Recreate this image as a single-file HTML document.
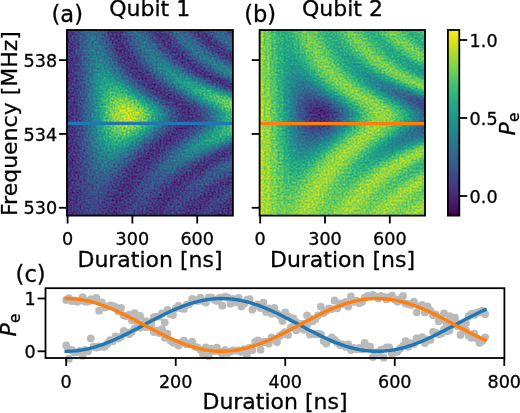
<!DOCTYPE html>
<html><head><meta charset="utf-8"><title>Figure</title><style>html,body{margin:0;padding:0;background:#fff;overflow:hidden}svg{display:block}</style></head><body>
<svg width="520" height="413" viewBox="0 0 520 413" font-family='"DejaVu Sans", "Liberation Sans", sans-serif' fill="#000"><style>text{stroke:#000;stroke-width:0.3px}</style>
<rect width="520" height="413" fill="#fff"/>
<defs><filter id="virca" x="0" y="0" width="100%" height="100%" color-interpolation-filters="sRGB"><feGaussianBlur in="SourceGraphic" stdDeviation="0.8" result="g"/><feTurbulence type="fractalNoise" baseFrequency="0.5" numOctaves="2" seed="3" result="t"/><feColorMatrix in="t" type="matrix" values="1 0 0 0 0  1 0 0 0 0  1 0 0 0 0  0 0 0 0 1" result="n"/><feComposite in="g" in2="n" operator="arithmetic" k1="0" k2="1" k3="0.420" k4="-0.210" result="v"/><feComponentTransfer in="v"><feFuncR type="table" tableValues="0.267 0.273 0.277 0.280 0.282 0.283 0.283 0.281 0.279 0.275 0.271 0.265 0.259 0.252 0.245 0.237 0.228 0.220 0.212 0.205 0.198 0.191 0.184 0.177 0.171 0.165 0.159 0.153 0.148 0.142 0.136 0.131 0.125 0.122 0.120 0.120 0.122 0.128 0.137 0.150 0.166 0.186 0.208 0.233 0.260 0.289 0.320 0.352 0.395 0.431 0.468 0.506 0.546 0.586 0.627 0.668 0.710 0.752 0.794 0.835 0.876 0.916 0.955 0.993"/><feFuncG type="table" tableValues="0.005 0.026 0.050 0.073 0.095 0.116 0.136 0.156 0.175 0.195 0.214 0.233 0.252 0.270 0.288 0.305 0.327 0.343 0.360 0.376 0.392 0.407 0.422 0.438 0.453 0.467 0.482 0.497 0.512 0.526 0.541 0.556 0.574 0.589 0.604 0.618 0.633 0.648 0.662 0.677 0.691 0.705 0.719 0.732 0.745 0.758 0.771 0.783 0.797 0.808 0.819 0.829 0.838 0.847 0.855 0.862 0.869 0.875 0.881 0.886 0.891 0.896 0.901 0.906"/><feFuncB type="table" tableValues="0.329 0.353 0.376 0.397 0.417 0.436 0.453 0.469 0.483 0.496 0.507 0.517 0.525 0.532 0.537 0.542 0.547 0.549 0.552 0.554 0.555 0.556 0.557 0.558 0.558 0.558 0.558 0.558 0.557 0.556 0.554 0.552 0.549 0.546 0.541 0.536 0.530 0.523 0.516 0.507 0.497 0.485 0.473 0.459 0.444 0.428 0.411 0.393 0.368 0.346 0.324 0.300 0.276 0.250 0.223 0.196 0.169 0.143 0.120 0.103 0.095 0.101 0.118 0.144"/></feComponentTransfer></filter><filter id="vircb2" x="0" y="0" width="100%" height="100%" color-interpolation-filters="sRGB"><feGaussianBlur in="SourceGraphic" stdDeviation="0.8" result="g"/><feTurbulence type="fractalNoise" baseFrequency="0.5" numOctaves="2" seed="11" result="t"/><feColorMatrix in="t" type="matrix" values="1 0 0 0 0  1 0 0 0 0  1 0 0 0 0  0 0 0 0 1" result="n"/><feComposite in="g" in2="n" operator="arithmetic" k1="0" k2="1" k3="0.340" k4="-0.170" result="v"/><feComponentTransfer in="v"><feFuncR type="table" tableValues="0.267 0.273 0.277 0.280 0.282 0.283 0.283 0.281 0.279 0.275 0.271 0.265 0.259 0.252 0.245 0.237 0.228 0.220 0.212 0.205 0.198 0.191 0.184 0.177 0.171 0.165 0.159 0.153 0.148 0.142 0.136 0.131 0.125 0.122 0.120 0.120 0.122 0.128 0.137 0.150 0.166 0.186 0.208 0.233 0.260 0.289 0.320 0.352 0.395 0.431 0.468 0.506 0.546 0.586 0.627 0.668 0.710 0.752 0.794 0.835 0.876 0.916 0.955 0.993"/><feFuncG type="table" tableValues="0.005 0.026 0.050 0.073 0.095 0.116 0.136 0.156 0.175 0.195 0.214 0.233 0.252 0.270 0.288 0.305 0.327 0.343 0.360 0.376 0.392 0.407 0.422 0.438 0.453 0.467 0.482 0.497 0.512 0.526 0.541 0.556 0.574 0.589 0.604 0.618 0.633 0.648 0.662 0.677 0.691 0.705 0.719 0.732 0.745 0.758 0.771 0.783 0.797 0.808 0.819 0.829 0.838 0.847 0.855 0.862 0.869 0.875 0.881 0.886 0.891 0.896 0.901 0.906"/><feFuncB type="table" tableValues="0.329 0.353 0.376 0.397 0.417 0.436 0.453 0.469 0.483 0.496 0.507 0.517 0.525 0.532 0.537 0.542 0.547 0.549 0.552 0.554 0.555 0.556 0.557 0.558 0.558 0.558 0.558 0.558 0.557 0.556 0.554 0.552 0.549 0.546 0.541 0.536 0.530 0.523 0.516 0.507 0.497 0.485 0.473 0.459 0.444 0.428 0.411 0.393 0.368 0.346 0.324 0.300 0.276 0.250 0.223 0.196 0.169 0.143 0.120 0.103 0.095 0.101 0.118 0.144"/></feComponentTransfer></filter></defs>
<clipPath id="ca"><rect x="66.95" y="30.00" width="165.95" height="185.60"/></clipPath><g clip-path="url(#ca)"><g fill="none" stroke-width="2" shape-rendering="crispEdges" filter="url(#virca)"><path stroke="#242424" d="M64 29h6M112 29h4M154 29h6M194 29h4M232 29h4M64 31h6M112 31h6M156 31h4M196 31h4M234 31h2M64 33h6M114 33h4M158 33h4M198 33h4M64 35h6M114 35h4M158 35h6M200 35h4M64 37h6M114 37h6M160 37h4M202 37h4M64 39h6M116 39h4M162 39h4M204 39h4M64 41h6M116 41h6M162 41h6M206 41h4M64 43h6M116 43h6M164 43h6M208 43h4M64 45h6M118 45h6M166 45h4M210 45h6M64 47h6M118 47h6M168 47h4M214 47h4M64 49h6M120 49h4M170 49h4M216 49h4M64 51h6M120 51h6M172 51h4M218 51h6M64 53h6M122 53h6M174 53h4M222 53h4M64 55h6M122 55h6M176 55h4M224 55h4M64 57h6M124 57h6M178 57h4M228 57h4M64 59h6M126 59h4M180 59h6M230 59h6M64 61h6M126 61h6M182 61h6M234 61h2M64 63h6M128 63h6M186 63h4M64 65h6M130 65h4M188 65h6M64 67h6M130 67h6M190 67h6M64 69h6M132 69h6M194 69h6M64 71h6M134 71h6M198 71h4M64 73h6M136 73h6M200 73h6M64 75h6M138 75h6M204 75h6M64 77h6M140 77h6M208 77h6M64 79h6M142 79h6M212 79h6M64 81h6M144 81h6M216 81h6M64 83h6M146 83h6M220 83h6M64 85h6M148 85h6M226 85h6M64 87h6M152 87h6M230 87h6M64 89h6M154 89h6M64 91h6M156 91h8M64 93h6M160 93h6M64 95h6M162 95h8M64 97h6M166 97h6M64 99h8M168 99h8M64 101h8M172 101h6M64 103h8M174 103h8M64 105h8M178 105h6M64 107h8M180 107h8M64 109h8M182 109h8M64 111h8M184 111h8M64 113h8M186 113h6M64 115h8M186 115h8M64 117h8M186 117h8M64 119h8M186 119h6M64 121h8M184 121h8M64 123h8M184 123h6M64 125h8M182 125h6M64 127h8M180 127h8M64 129h8M178 129h8M64 131h8M176 131h6M64 133h8M174 133h6M64 135h8M170 135h8M64 137h8M168 137h8M64 139h8M166 139h6M64 141h8M164 141h6M64 143h8M160 143h8M64 145h8M158 145h8M64 147h8M156 147h8M64 149h8M154 149h6M232 149h4M64 151h8M152 151h6M228 151h6M64 153h8M150 153h6M224 153h6M64 155h8M148 155h6M220 155h6M64 157h8M146 157h6M216 157h6M64 159h8M144 159h6M212 159h6M64 161h8M142 161h6M208 161h6M64 163h8M140 163h6M204 163h8M64 165h8M138 165h6M202 165h6M64 167h8M136 167h8M198 167h6M64 169h8M134 169h8M194 169h8M64 171h8M132 171h8M192 171h6M64 173h8M130 173h8M188 173h8M64 175h8M130 175h6M186 175h8M64 177h8M128 177h8M184 177h6M232 177h4M64 179h8M126 179h8M180 179h8M230 179h6M64 181h8M126 181h6M178 181h8M226 181h6M64 183h8M124 183h8M176 183h8M222 183h8M64 185h8M122 185h8M174 185h8M220 185h6M64 187h8M122 187h8M172 187h6M216 187h8M64 189h8M120 189h8M170 189h6M214 189h6M64 191h8M120 191h8M168 191h6M210 191h8M64 193h8M118 193h8M166 193h8M208 193h6M64 195h8M116 195h10M164 195h8M206 195h6M64 197h8M116 197h8M162 197h8M202 197h8M64 199h8M114 199h10M160 199h8M200 199h8M64 201h8M114 201h8M158 201h8M198 201h8M234 201h2M64 203h8M114 203h8M156 203h8M196 203h8M232 203h4M64 205h8M112 205h8M156 205h8M194 205h6M228 205h8M64 207h8M112 207h8M154 207h8M192 207h6M226 207h8M64 209h8M110 209h10M152 209h8M190 209h6M224 209h6M64 211h8M110 211h8M150 211h8M188 211h6M220 211h8M64 213h8M108 213h10M150 213h8M186 213h8M218 213h8M64 215h8M108 215h10M148 215h8M184 215h8M216 215h8M64 217h8M108 217h8M146 217h8M182 217h8M214 217h8"/><path stroke="#262626" d="M70 29h2M110 29h2M116 29h2M198 29h2M230 29h2M70 31h2M154 31h2M160 31h2M200 31h2M232 31h2M70 33h2M112 33h2M118 33h2M156 33h2M162 33h2M196 33h2M202 33h2M234 33h2M70 35h2M112 35h2M118 35h2M198 35h2M204 35h2M70 37h2M158 37h2M164 37h2M200 37h2M206 37h2M70 39h2M114 39h2M120 39h2M160 39h2M166 39h2M202 39h2M208 39h2M70 41h2M114 41h2M204 41h2M210 41h2M70 43h2M122 43h2M212 43h2M70 45h2M116 45h2M164 45h2M170 45h2M70 47h2M124 47h2M166 47h2M172 47h2M212 47h2M70 49h2M118 49h2M124 49h2M168 49h2M174 49h2M214 49h2M220 49h2M70 51h2M126 51h2M170 51h2M176 51h2M70 53h2M120 53h2M172 53h2M178 53h2M220 53h2M226 53h2M70 55h2M128 55h2M174 55h2M180 55h2M222 55h2M228 55h2M70 57h2M122 57h2M176 57h2M182 57h2M226 57h2M232 57h2M70 59h2M124 59h2M130 59h2M178 59h2M70 61h2M132 61h2M188 61h2M232 61h2M70 63h2M126 63h2M184 63h2M190 63h2M70 65h2M128 65h2M134 65h2M186 65h2M70 67h2M136 67h2M196 67h2M70 69h2M138 69h2M192 69h2M70 71h2M132 71h2M140 71h2M196 71h2M202 71h2M70 73h2M134 73h2M142 73h2M206 73h2M70 75h2M136 75h2M144 75h2M202 75h2M70 77h2M138 77h2M146 77h2M206 77h2M70 79h2M140 79h2M148 79h2M210 79h2M70 81h2M142 81h2M150 81h2M214 81h2M222 81h2M70 83h2M144 83h2M152 83h2M226 83h2M70 85h2M154 85h2M224 85h2M70 87h2M150 87h2M158 87h2M70 89h2M152 89h2M160 89h2M234 89h2M70 91h2M70 93h2M158 93h2M166 93h2M70 95h2M70 97h2M164 97h2M172 97h2M176 99h2M170 101h2M178 101h2M182 103h2M176 105h2M184 105h2M178 107h2M188 107h2M180 109h2M190 109h2M182 111h2M192 111h2M184 113h2M192 113h2M184 115h2M194 115h2M184 117h2M194 117h2M184 119h2M192 119h2M182 121h2M192 121h2M182 123h2M190 123h2M180 125h2M188 125h2M178 127h2M176 129h2M174 131h2M182 131h2M172 133h2M180 133h2M178 135h2M72 137h2M166 137h2M176 137h2M72 139h2M164 139h2M172 139h2M72 141h2M162 141h2M170 141h2M72 143h2M168 143h2M72 145h2M156 145h2M166 145h2M72 147h2M154 147h2M72 149h2M152 149h2M160 149h2M230 149h2M72 151h2M150 151h2M158 151h2M226 151h2M234 151h2M72 153h2M148 153h2M156 153h2M222 153h2M230 153h2M72 155h2M146 155h2M154 155h2M218 155h2M226 155h2M72 157h2M144 157h2M152 157h2M214 157h2M222 157h2M72 159h2M142 159h2M150 159h2M210 159h2M218 159h2M72 161h2M140 161h2M148 161h2M206 161h2M214 161h2M72 163h2M138 163h2M146 163h2M202 163h2M72 165h2M136 165h2M144 165h2M200 165h2M208 165h2M72 167h2M134 167h2M196 167h2M204 167h2M72 169h2M132 169h2M142 169h2M192 169h2M202 169h2M72 171h2M130 171h2M140 171h2M190 171h2M198 171h2M72 173h2M128 173h2M138 173h2M196 173h2M72 175h2M128 175h2M136 175h2M184 175h2M234 175h2M72 177h2M126 177h2M136 177h2M182 177h2M190 177h2M72 179h2M124 179h2M134 179h2M188 179h2M228 179h2M72 181h2M124 181h2M132 181h2M176 181h2M186 181h2M224 181h2M232 181h2M72 183h2M122 183h2M132 183h2M174 183h2M184 183h2M220 183h2M72 185h2M120 185h2M130 185h2M172 185h2M218 185h2M226 185h2M72 187h2M120 187h2M130 187h2M170 187h2M178 187h2M214 187h2M72 189h2M118 189h2M128 189h2M168 189h2M176 189h2M212 189h2M220 189h2M72 191h2M118 191h2M128 191h2M166 191h2M174 191h2M208 191h2M218 191h2M72 193h2M116 193h2M126 193h2M164 193h2M174 193h2M206 193h2M214 193h2M72 195h2M114 195h2M126 195h2M162 195h2M172 195h2M204 195h2M212 195h2M72 197h2M114 197h2M124 197h2M160 197h2M170 197h2M200 197h2M210 197h2M72 199h2M112 199h2M124 199h2M158 199h2M168 199h2M198 199h2M208 199h2M72 201h2M112 201h2M122 201h2M156 201h2M166 201h2M196 201h2M206 201h2M232 201h2M72 203h2M110 203h4M122 203h2M154 203h2M164 203h2M194 203h2M204 203h2M230 203h2M72 205h2M110 205h2M120 205h4M154 205h2M164 205h2M192 205h2M200 205h2M226 205h2M72 207h4M108 207h4M120 207h2M152 207h2M162 207h2M190 207h2M198 207h2M224 207h2M72 209h4M108 209h2M120 209h2M150 209h2M160 209h2M188 209h2M196 209h2M222 209h2M230 209h2M72 211h4M108 211h2M118 211h2M148 211h2M158 211h2M186 211h2M194 211h2M228 211h2M72 213h4M106 213h2M118 213h2M146 213h4M158 213h2M184 213h2M194 213h2M216 213h2M226 213h2M72 215h4M106 215h2M118 215h2M146 215h2M156 215h2M182 215h2M192 215h2M214 215h2M224 215h2M72 217h4M104 217h4M116 217h2M144 217h2M154 217h4M180 217h2M190 217h2M212 217h2M222 217h2"/><path stroke="#282828" d="M152 29h2M160 29h2M192 29h2M110 31h2M118 31h2M194 31h2M110 33h2M120 35h2M156 35h2M164 35h2M112 37h2M120 37h2M112 39h2M122 41h2M160 41h2M168 41h2M114 43h2M162 43h2M170 43h2M206 43h2M124 45h2M172 45h2M208 45h2M216 45h2M72 47h2M116 47h2M210 47h2M218 47h2M72 49h2M126 49h2M72 51h2M118 51h2M216 51h2M224 51h2M72 53h2M128 53h2M72 55h2M120 55h2M72 57h2M130 57h2M184 57h2M72 59h2M122 59h2M132 59h2M186 59h2M228 59h2M72 61h2M124 61h2M180 61h2M72 63h2M134 63h2M182 63h2M72 65h2M126 65h2M136 65h2M194 65h2M72 67h2M128 67h2M188 67h2M72 69h2M130 69h2M200 69h2M72 71h2M194 71h2M72 73h2M198 73h2M72 75h2M210 75h2M72 77h2M214 77h2M72 79h2M218 79h2M72 81h2M72 83h2M154 83h2M218 83h2M72 85h2M146 85h2M156 85h2M232 85h2M72 87h2M148 87h2M228 87h2M72 89h2M72 91h2M154 91h2M164 91h2M72 93h2M72 95h2M160 95h2M170 95h2M72 97h2M162 97h2M174 97h2M72 99h2M166 99h2M72 101h2M180 101h2M72 103h2M172 103h2M72 105h2M174 105h2M186 105h2M72 107h2M72 109h2M72 111h2M72 113h2M182 113h2M194 113h2M72 115h2M182 115h2M72 117h2M182 117h2M72 119h2M182 119h2M194 119h2M72 121h2M72 123h2M180 123h2M192 123h2M72 125h2M178 125h2M190 125h2M72 127h2M176 127h2M188 127h2M72 129h2M174 129h2M186 129h2M72 131h2M172 131h2M184 131h2M72 133h2M170 133h2M182 133h2M72 135h2M168 135h2M180 135h2M162 139h2M174 139h2M160 141h2M172 141h2M158 143h2M164 147h2M234 147h2M150 149h2M162 149h2M148 151h2M160 151h2M146 153h2M158 153h2M220 153h2M232 153h2M144 155h2M156 155h2M216 155h2M142 157h2M154 157h2M212 157h2M74 159h2M140 159h2M152 159h2M208 159h2M220 159h2M74 161h2M138 161h2M150 161h2M216 161h2M74 163h2M136 163h2M148 163h2M212 163h2M74 165h2M134 165h2M146 165h2M198 165h2M74 167h2M132 167h2M144 167h2M194 167h2M206 167h2M74 169h2M130 169h2M74 171h2M142 171h2M188 171h2M200 171h2M74 173h2M140 173h2M186 173h2M74 175h2M126 175h2M138 175h2M194 175h2M74 177h2M124 177h2M180 177h2M192 177h2M230 177h2M74 179h2M136 179h2M178 179h2M190 179h2M226 179h2M74 181h2M122 181h2M134 181h2M222 181h2M234 181h2M74 183h2M120 183h2M134 183h2M172 183h2M230 183h2M74 185h2M132 185h2M170 185h2M182 185h2M216 185h2M228 185h2M74 187h2M118 187h2M132 187h2M168 187h2M180 187h2M224 187h2M74 189h2M116 189h2M130 189h2M166 189h2M178 189h2M210 189h2M222 189h2M74 191h2M116 191h2M164 191h2M176 191h2M74 193h2M114 193h2M128 193h2M162 193h2M204 193h2M216 193h2M74 195h2M128 195h2M160 195h2M202 195h2M214 195h2M74 197h2M112 197h2M126 197h2M158 197h2M172 197h2M212 197h2M74 199h2M126 199h2M156 199h2M170 199h2M234 199h2M74 201h2M110 201h2M124 201h2M154 201h2M168 201h2M194 201h2M230 201h2M74 203h2M124 203h2M166 203h2M192 203h2M228 203h2M74 205h2M108 205h2M152 205h2M190 205h2M202 205h2M76 207h2M122 207h2M150 207h2M164 207h2M188 207h2M200 207h2M222 207h2M234 207h2M76 209h2M106 209h2M122 209h2M148 209h2M162 209h2M186 209h2M198 209h2M220 209h2M232 209h2M76 211h2M106 211h2M120 211h2M146 211h2M160 211h2M184 211h2M196 211h2M218 211h2M230 211h2M76 213h2M104 213h2M120 213h2M160 213h2M182 213h2M214 213h2M228 213h2M76 215h2M104 215h2M120 215h2M144 215h2M158 215h2M180 215h2M194 215h2M212 215h2M226 215h2M76 217h2M102 217h2M118 217h2M142 217h2M178 217h2M192 217h2M210 217h2M224 217h2"/><path stroke="#2a2a2a" d="M72 29h2M108 29h2M118 29h2M200 29h2M72 31h2M162 31h2M202 31h2M72 33h2M120 33h2M154 33h2M204 33h2M72 35h2M110 35h2M72 37h2M156 37h2M166 37h2M72 39h2M122 39h2M158 39h2M210 39h2M72 41h2M112 41h2M212 41h2M72 43h2M124 43h2M214 43h2M72 45h2M114 45h2M126 47h2M164 47h2M174 47h2M116 49h2M166 49h2M176 49h2M212 49h2M222 49h2M128 51h2M168 51h2M178 51h2M118 53h2M170 53h2M180 53h2M218 53h2M130 55h2M172 55h2M182 55h2M230 55h2M120 57h2M174 57h2M224 57h2M134 61h2M124 63h2M192 63h2M234 63h2M184 65h2M138 67h2M198 67h2M140 69h2M190 69h2M130 71h2M142 71h2M204 71h2M132 73h2M144 73h2M208 73h2M134 75h2M146 75h2M200 75h2M136 77h2M148 77h2M204 77h2M138 79h2M150 79h2M208 79h2M140 81h2M152 81h2M224 81h2M142 83h2M228 83h2M222 85h2M160 87h2M150 89h2M162 89h2M232 89h2M156 93h2M168 93h2M158 95h2M178 99h2M74 101h2M168 101h2M74 103h2M170 103h2M184 103h2M74 105h2M74 107h2M176 107h2M190 107h2M74 109h2M178 109h2M192 109h2M74 111h2M180 111h2M194 111h2M74 113h2M74 115h2M196 115h2M74 117h2M196 117h2M74 119h2M196 119h2M74 121h2M180 121h2M194 121h2M74 123h2M178 123h2M74 125h2M192 125h2M74 127h2M190 127h2M74 129h2M188 129h2M74 131h2M186 131h2M74 133h2M168 133h2M74 135h2M166 135h2M74 137h2M164 137h2M178 137h2M74 139h2M176 139h2M74 141h2M74 143h2M156 143h2M170 143h2M74 145h2M154 145h2M168 145h2M74 147h2M152 147h2M166 147h2M74 149h2M228 149h2M74 151h2M224 151h2M74 153h2M74 155h2M142 155h2M228 155h2M74 157h2M140 157h2M224 157h2M138 159h2M136 161h2M204 161h2M134 163h2M200 163h2M214 163h2M148 165h2M196 165h2M210 165h2M146 167h2M144 169h2M190 169h2M204 169h2M128 171h2M126 173h2M184 173h2M198 173h2M76 175h2M124 175h2M140 175h2M182 175h2M196 175h2M232 175h2M76 177h2M138 177h2M228 177h2M76 179h2M122 179h2M176 179h2M76 181h2M120 181h2M136 181h2M174 181h2M188 181h2M76 183h2M118 183h2M186 183h2M218 183h2M232 183h2M76 185h2M118 185h2M134 185h2M184 185h2M76 187h2M116 187h2M182 187h2M212 187h2M226 187h2M76 189h2M132 189h2M164 189h2M180 189h2M76 191h2M114 191h2M130 191h2M162 191h2M178 191h2M206 191h2M220 191h2M76 193h2M112 193h2M130 193h2M160 193h2M176 193h2M218 193h2M76 195h2M112 195h2M158 195h2M174 195h2M200 195h2M76 197h2M110 197h2M128 197h2M156 197h2M198 197h2M76 199h2M110 199h2M196 199h2M210 199h2M232 199h2M76 201h2M108 201h2M126 201h2M170 201h2M208 201h2M76 203h2M108 203h2M126 203h2M152 203h2M168 203h2M190 203h2M206 203h2M226 203h2M76 205h2M106 205h2M124 205h2M150 205h2M166 205h2M188 205h2M204 205h2M224 205h2M106 207h2M124 207h2M148 207h2M186 207h2M202 207h2M104 209h2M124 209h2M146 209h2M164 209h2M184 209h2M200 209h2M218 209h2M234 209h2M78 211h2M104 211h2M122 211h2M162 211h2M182 211h2M198 211h2M216 211h2M232 211h2M78 213h2M102 213h2M122 213h2M144 213h2M180 213h2M196 213h2M78 215h2M102 215h2M122 215h2M142 215h2M160 215h2M178 215h2M78 217h2M100 217h2M120 217h2M140 217h2M158 217h2M176 217h2M194 217h2M208 217h2"/><path stroke="#2c2c2c" d="M228 29h2M108 31h2M120 31h2M152 31h2M192 31h2M230 31h2M164 33h2M194 33h2M232 33h2M154 35h2M196 35h2M206 35h2M110 37h2M122 37h2M198 37h2M208 37h2M168 39h2M200 39h2M124 41h2M170 41h2M202 41h2M112 43h2M160 43h2M204 43h2M162 45h2M114 47h2M220 47h2M116 51h2M214 51h2M130 53h2M228 53h2M118 55h2M220 55h2M132 57h2M234 57h2M74 59h2M176 59h2M188 59h2M74 61h2M122 61h2M178 61h2M190 61h2M230 61h2M74 63h2M136 63h2M74 65h2M138 65h2M196 65h2M74 67h2M126 67h2M186 67h2M74 69h2M128 69h2M202 69h2M74 71h2M74 73h2M196 73h2M74 75h2M212 75h2M74 77h2M216 77h2M74 79h2M220 79h2M74 81h2M212 81h2M74 83h2M216 83h2M74 85h2M144 85h2M158 85h2M234 85h2M74 87h2M146 87h2M226 87h2M74 89h2M74 91h2M152 91h2M166 91h2M74 93h2M74 95h2M172 95h2M74 97h2M176 97h2M74 99h2M164 99h2M182 101h2M172 105h2M188 105h2M180 113h2M196 113h2M180 115h2M180 117h2M180 119h2M196 121h2M194 123h2M176 125h2M174 127h2M172 129h2M170 131h2M184 133h2M182 135h2M160 139h2M158 141h2M174 141h2M172 143h2M150 147h2M232 147h2M148 149h2M164 149h2M76 151h2M146 151h2M162 151h2M76 153h2M144 153h2M160 153h2M218 153h2M234 153h2M76 155h2M158 155h2M214 155h2M76 157h2M156 157h2M210 157h2M76 159h2M154 159h2M206 159h2M222 159h2M76 161h2M152 161h2M202 161h2M218 161h2M76 163h2M150 163h2M76 165h2M132 165h2M76 167h2M130 167h2M192 167h2M208 167h2M76 169h2M128 169h2M76 171h2M126 171h2M144 171h2M186 171h2M202 171h2M76 173h2M142 173h2M180 175h2M122 177h2M140 177h2M178 177h2M194 177h2M120 179h2M138 179h2M192 179h2M224 179h2M172 181h2M190 181h2M220 181h2M136 183h2M170 183h2M116 185h2M168 185h2M214 185h2M230 185h2M78 187h2M134 187h2M166 187h2M210 187h2M78 189h2M114 189h2M208 189h2M224 189h2M78 191h2M112 191h2M132 191h2M222 191h2M78 193h2M178 193h2M202 193h2M78 195h2M110 195h2M130 195h2M176 195h2M216 195h2M78 197h2M174 197h2M196 197h2M214 197h2M234 197h2M78 199h2M108 199h2M128 199h2M154 199h2M172 199h2M194 199h2M212 199h2M78 201h2M106 201h2M128 201h2M152 201h2M192 201h2M210 201h2M228 201h2M78 203h2M106 203h2M150 203h2M170 203h2M208 203h2M78 205h2M104 205h2M126 205h2M148 205h2M168 205h2M206 205h2M222 205h2M78 207h2M104 207h2M126 207h2M146 207h2M166 207h2M184 207h2M204 207h2M220 207h2M78 209h2M102 209h2M166 209h2M182 209h2M202 209h2M102 211h2M124 211h2M144 211h2M164 211h2M180 211h2M200 211h2M214 211h2M80 213h2M100 213h2M124 213h2M142 213h2M162 213h2M178 213h2M198 213h2M212 213h2M230 213h2M80 215h2M100 215h2M124 215h2M140 215h2M162 215h2M176 215h2M196 215h2M210 215h2M228 215h2M80 217h2M98 217h2M122 217h2M138 217h2M160 217h2M174 217h2M206 217h2M226 217h2"/><path stroke="#2e2e2e" d="M74 29h2M120 29h2M150 29h2M162 29h2M190 29h2M74 31h2M74 33h2M108 33h2M152 33h2M74 35h2M122 35h2M166 35h2M234 35h2M74 37h2M74 39h2M110 39h2M74 41h2M158 41h2M74 43h2M172 43h2M74 45h2M126 45h2M174 45h2M206 45h2M218 45h2M74 47h2M208 47h2M74 49h2M114 49h2M128 49h2M74 51h2M226 51h2M74 53h2M116 53h2M74 55h2M184 55h2M232 55h2M74 57h2M186 57h2M120 59h2M134 59h2M226 59h2M180 63h2M124 65h2M140 67h2M142 69h2M192 71h2M206 71h2M130 73h2M132 75h2M134 77h2M136 79h2M138 81h2M154 81h2M156 83h2M230 83h2M220 85h2M148 89h2M164 89h2M154 93h2M170 93h2M160 97h2M180 99h2M166 101h2M186 103h2M174 107h2M192 107h2M176 109h2M194 109h2M178 111h2M196 111h2M198 115h2M198 117h2M178 121h2M76 123h2M176 123h2M76 125h2M194 125h2M76 127h2M192 127h2M76 129h2M190 129h2M76 131h2M76 133h2M76 135h2M164 135h2M76 137h2M162 137h2M180 137h2M76 139h2M76 141h2M76 143h2M154 143h2M76 145h2M152 145h2M170 145h2M76 147h2M168 147h2M76 149h2M226 149h2M222 151h2M140 155h2M230 155h2M138 157h2M226 157h2M136 159h2M134 161h2M132 163h2M198 163h2M150 165h2M212 165h2M148 167h2M78 169h2M146 169h2M188 169h2M206 169h2M78 171h2M78 173h2M124 173h2M144 173h2M182 173h2M200 173h2M234 173h2M78 175h2M122 175h2M142 175h2M198 175h2M230 175h2M78 177h2M120 177h2M226 177h2M78 179h2M140 179h2M174 179h2M78 181h2M118 181h2M138 181h2M78 183h2M116 183h2M188 183h2M216 183h2M234 183h2M78 185h2M136 185h2M186 185h2M114 187h2M164 187h2M184 187h2M228 187h2M112 189h2M134 189h2M162 189h2M182 189h2M206 189h2M160 191h2M180 191h2M204 191h2M110 193h2M132 193h2M158 193h2M220 193h2M80 195h2M108 195h2M132 195h2M156 195h2M198 195h2M218 195h2M80 197h2M108 197h2M130 197h2M154 197h2M216 197h2M80 199h2M106 199h2M130 199h2M152 199h2M174 199h2M230 199h2M80 201h2M150 201h2M172 201h2M190 201h2M80 203h2M104 203h2M128 203h2M148 203h2M188 203h2M224 203h2M80 205h2M128 205h2M146 205h2M170 205h2M186 205h2M80 207h2M102 207h2M168 207h2M218 207h2M80 209h2M126 209h2M144 209h2M204 209h2M216 209h2M80 211h2M100 211h2M126 211h2M142 211h2M166 211h2M178 211h2M202 211h2M212 211h2M234 211h2M82 213h2M98 213h2M126 213h2M140 213h2M164 213h2M176 213h2M200 213h2M210 213h2M232 213h2M82 215h2M98 215h2M126 215h2M138 215h2M164 215h2M174 215h2M198 215h2M208 215h2M230 215h2M82 217h2M96 217h2M124 217h2M136 217h2M162 217h2M172 217h2M196 217h4M204 217h2M228 217h4M234 217h2"/><path stroke="#303030" d="M106 29h2M202 29h2M164 31h2M204 31h2M122 33h2M108 35h2M154 37h2M168 37h2M124 39h2M156 39h2M110 41h2M214 41h2M126 43h2M216 43h2M112 45h2M128 47h2M162 47h2M176 47h2M164 49h2M178 49h2M210 49h2M130 51h2M166 51h2M180 51h2M168 53h2M182 53h2M216 53h2M132 55h2M170 55h2M118 57h2M172 57h2M222 57h2M136 61h2M122 63h2M194 63h2M182 65h2M200 67h2M126 69h2M188 69h2M128 71h2M144 71h2M146 73h2M210 73h2M148 75h2M198 75h2M76 77h2M150 77h2M202 77h2M76 79h2M152 79h2M206 79h2M76 81h2M210 81h2M226 81h2M76 83h2M140 83h2M76 85h2M142 85h2M76 87h2M162 87h2M76 89h2M230 89h2M76 91h2M150 91h2M168 91h2M76 93h2M76 95h2M156 95h2M174 95h2M76 97h2M76 99h2M162 99h2M76 101h2M184 101h2M76 103h2M168 103h2M76 105h2M190 105h2M76 107h2M76 109h2M76 111h2M76 113h2M178 113h2M198 113h2M76 115h2M178 115h2M76 117h2M178 117h2M76 119h2M178 119h2M198 119h2M76 121h2M196 123h2M174 125h2M172 127h2M170 129h2M168 131h2M188 131h2M166 133h2M186 133h2M178 139h2M156 141h2M176 141h2M230 147h2M146 149h2M166 149h2M144 151h2M164 151h2M78 153h2M142 153h2M162 153h2M78 155h2M160 155h2M212 155h2M78 157h2M158 157h2M208 157h2M78 159h2M156 159h2M78 161h2M154 161h2M220 161h2M78 163h2M152 163h2M216 163h2M78 165h2M130 165h2M194 165h2M78 167h2M128 167h2M190 167h2M210 167h2M126 169h2M124 171h2M146 171h2M184 171h2M204 171h2M178 175h2M142 177h2M176 177h2M196 177h2M118 179h2M194 179h2M222 179h2M80 181h2M116 181h2M140 181h2M170 181h2M192 181h2M218 181h2M80 183h2M138 183h2M168 183h2M80 185h2M114 185h2M166 185h2M212 185h2M232 185h2M80 187h2M112 187h2M136 187h2M208 187h2M80 189h2M226 189h2M80 191h2M110 191h2M134 191h2M182 191h2M202 191h2M224 191h2M80 193h2M108 193h2M134 193h2M180 193h2M200 193h2M178 195h2M106 197h2M132 197h2M176 197h2M194 197h2M232 197h2M192 199h2M214 199h2M228 199h2M82 201h2M104 201h2M130 201h2M174 201h2M212 201h2M226 201h2M82 203h2M102 203h2M130 203h2M172 203h2M186 203h2M210 203h2M222 203h2M82 205h2M102 205h2M130 205h2M184 205h2M208 205h2M220 205h2M82 207h2M100 207h2M128 207h2M144 207h2M170 207h2M182 207h2M206 207h2M216 207h2M82 209h2M100 209h2M128 209h2M142 209h2M168 209h2M180 209h2M206 209h2M214 209h2M82 211h2M98 211h2M128 211h2M140 211h2M168 211h2M176 211h2M204 211h2M210 211h2M84 213h2M96 213h2M128 213h2M138 213h2M166 213h4M174 213h2M202 213h8M234 213h2M84 215h2M96 215h2M128 215h2M136 215h2M166 215h8M200 215h8M232 215h4M84 217h2M94 217h2M126 217h10M164 217h8M200 217h4M232 217h2"/><path stroke="#323232" d="M226 29h2M106 31h2M122 31h2M150 31h2M228 31h2M166 33h2M192 33h2M206 33h2M194 35h2M208 35h2M108 37h2M124 37h2M196 37h2M210 37h2M170 39h2M198 39h2M212 39h2M126 41h2M172 41h2M200 41h2M158 43h2M160 45h2M112 47h2M224 49h2M114 51h2M76 53h2M132 53h2M230 53h2M76 55h2M116 55h2M218 55h2M76 57h2M134 57h2M76 59h2M174 59h2M76 61h2M120 61h2M176 61h2M192 61h2M228 61h2M76 63h2M138 63h2M232 63h2M76 65h2M140 65h2M76 67h2M124 67h2M76 69h2M76 71h2M76 73h2M194 73h2M76 75h2M214 75h2M218 77h2M222 79h2M214 83h2M160 85h2M144 87h2M224 87h2M152 93h2M158 97h2M178 97h2M164 101h2M170 105h2M172 107h2M196 109h2M176 111h2M198 111h2M200 115h2M200 117h2M176 121h2M198 121h2M184 135h2M78 137h2M160 137h2M182 137h2M78 139h2M158 139h2M78 141h2M78 143h2M174 143h2M78 145h2M150 145h2M172 145h2M234 145h2M78 147h2M148 147h2M78 149h2M78 151h2M220 151h2M216 153h2M232 155h2M228 157h2M204 159h2M224 159h2M200 161h2M196 163h2M214 165h2M150 167h2M80 169h2M148 169h2M186 169h2M208 169h2M80 171h2M80 173h2M122 173h2M180 173h2M202 173h2M232 173h2M80 175h2M120 175h2M144 175h2M200 175h2M228 175h2M80 177h2M118 177h2M80 179h2M142 179h2M172 179h2M114 183h2M140 183h2M190 183h2M214 183h2M138 185h2M188 185h2M138 187h2M162 187h2M186 187h2M230 187h2M82 189h2M110 189h2M136 189h2M160 189h2M184 189h2M204 189h2M228 189h2M82 191h2M108 191h2M136 191h2M158 191h2M82 193h2M156 193h2M198 193h2M222 193h2M82 195h2M106 195h2M134 195h2M154 195h2M180 195h2M196 195h2M220 195h2M234 195h2M82 197h2M104 197h2M134 197h2M152 197h2M178 197h2M218 197h2M230 197h2M82 199h2M104 199h2M132 199h2M150 199h2M176 199h2M190 199h2M216 199h2M102 201h2M132 201h2M148 201h2M176 201h2M188 201h2M214 201h2M224 201h2M84 203h2M132 203h2M146 203h2M174 203h2M184 203h2M212 203h2M220 203h2M84 205h2M100 205h2M132 205h2M144 205h2M172 205h2M182 205h2M210 205h2M218 205h2M84 207h2M98 207h2M130 207h2M142 207h2M172 207h2M180 207h2M208 207h8M84 209h2M96 209h4M130 209h4M138 209h4M170 209h10M208 209h6M84 211h4M96 211h2M130 211h4M136 211h4M170 211h6M206 211h4M86 213h4M94 213h2M130 213h8M170 213h4M86 215h10M130 215h6M86 217h8"/><path stroke="#343434" d="M148 29h2M164 29h2M188 29h2M76 31h2M190 31h2M76 33h2M106 33h2M230 33h2M76 35h2M124 35h2M152 35h2M168 35h2M76 37h2M76 39h2M108 39h2M76 41h2M156 41h2M76 43h2M110 43h2M174 43h2M202 43h2M76 45h2M128 45h2M204 45h2M76 47h2M222 47h2M76 49h2M130 49h2M76 51h2M212 51h2M188 57h2M118 59h2M136 59h2M190 59h2M224 59h2M178 63h2M122 65h2M198 65h2M142 67h2M184 67h2M204 69h2M190 71h2M128 73h2M130 75h2M132 77h2M134 79h2M136 81h2M156 81h2M158 83h2M232 83h2M218 85h2M146 89h2M166 89h2M234 91h2M172 93h2M182 99h2M78 103h2M188 103h2M78 105h2M78 107h2M194 107h2M78 109h2M174 109h2M78 111h2M78 113h2M200 113h2M78 115h2M78 117h2M78 119h2M176 119h2M200 119h2M78 121h2M78 123h2M174 123h2M198 123h2M78 125h2M196 125h2M78 127h2M194 127h2M78 129h2M192 129h2M78 131h2M190 131h2M78 133h2M164 133h2M78 135h2M162 135h2M180 139h2M152 143h2M170 147h2M168 149h2M224 149h2M140 153h2M138 155h2M136 157h2M80 159h2M134 159h2M80 161h2M132 161h2M156 161h2M80 163h2M130 163h2M154 163h2M218 163h2M80 165h2M128 165h2M152 165h2M192 165h2M80 167h2M126 167h2M124 169h2M148 171h2M206 171h2M146 173h2M144 177h2M174 177h2M198 177h2M224 177h2M82 179h2M116 179h2M196 179h2M220 179h2M82 181h2M114 181h2M142 181h2M216 181h2M82 183h2M166 183h2M82 185h2M112 185h2M140 185h2M164 185h2M210 185h2M234 185h2M82 187h2M110 187h2M188 187h2M206 187h2M138 189h2M186 189h2M156 191h2M184 191h2M200 191h2M226 191h2M106 193h2M136 193h2M154 193h2M182 193h2M224 193h2M84 195h2M104 195h2M136 195h2M152 195h2M194 195h2M222 195h2M232 195h2M84 197h2M150 197h2M180 197h2M192 197h2M220 197h2M84 199h2M102 199h2M134 199h2M148 199h2M178 199h2M188 199h2M218 199h2M226 199h2M84 201h2M100 201h2M134 201h2M146 201h2M178 201h2M186 201h2M216 201h2M222 201h2M86 203h2M100 203h2M134 203h2M144 203h2M176 203h2M182 203h2M214 203h6M86 205h2M98 205h2M134 205h2M140 205h4M174 205h8M212 205h6M86 207h4M96 207h2M132 207h10M174 207h6M86 209h10M134 209h4M88 211h8M134 211h2M90 213h4"/><path stroke="#363636" d="M76 29h2M104 29h2M122 29h2M150 33h2M106 35h2M232 35h2M170 37h2M126 39h2M154 39h2M128 43h2M110 45h2M176 45h2M220 45h2M178 47h2M206 47h2M112 49h2M162 49h2M180 49h2M132 51h2M164 51h2M182 51h2M228 51h2M114 53h2M166 53h2M184 53h2M214 53h2M134 55h2M168 55h2M186 55h2M234 55h2M116 57h2M220 57h2M138 61h2M120 63h2M196 63h2M124 69h2M144 69h2M186 69h2M126 71h2M146 71h2M208 71h2M148 73h2M150 75h2M78 77h2M152 77h2M200 77h2M78 79h2M154 79h2M204 79h2M78 81h2M228 81h2M78 83h2M138 83h2M78 85h2M140 85h2M78 87h2M164 87h2M78 89h2M228 89h2M78 91h2M148 91h2M170 91h2M78 93h2M78 95h2M154 95h2M176 95h2M78 97h2M78 99h2M160 99h2M78 101h2M186 101h2M166 103h2M192 105h2M176 113h2M176 115h2M176 117h2M200 121h2M172 125h2M170 127h2M168 129h2M166 131h2M188 133h2M186 135h2M156 139h2M154 141h2M178 141h2M80 147h2M228 147h2M80 149h2M144 149h2M80 151h2M142 151h2M166 151h2M80 153h2M164 153h2M214 153h2M80 155h2M162 155h2M210 155h2M80 157h2M160 157h2M206 157h2M158 159h2M202 159h2M226 159h2M222 161h2M188 167h2M212 167h2M150 169h2M82 171h2M122 171h2M182 171h2M82 173h2M120 173h2M204 173h2M82 175h2M118 175h2M146 175h2M176 175h2M82 177h2M144 179h2M170 179h2M168 181h2M194 181h2M112 183h2M142 183h2M192 183h2M212 183h2M110 185h2M162 185h2M190 185h2M84 187h2M140 187h2M160 187h2M232 187h2M84 189h2M108 189h2M158 189h2M202 189h2M230 189h2M84 191h2M106 191h2M138 191h2M228 191h2M84 193h2M104 193h2M138 193h2M184 193h2M196 193h2M226 193h2M234 193h2M150 195h2M182 195h2M192 195h2M224 195h2M230 195h2M86 197h2M102 197h2M136 197h2M148 197h2M182 197h2M190 197h2M222 197h2M226 197h4M86 199h2M100 199h2M136 199h2M146 199h2M180 199h4M186 199h2M220 199h6M86 201h4M98 201h2M136 201h2M142 201h4M180 201h6M218 201h4M88 203h2M96 203h4M136 203h8M178 203h4M88 205h10M136 205h4M90 207h6"/><path stroke="#383838" d="M204 29h2M104 31h2M148 31h2M166 31h2M206 31h2M124 33h2M106 37h2M126 37h2M152 37h2M234 37h2M172 39h2M108 41h2M216 41h2M218 43h2M158 45h2M130 47h2M160 47h2M208 49h2M112 51h2M78 57h2M136 57h2M170 57h2M78 59h2M172 59h2M78 61h2M118 61h2M194 61h2M78 63h2M140 63h2M230 63h2M78 65h2M180 65h2M234 65h2M78 67h2M122 67h2M202 67h2M78 69h2M78 71h2M78 73h2M192 73h2M212 73h2M78 75h2M196 75h2M216 75h2M220 77h2M224 79h2M208 81h2M162 85h2M142 87h2M222 87h2M156 97h2M180 97h2M162 101h2M168 105h2M170 107h2M198 109h2M174 111h2M200 111h2M202 115h2M202 117h2M174 121h2M198 125h2M196 127h2M194 129h2M80 135h2M80 137h2M158 137h2M184 137h2M80 139h2M80 141h2M80 143h2M176 143h2M80 145h2M148 145h2M174 145h2M232 145h2M146 147h2M218 151h2M234 155h2M134 157h2M230 157h2M132 159h2M130 161h2M198 161h2M82 163h2M128 163h2M194 163h2M82 165h2M126 165h2M154 165h2M216 165h2M82 167h2M124 167h2M152 167h2M82 169h2M184 169h2M210 169h2M234 171h2M148 173h2M178 173h2M230 173h2M202 175h2M226 175h2M116 177h2M146 177h2M172 177h2M200 177h2M222 177h2M84 179h2M114 179h2M198 179h2M218 179h2M84 181h2M112 181h2M144 181h2M214 181h2M84 183h2M164 183h2M84 185h2M142 185h2M192 185h2M208 185h2M108 187h2M190 187h2M204 187h2M234 187h2M106 189h2M140 189h2M156 189h2M188 189h2M86 191h2M104 191h2M140 191h2M154 191h2M186 191h2M198 191h2M230 191h2M86 193h2M152 193h2M186 193h2M194 193h2M228 193h2M232 193h2M86 195h2M102 195h2M138 195h2M148 195h2M184 195h4M190 195h2M226 195h4M88 197h2M100 197h2M138 197h4M146 197h2M184 197h6M224 197h2M88 199h2M98 199h2M138 199h8M184 199h2M90 201h8M138 201h4M90 203h6"/><path stroke="#3a3a3a" d="M224 29h2M124 31h2M168 33h2M190 33h2M208 33h2M150 35h2M192 35h2M210 35h2M194 37h2M212 37h2M78 39h2M196 39h2M214 39h2M78 41h2M128 41h2M174 41h2M198 41h2M78 43h2M108 43h2M156 43h2M78 45h2M130 45h2M78 47h2M110 47h2M78 49h2M132 49h2M226 49h2M78 51h2M78 53h2M134 53h2M232 53h2M78 55h2M114 55h2M216 55h2M116 59h2M138 59h2M192 59h2M174 61h2M226 61h2M120 65h2M142 65h2M200 65h2M182 67h2M206 69h2M160 83h2M212 83h2M144 89h2M168 89h2M150 93h2M174 93h2M184 99h2M190 103h2M196 107h2M80 109h2M172 109h2M80 111h2M80 113h2M202 113h2M80 115h2M80 117h2M80 119h2M174 119h2M202 119h2M80 121h2M80 123h2M172 123h2M200 123h2M80 125h2M80 127h2M80 129h2M80 131h2M192 131h2M80 133h2M162 133h2M160 135h2M182 139h2M150 143h2M172 147h2M170 149h2M222 149h2M140 151h2M168 151h2M138 153h2M82 155h2M136 155h2M82 157h2M82 159h2M160 159h2M82 161h2M158 161h2M156 163h2M220 163h2M190 165h2M214 167h2M122 169h2M152 169h2M120 171h2M150 171h2M180 171h2M208 171h2M84 173h2M118 173h2M206 173h2M84 175h2M116 175h2M148 175h2M174 175h2M84 177h2M146 179h2M168 179h2M166 181h2M196 181h2M110 183h2M144 183h2M194 183h2M210 183h2M86 185h2M108 185h2M160 185h2M206 185h2M86 187h2M106 187h2M142 187h2M158 187h2M86 189h2M142 189h2M190 189h2M200 189h2M232 189h4M88 191h2M142 191h2M152 191h2M188 191h2M196 191h2M232 191h4M88 193h2M102 193h2M140 193h4M150 193h2M188 193h6M230 193h2M88 195h4M100 195h2M140 195h8M188 195h2M90 197h4M96 197h4M142 197h4M90 199h8"/><path stroke="#3c3c3c" d="M78 29h2M124 29h2M146 29h2M166 29h2M186 29h2M78 31h2M188 31h2M226 31h2M78 33h2M104 33h2M228 33h2M78 35h2M126 35h2M170 35h2M78 37h2M106 39h2M154 41h2M176 43h2M200 43h2M202 45h2M224 47h2M110 49h2M210 51h2M112 53h2M136 55h2M190 57h2M222 59h2M118 63h2M176 63h2M144 67h2M146 69h2M124 71h2M188 71h2M126 73h2M128 75h2M130 77h2M132 79h2M156 79h2M134 81h2M158 81h2M136 83h2M234 83h2M80 85h2M216 85h2M80 87h2M166 87h2M80 89h2M80 91h2M232 91h2M80 93h2M80 95h2M152 95h2M178 95h2M80 97h2M80 99h2M158 99h2M80 101h2M80 103h2M164 103h2M80 105h2M194 105h2M80 107h2M174 113h2M174 115h2M174 117h2M202 121h2M170 125h2M168 127h2M166 129h2M164 131h2M190 133h2M188 135h2M154 139h2M152 141h2M180 141h2M82 147h2M226 147h2M82 149h2M142 149h2M82 151h2M82 153h2M166 153h2M164 155h2M208 155h2M162 157h2M204 157h2M200 159h2M228 159h2M196 161h2M224 161h2M84 165h2M84 167h2M154 167h2M186 167h2M84 169h2M212 169h2M84 171h2M232 171h2M150 173h2M176 173h2M228 173h2M204 175h2M224 175h2M114 177h2M148 177h2M170 177h2M202 177h2M220 177h2M86 179h2M112 179h2M200 179h2M216 179h2M86 181h2M110 181h2M146 181h2M164 181h2M198 181h2M212 181h2M86 183h2M108 183h2M162 183h2M196 183h2M144 185h2M194 185h2M88 187h2M144 187h2M156 187h2M192 187h2M202 187h2M88 189h2M104 189h2M144 189h2M154 189h2M192 189h8M90 191h2M102 191h2M144 191h2M150 191h2M190 191h6M90 193h2M98 193h4M144 193h6M92 195h8M94 197h2"/><path stroke="#3e3e3e" d="M102 29h2M126 33h2M148 33h2M104 35h2M230 35h2M172 37h2M128 39h2M152 39h2M106 41h2M130 43h2M108 45h2M178 45h2M222 45h2M132 47h2M180 47h2M204 47h2M160 49h2M182 49h2M134 51h2M162 51h2M184 51h2M230 51h2M164 53h2M186 53h2M212 53h2M166 55h2M188 55h2M114 57h2M140 61h2M198 63h2M80 67h2M80 69h2M122 69h2M184 69h2M80 71h2M148 71h2M210 71h2M80 73h2M150 73h2M80 75h2M152 75h2M80 77h2M154 77h2M198 77h2M80 79h2M202 79h2M80 81h2M230 81h2M80 83h2M138 85h2M226 89h2M146 91h2M172 91h2M188 101h2M166 105h2M200 109h2M172 111h2M202 111h2M204 115h2M204 117h2M172 121h2M198 127h2M82 137h2M156 137h2M186 137h2M82 139h2M82 141h2M82 143h2M178 143h2M82 145h2M146 145h2M176 145h2M144 147h2M216 151h2M212 153h2M132 157h2M232 157h2M84 159h2M130 159h2M84 161h2M128 161h2M84 163h2M126 163h2M158 163h2M192 163h2M124 165h2M156 165h2M218 165h2M122 167h2M120 169h2M182 169h2M118 171h2M152 171h2M210 171h2M86 173h2M116 173h2M86 175h2M150 175h2M172 175h2M86 177h2M148 179h2M166 179h2M88 183h2M146 183h2M160 183h2M208 183h2M88 185h2M106 185h2M146 185h2M158 185h2M196 185h2M204 185h2M90 187h2M104 187h2M146 187h2M154 187h2M194 187h8M90 189h2M102 189h2M146 189h8M92 191h2M98 191h4M146 191h4M92 193h6"/><path stroke="#404040" d="M206 29h2M102 31h2M146 31h2M168 31h2M104 37h2M128 37h2M150 37h2M232 37h2M174 39h2M218 41h2M220 43h2M156 45h2M108 47h2M158 47h2M80 49h2M206 49h2M80 51h2M110 51h2M80 53h2M80 55h2M112 55h2M80 57h2M138 57h2M168 57h2M218 57h2M80 59h2M170 59h2M80 61h2M116 61h2M196 61h2M80 63h2M142 63h2M80 65h2M178 65h2M232 65h2M120 67h2M204 67h2M190 73h2M214 73h2M194 75h2M218 75h2M222 77h2M226 79h2M206 81h2M164 85h2M140 87h2M220 87h2M148 93h2M154 97h2M182 97h2M160 101h2M192 103h2M168 107h2M198 107h2M170 109h2M204 113h2M204 119h2M170 123h2M202 123h2M200 125h2M82 127h2M82 129h2M196 129h2M82 131h2M194 131h2M82 133h2M82 135h2M158 135h2M184 139h2M148 143h2M230 145h2M174 147h2M172 149h2M220 149h2M84 153h2M136 153h2M84 155h2M134 155h2M84 157h2M164 157h2M162 159h2M160 161h2M222 163h2M188 165h2M184 167h2M216 167h2M86 169h2M154 169h2M86 171h2M178 171h2M152 173h2M174 173h2M208 173h2M226 173h2M114 175h2M206 175h2M222 175h2M112 177h2M150 177h2M168 177h2M204 177h2M218 177h2M88 179h2M110 179h2M202 179h2M214 179h2M88 181h2M108 181h2M148 181h2M162 181h2M200 181h2M210 181h2M106 183h2M148 183h2M198 183h4M206 183h2M90 185h2M104 185h2M148 185h2M156 185h2M198 185h6M92 187h2M102 187h2M148 187h6M92 189h10M94 191h4"/><path stroke="#424242" d="M80 29h2M80 31h2M126 31h2M208 31h2M80 33h2M102 33h2M170 33h2M188 33h2M210 33h2M80 35h2M148 35h2M190 35h2M212 35h2M80 37h2M192 37h2M214 37h2M80 39h2M104 39h2M194 39h2M216 39h2M234 39h2M80 41h2M130 41h2M176 41h2M196 41h2M80 43h2M106 43h2M154 43h2M80 45h2M132 45h2M80 47h2M134 49h2M228 49h2M136 53h2M214 55h2M114 59h2M140 59h2M172 61h2M224 61h2M228 63h2M118 65h2M144 65h2M146 67h2M180 67h2M208 69h2M126 75h2M128 77h2M130 79h2M162 83h2M210 83h2M142 89h2M170 89h2M176 93h2M82 97h2M82 99h2M186 99h2M82 101h2M82 103h2M162 103h2M82 105h2M82 107h2M82 109h2M82 111h2M82 113h2M172 113h2M82 115h2M82 117h2M82 119h2M172 119h2M82 121h2M82 123h2M82 125h2M168 125h2M166 127h2M164 129h2M162 131h2M160 133h2M192 133h2M150 141h2M182 141h2M234 143h2M84 147h2M84 149h2M140 149h2M84 151h2M138 151h2M170 151h2M168 153h2M166 155h2M206 155h2M202 157h2M198 159h2M230 159h2M194 161h2M226 161h2M86 163h2M86 165h2M158 165h2M220 165h2M86 167h2M156 167h2M180 169h2M214 169h2M154 171h2M212 171h2M230 171h2M88 173h2M88 175h2M152 175h2M170 175h2M88 177h2M150 179h2M164 179h2M204 179h2M212 179h2M90 181h2M150 181h2M160 181h2M202 181h2M208 181h2M90 183h2M104 183h2M150 183h2M156 183h4M202 183h4M92 185h2M102 185h2M150 185h6M94 187h8"/><path stroke="#444444" d="M126 29h2M144 29h2M168 29h2M184 29h2M222 29h2M186 31h2M224 31h2M226 33h2M128 35h2M172 35h2M130 39h2M152 41h2M178 43h2M198 43h2M106 45h2M200 45h2M226 47h2M108 49h2M208 51h2M110 53h2M234 53h2M138 55h2M112 57h2M192 57h2M194 59h2M220 59h2M116 63h2M174 63h2M202 65h2M148 69h2M122 71h2M186 71h2M124 73h2M82 79h2M158 79h2M82 81h2M132 81h2M160 81h2M82 83h2M134 83h2M82 85h2M214 85h2M82 87h2M168 87h2M82 89h2M82 91h2M230 91h2M82 93h2M82 95h2M150 95h2M180 95h2M156 99h2M190 101h2M196 105h2M172 115h2M172 117h2M204 121h2M190 135h2M152 139h2M84 141h2M84 143h2M180 143h2M84 145h2M142 147h2M224 147h2M210 153h2M130 157h2M234 157h2M86 159h2M128 159h2M86 161h2M126 161h2M124 163h2M160 163h2M190 163h2M122 165h2M186 165h2M120 167h2M218 167h2M88 169h2M118 169h2M156 169h2M234 169h2M88 171h2M116 171h2M176 171h2M114 173h2M154 173h2M210 173h2M224 173h2M112 175h2M208 175h2M220 175h2M90 177h2M110 177h2M152 177h2M166 177h2M206 177h2M216 177h2M90 179h2M108 179h2M152 179h2M162 179h2M206 179h6M92 181h2M106 181h2M152 181h2M158 181h2M204 181h4M92 183h2M102 183h2M152 183h4M94 185h8"/><path stroke="#464646" d="M100 29h2M128 33h2M146 33h2M102 35h2M228 35h2M174 37h2M150 39h2M104 41h2M132 43h2M180 45h2M224 45h2M134 47h2M182 47h2M202 47h2M158 49h2M184 49h2M136 51h2M160 51h2M186 51h2M162 53h2M188 53h2M164 55h2M190 55h2M82 61h2M114 61h2M142 61h2M82 63h2M200 63h2M82 65h2M82 67h2M82 69h2M120 69h2M82 71h2M150 71h2M212 71h2M82 73h2M152 73h2M82 75h2M154 75h2M82 77h2M156 77h2M196 77h2M200 79h2M232 81h2M136 85h2M224 89h2M144 91h2M174 91h2M164 105h2M202 109h2M170 111h2M204 111h2M206 115h2M206 117h2M170 121h2M202 125h2M200 127h2M198 129h2M84 133h2M84 135h2M84 137h2M154 137h2M188 137h2M84 139h2M144 145h2M178 145h2M228 145h2M176 147h2M214 151h2M86 153h2M134 153h2M86 155h2M132 155h2M86 157h2M164 159h2M162 161h2M224 163h2M88 165h2M88 167h2M158 167h2M182 167h2M178 169h2M216 169h2M156 171h2M228 171h2M90 173h2M172 173h2M90 175h2M110 175h2M154 175h2M168 175h2M210 175h2M218 175h2M108 177h2M154 177h2M164 177h2M208 177h8M92 179h2M106 179h2M154 179h2M160 179h2M94 181h2M104 181h2M154 181h4M94 183h8"/><path stroke="#484848" d="M208 29h2M100 31h2M128 31h2M144 31h2M170 31h2M210 31h2M102 37h2M130 37h2M148 37h2M230 37h2M82 39h2M176 39h2M82 41h2M82 43h2M104 43h2M222 43h2M82 45h2M154 45h2M82 47h2M106 47h2M156 47h2M82 49h2M82 51h2M108 51h2M232 51h2M82 53h2M210 53h2M82 55h2M110 55h2M82 57h2M140 57h2M166 57h2M216 57h2M82 59h2M168 59h2M144 63h2M176 65h2M118 67h2M206 67h2M182 69h2M216 73h2M192 75h2M228 79h2M204 81h2M166 85h2M138 87h2M218 87h2M146 93h2M152 97h2M184 97h2M158 101h2M194 103h2M166 107h2M200 107h2M168 109h2M206 113h2M170 119h2M206 119h2M84 123h2M168 123h2M204 123h2M84 125h2M84 127h2M84 129h2M84 131h2M196 131h2M158 133h2M194 133h2M156 135h2M186 139h2M146 143h2M86 149h2M174 149h2M218 149h2M86 151h2M136 151h2M172 151h2M170 153h2M168 155h2M166 157h2M200 157h2M196 159h2M232 159h2M192 161h2M228 161h2M88 163h2M122 163h2M120 165h2M160 165h2M222 165h2M118 167h2M116 169h2M158 169h2M232 169h2M90 171h2M114 171h2M174 171h2M214 171h2M112 173h2M156 173h2M170 173h2M212 173h2M222 173h2M92 175h2M156 175h2M212 175h2M216 175h2M92 177h2M156 177h2M162 177h2M94 179h2M104 179h2M156 179h4M96 181h8"/><path stroke="#4a4a4a" d="M82 29h2M128 29h2M142 29h2M220 29h2M82 31h2M184 31h2M82 33h2M100 33h2M172 33h2M186 33h2M212 33h2M82 35h2M130 35h2M146 35h2M188 35h2M214 35h2M82 37h2M190 37h2M216 37h2M102 39h2M192 39h2M218 39h2M232 39h2M132 41h2M178 41h2M194 41h2M220 41h2M152 43h2M134 45h2M136 49h2M204 49h2M230 49h2M138 53h2M112 59h2M142 59h2M170 61h2M198 61h2M226 63h2M116 65h2M146 65h2M230 65h2M234 67h2M188 73h2M220 75h2M126 77h2M224 77h2M164 83h2M208 83h2M140 89h2M172 89h2M178 93h2M84 97h2M84 99h2M188 99h2M84 101h2M84 103h2M160 103h2M84 105h2M84 107h2M84 109h2M84 111h2M84 113h2M170 113h2M84 115h2M84 117h2M170 117h2M84 119h2M84 121h2M206 121h2M166 125h2M164 127h2M162 129h2M160 131h2M192 135h2M148 141h2M184 141h2M232 143h2M86 145h2M86 147h2M140 147h2M222 147h2M138 149h2M208 153h2M204 155h2M128 157h2M88 159h2M126 159h2M88 161h2M124 161h2M164 161h2M162 163h2M188 163h2M226 163h2M184 165h2M90 167h2M160 167h2M180 167h2M220 167h2M90 169h2M218 169h2M158 171h2M216 171h2M226 171h2M92 173h2M110 173h2M214 173h4M220 173h2M108 175h2M158 175h2M164 175h4M214 175h2M94 177h2M106 177h2M158 177h4M96 179h8"/><path stroke="#4c4c4c" d="M98 29h2M170 29h2M182 29h2M222 31h2M144 33h2M224 33h2M100 35h2M174 35h2M132 39h2M148 39h2M102 41h2M150 41h2M180 43h2M196 43h2M104 45h2M198 45h2M228 47h2M106 49h2M206 51h2M108 53h2M140 55h2M212 55h2M110 57h2M196 59h2M222 61h2M114 63h2M172 63h2M204 65h2M148 67h2M178 67h2M150 69h2M210 69h2M120 71h2M184 71h2M122 73h2M124 75h2M84 79h2M128 79h2M84 81h2M130 81h2M162 81h2M84 83h2M132 83h2M84 85h2M84 87h2M84 89h2M84 91h2M228 91h2M84 93h2M234 93h2M84 95h2M148 95h2M182 95h2M154 99h2M198 105h2M170 115h2M208 117h2M168 121h2M202 127h2M190 137h2M86 139h2M150 139h2M86 141h2M86 143h2M182 143h2M142 145h2M180 145h2M212 151h2M88 155h2M130 155h2M88 157h2M166 159h2M230 161h2M90 165h2M162 165h2M224 165h2M116 167h2M114 169h2M160 169h2M176 169h2M230 169h2M92 171h2M112 171h2M172 171h2M218 171h2M224 171h2M158 173h2M168 173h2M218 173h2M94 175h2M106 175h2M160 175h4M96 177h4M102 177h4"/><path stroke="#4e4e4e" d="M210 29h2M98 31h2M142 31h2M172 31h2M130 33h2M226 35h2M100 37h2M132 37h2M146 37h2M176 37h2M234 41h2M134 43h2M182 45h2M226 45h2M136 47h2M154 47h2M184 47h2M200 47h2M156 49h2M186 49h2M138 51h2M158 51h2M188 51h2M84 53h2M160 53h2M190 53h2M84 55h2M162 55h2M192 55h2M84 57h2M194 57h2M84 59h2M218 59h2M84 61h2M112 61h2M144 61h2M84 63h2M84 65h2M84 67h2M84 69h2M118 69h2M84 71h2M152 71h2M214 71h2M84 73h2M154 73h2M84 75h2M156 75h2M84 77h2M158 77h2M160 79h2M134 85h2M212 85h2M170 87h2M222 89h2M142 91h2M176 91h2M192 101h2M162 105h2M204 109h2M168 111h2M206 111h2M208 115h2M208 119h2M204 125h2M200 129h2M198 131h2M86 133h2M86 135h2M154 135h2M86 137h2M152 137h2M188 139h2M144 143h2M226 145h2M178 147h2M176 149h2M216 149h2M88 151h2M134 151h2M174 151h2M88 153h2M132 153h2M172 153h2M170 155h2M168 157h2M194 159h2M234 159h2M90 161h2M190 161h2M90 163h2M120 163h2M164 163h2M186 163h2M118 165h2M182 165h2M92 167h2M162 167h2M178 167h2M222 167h2M234 167h2M92 169h2M174 169h2M220 169h2M228 169h2M110 171h2M160 171h2M170 171h2M220 171h4M94 173h2M108 173h2M160 173h8M96 175h2M104 175h2M100 177h2"/><path stroke="#505050" d="M84 29h2M130 29h2M140 29h2M218 29h2M84 31h2M130 31h2M212 31h2M84 33h2M98 33h2M174 33h2M184 33h2M214 33h2M84 35h2M132 35h2M144 35h2M186 35h2M216 35h2M84 37h2M188 37h2M218 37h2M228 37h2M84 39h2M100 39h2M178 39h2M190 39h2M220 39h2M84 41h2M134 41h2M222 41h2M84 43h2M102 43h2M150 43h2M224 43h2M84 45h2M136 45h2M152 45h2M84 47h2M104 47h2M84 49h2M202 49h2M84 51h2M106 51h2M234 51h2M140 53h2M208 53h2M108 55h2M142 57h2M164 57h2M214 57h2M166 59h2M146 63h2M202 63h2M174 65h2M116 67h2M208 67h2M180 69h2M218 73h2M190 75h2M194 77h2M198 79h2M202 81h2M234 81h2M168 85h2M136 87h2M150 97h2M186 97h2M156 101h2M196 103h2M164 107h2M202 107h2M166 109h2M208 113h2M168 119h2M166 123h2M206 123h2M86 125h2M86 127h2M86 129h2M86 131h2M156 133h2M196 133h2M146 141h2M186 141h2M88 147h2M88 149h2M136 149h2M202 155h2M90 157h2M198 157h2M90 159h2M124 159h2M122 161h2M166 161h2M228 163h2M92 165h2M226 165h2M224 167h2M232 167h2M94 169h2M112 169h2M162 169h2M222 169h6M94 171h2M162 171h4M168 171h2M96 173h2M106 173h2M98 175h6"/><path stroke="#525252" d="M96 29h2M172 29h2M180 29h2M182 31h2M220 31h2M132 33h2M142 33h2M222 33h2M98 35h2M176 35h2M134 39h2M230 39h2M148 41h2M180 41h2M192 41h2M182 43h2M194 43h2M102 45h2M104 49h2M138 49h2M232 49h2M106 53h2M110 59h2M144 59h2M168 61h2M200 61h2M224 63h2M114 65h2M148 65h2M228 65h2M232 67h2M186 73h2M222 75h2M226 77h2M230 79h2M166 83h2M216 87h2M174 89h2M144 93h2M180 93h2M190 99h2M86 103h2M86 105h2M86 107h2M86 109h2M86 111h2M86 113h2M168 113h2M86 115h2M86 117h2M168 117h2M86 119h2M86 121h2M208 121h2M86 123h2M164 125h2M162 127h2M160 129h2M158 131h2M194 135h2M148 139h2M88 143h2M184 143h2M230 143h2M88 145h2M138 147h2M220 147h2M206 153h2M90 155h2M128 155h2M126 157h2M168 159h2M232 161h2M92 163h2M116 165h2M164 165h2M180 165h2M94 167h2M114 167h2M164 167h2M176 167h2M226 167h6M164 169h2M172 169h2M96 171h2M108 171h2M166 171h2M98 173h8"/><path stroke="#545454" d="M86 29h2M132 29h2M138 29h2M174 29h2M212 29h2M216 29h2M86 31h2M96 31h2M132 31h2M140 31h2M174 31h2M214 31h2M218 31h2M86 33h2M176 33h2M216 33h2M86 35h2M224 35h2M86 37h2M98 37h2M134 37h2M144 37h2M178 37h2M226 37h2M146 39h2M100 41h2M232 41h2M136 43h2M184 45h2M196 45h2M138 47h2M186 47h2M230 47h2M140 51h2M204 51h2M142 55h2M210 55h2M108 57h2M196 57h2M198 59h2M146 61h2M220 61h2M112 63h2M206 65h2M150 67h2M176 67h2M152 69h2M212 69h2M118 71h2M182 71h2M120 73h2M122 75h2M124 77h2M86 79h2M126 79h2M86 81h2M128 81h2M164 81h2M86 83h2M206 83h2M86 85h2M86 87h2M86 89h2M138 89h2M86 91h2M86 93h2M86 95h2M86 97h2M86 99h2M152 99h2M86 101h2M158 103h2M200 105h2M168 115h2M210 117h2M204 127h2M192 137h2M88 139h2M88 141h2M140 145h2M182 145h2M180 147h2M90 151h2M210 151h2M90 153h2M130 153h2M174 153h2M172 155h2M170 157h2M192 159h2M92 161h2M120 161h2M188 161h2M118 163h2M166 163h2M184 163h2M230 163h2M94 165h2M166 165h2M228 165h2M112 167h2M166 167h2M174 167h2M96 169h2M110 169h2M166 169h6M98 171h2M106 171h2"/><path stroke="#565656" d="M94 29h2M176 29h4M214 29h2M176 31h6M216 31h2M96 33h2M134 33h2M140 33h2M182 33h2M218 33h4M96 35h2M134 35h2M142 35h2M178 35h2M184 35h2M218 35h2M222 35h2M186 37h2M220 37h2M86 39h2M98 39h2M180 39h2M188 39h2M222 39h2M228 39h2M86 41h2M136 41h2M182 41h2M190 41h2M224 41h2M86 43h2M100 43h2M148 43h2M226 43h2M234 43h2M86 45h2M138 45h2M150 45h2M228 45h2M86 47h2M102 47h2M152 47h2M198 47h2M86 49h2M154 49h2M188 49h2M86 51h2M104 51h2M156 51h2M190 51h2M86 53h2M158 53h2M192 53h2M206 53h2M86 55h2M106 55h2M160 55h2M194 55h2M86 57h2M144 57h2M162 57h2M86 59h2M216 59h2M86 61h2M110 61h2M86 63h2M170 63h2M86 65h2M86 67h2M86 69h2M116 69h2M86 71h2M154 71h2M86 73h2M156 73h2M86 75h2M158 75h2M86 77h2M160 77h2M162 79h2M130 83h2M210 85h2M172 87h2M140 91h2M226 91h2M232 93h2M146 95h2M184 95h2M194 101h2M160 105h2M206 109h2M166 111h2M208 111h2M210 115h2M210 119h2M166 121h2M206 125h2M202 129h2M200 131h2M88 133h2M88 135h2M88 137h2M150 137h2M190 139h2M234 141h2M142 143h2M224 145h2M90 149h2M178 149h2M214 149h2M132 151h2M176 151h2M200 155h2M92 157h2M196 157h2M92 159h2M122 159h2M170 159h2M168 161h2M234 161h2M94 163h2M232 163h2M114 165h2M178 165h2M230 165h6M96 167h2M168 167h6M98 169h2M108 169h2M100 171h6"/><path stroke="#585858" d="M88 29h6M134 29h4M88 31h2M94 31h2M134 31h6M88 33h2M94 33h2M136 33h4M178 33h4M88 35h2M136 35h2M140 35h2M180 35h4M220 35h2M96 37h2M136 37h2M142 37h2M180 37h2M184 37h2M222 37h4M136 39h2M144 39h2M224 39h4M98 41h2M146 41h2M230 41h2M138 43h2M184 43h2M192 43h2M100 45h2M102 49h2M140 49h2M200 49h2M234 49h2M142 53h2M212 57h2M108 59h2M164 59h2M148 63h2M204 63h2M172 65h2M114 67h2M210 67h2M178 69h2M216 71h2M192 77h2M196 79h2M132 85h2M220 89h2M178 91h2M154 101h2M162 107h2M164 109h2M210 113h2M164 123h2M208 123h2M88 127h2M88 129h2M88 131h2M154 133h2M198 133h2M152 135h2M144 141h2M188 141h2M90 145h2M90 147h2M134 149h2M204 153h2M92 155h2M126 155h2M124 157h2M172 157h2M94 161h2M186 161h2M116 163h2M168 163h2M182 163h2M234 163h2M96 165h2M168 165h2M176 165h2M98 167h2M110 167h2M100 169h8"/><path stroke="#5a5a5a" d="M90 31h4M90 33h4M90 35h2M94 35h2M138 35h2M88 37h2M138 37h4M182 37h2M88 39h2M96 39h2M138 39h2M182 39h6M88 41h2M138 41h2M184 41h2M188 41h2M226 41h4M88 43h2M98 43h2M228 43h2M232 43h2M88 45h2M186 45h2M194 45h2M230 45h2M88 47h2M140 47h2M188 47h2M196 47h2M232 47h2M142 51h2M202 51h2M104 53h2M144 55h2M208 55h2M106 57h2M146 59h2M200 59h2M166 61h2M202 61h2M222 63h2M112 65h2M150 65h2M226 65h2M220 73h2M188 75h2M200 81h2M170 85h2M134 87h2M142 93h2M148 97h2M188 97h2M198 103h2M204 107h2M166 113h2M88 117h2M88 119h2M166 119h2M88 121h2M210 121h2M88 123h2M88 125h2M162 125h2M160 127h2M158 129h2M156 131h2M196 135h2M90 143h2M186 143h2M228 143h2M136 147h2M218 147h2M208 151h2M92 153h2M128 153h2M176 153h2M174 155h2M194 157h2M94 159h2M120 159h2M190 159h2M118 161h2M170 161h2M96 163h2M170 163h2M180 163h2M112 165h2M170 165h6M100 167h2M108 167h2"/><path stroke="#5c5c5c" d="M92 35h2M90 37h6M90 39h2M94 39h2M140 39h4M96 41h2M140 41h6M186 41h2M140 43h2M146 43h2M186 43h6M230 43h2M98 45h2M140 45h2M148 45h2M188 45h2M192 45h2M232 45h4M100 47h2M150 47h2M234 47h2M88 49h2M142 49h2M152 49h2M190 49h2M198 49h2M88 51h2M102 51h2M154 51h2M192 51h2M88 53h2M156 53h2M194 53h2M204 53h2M88 55h2M158 55h2M196 55h2M88 57h2M198 57h2M88 59h2M214 59h2M88 61h2M148 61h2M218 61h2M88 63h2M110 63h2M168 63h2M88 65h2M208 65h2M88 67h2M152 67h2M174 67h2M230 67h2M154 69h2M214 69h2M118 73h2M184 73h2M120 75h2M224 75h2M122 77h2M228 77h2M124 79h2M232 79h2M168 83h2M204 83h2M88 87h2M214 87h2M88 89h2M136 89h2M176 89h2M88 91h2M88 93h2M182 93h2M88 95h2M88 97h2M88 99h2M192 99h2M88 101h2M88 103h2M156 103h2M88 105h2M88 107h2M88 109h2M88 111h2M88 113h2M88 115h2M166 115h2M166 117h2M206 127h2M194 137h2M90 139h2M146 139h2M90 141h2M138 145h2M184 145h2M222 145h2M182 147h2M180 149h2M212 149h2M92 151h2M130 151h2M178 151h2M198 155h2M94 157h2M122 157h2M172 159h2M96 161h2M172 161h2M184 161h2M114 163h2M172 163h2M178 163h2M98 165h2M110 165h2M102 167h6"/><path stroke="#5e5e5e" d="M92 39h2M90 41h6M90 43h2M96 43h2M142 43h4M90 45h2M142 45h2M146 45h2M190 45h2M90 47h2M142 47h2M148 47h2M190 47h6M100 49h2M192 49h2M200 51h2M102 53h2M144 53h2M104 55h2M146 57h2M160 57h2M210 57h2M108 61h2M150 63h2M206 63h2M88 69h2M114 69h2M234 69h2M88 71h2M116 71h2M156 71h2M180 71h2M88 73h2M158 73h2M88 75h2M88 77h2M88 79h2M164 79h2M88 81h2M126 81h2M166 81h2M88 83h2M128 83h2M88 85h2M230 93h2M144 95h2M150 99h2M202 105h2M210 111h2M212 115h2M212 117h2M164 121h2M208 125h2M204 129h2M202 131h2M90 135h2M90 137h2M148 137h2M192 139h2M232 141h2M140 143h2M92 147h2M92 149h2M132 149h2M202 153h2M94 155h2M124 155h2M174 157h2M96 159h2M188 159h2M116 161h2M182 161h2M98 163h2M112 163h2M174 163h4M100 165h2M108 165h2"/><path stroke="#606060" d="M92 43h4M92 45h2M96 45h2M144 45h2M98 47h2M144 47h4M90 49h2M144 49h2M150 49h2M194 49h4M90 51h2M100 51h2M144 51h2M152 51h2M194 51h2M90 53h2M154 53h2M196 53h2M202 53h2M146 55h2M198 55h2M206 55h2M104 57h2M106 59h2M148 59h2M162 59h2M202 59h2M164 61h2M204 61h2M110 65h2M152 65h2M170 65h2M112 67h2M212 67h2M176 69h2M218 71h2M160 75h2M162 77h2M130 85h2M208 85h2M174 87h2M138 91h2M180 91h2M224 91h2M186 95h2M196 101h2M158 105h2M208 109h2M164 111h2M212 113h2M212 119h2M210 123h2M90 131h2M90 133h2M200 133h2M150 135h2M142 141h2M190 141h2M92 145h2M134 147h2M216 147h2M206 151h2M94 153h2M126 153h2M178 153h2M176 155h2M192 157h2M118 159h2M174 159h2M98 161h2M174 161h4M180 161h2M100 163h2M102 165h6"/><path stroke="#626262" d="M94 45h2M92 47h6M92 49h2M98 49h2M146 49h4M146 51h2M150 51h2M196 51h4M146 53h2M198 53h4M90 55h2M102 55h2M156 55h2M90 57h2M148 57h2M158 57h2M200 57h2M90 59h2M212 59h2M90 61h2M150 61h2M216 61h2M108 63h2M220 63h2M224 65h2M154 67h2M228 67h2M222 73h2M186 75h2M190 77h2M194 79h2M172 85h2M132 87h2M218 89h2M146 97h2M190 97h2M152 101h2M200 103h2M160 107h2M206 107h2M162 109h2M164 119h2M212 121h2M162 123h2M90 125h2M160 125h2M90 127h2M90 129h2M154 131h2M152 133h2M198 135h2M92 141h2M92 143h2M188 143h2M226 143h2M186 145h2M184 147h2M182 149h2M94 151h2M180 151h2M196 155h2M96 157h2M120 157h2M176 157h2M176 159h2M186 159h2M114 161h2M178 161h2M102 163h2M110 163h2"/><path stroke="#646464" d="M94 49h4M92 51h2M98 51h2M148 51h2M92 53h2M100 53h2M148 53h6M148 55h2M154 55h2M200 55h6M202 57h2M208 57h2M104 59h2M150 59h2M160 59h2M106 61h2M90 63h2M152 63h2M166 63h2M208 63h2M90 65h2M210 65h2M90 67h2M172 67h2M90 69h2M156 69h2M216 69h2M232 69h2M90 71h2M114 71h2M90 73h2M116 73h2M182 73h2M90 75h2M118 75h2M226 75h2M120 77h2M230 77h2M122 79h2M234 79h2M198 81h2M170 83h2M212 87h2M178 89h2M140 93h2M184 93h2M90 109h2M90 111h2M90 113h2M164 113h2M90 115h2M90 117h2M164 117h2M90 119h2M90 121h2M90 123h2M158 127h2M156 129h2M196 137h2M92 139h2M144 139h2M136 145h2M220 145h2M94 149h2M210 149h2M128 151h2M200 153h2M96 155h2M122 155h2M178 155h2M190 157h2M98 159h2M116 159h2M178 159h2M182 159h4M100 161h2M112 161h2M104 163h6"/><path stroke="#666666" d="M94 51h4M94 53h2M98 53h2M92 55h2M100 55h2M150 55h4M92 57h2M102 57h2M150 57h2M156 57h2M204 57h4M92 59h2M204 59h2M210 59h2M162 61h2M206 61h2M214 61h2M218 63h2M108 65h2M154 65h2M168 65h2M110 67h2M214 67h2M112 69h2M158 71h2M178 71h2M160 73h2M90 77h2M90 79h2M90 81h2M124 81h2M168 81h2M90 83h2M202 83h2M90 85h2M90 87h2M90 89h2M134 89h2M90 91h2M90 93h2M90 95h2M90 97h2M90 99h2M194 99h2M90 101h2M90 103h2M154 103h2M90 105h2M204 105h2M90 107h2M164 115h2M214 115h2M214 117h2M162 121h2M210 125h2M208 127h2M206 129h2M204 131h2M92 135h2M92 137h2M146 137h2M194 139h2M230 141h2M138 143h2M94 147h2M130 149h2M204 151h2M96 153h2M124 153h2M180 153h2M194 155h2M98 157h2M118 157h2M178 157h2M188 157h2M100 159h2M180 159h2M102 161h2M110 161h2"/><path stroke="#686868" d="M96 53h2M94 55h6M100 57h2M152 57h4M102 59h2M152 59h2M158 59h2M206 59h4M92 61h2M104 61h2M152 61h2M208 61h2M92 63h2M106 63h2M164 63h2M212 65h2M222 65h2M156 67h2M226 67h2M174 69h2M220 71h2M162 75h2M164 77h2M166 79h2M126 83h2M176 87h2M228 93h2M142 95h2M188 95h2M234 95h2M148 99h2M198 101h2M210 109h2M162 111h2M212 111h2M214 119h2M212 123h2M92 133h2M202 133h2M148 135h2M140 141h2M192 141h2M190 143h2M224 143h2M94 145h2M132 147h2M214 147h2M184 149h2M96 151h2M182 151h2M198 153h2M98 155h2M180 155h2M180 157h4M186 157h2M114 159h2M104 161h6"/><path stroke="#6a6a6a" d="M94 57h6M94 59h2M154 59h4M154 61h2M160 61h2M210 61h4M154 63h2M210 63h2M216 63h2M92 65h2M92 67h2M170 67h2M92 69h2M158 69h2M218 69h2M230 69h2M180 73h2M224 73h2M184 75h2M188 77h2M192 79h2M128 85h2M206 85h2M136 91h2M182 91h2M222 91h2M156 105h2M214 113h2M160 123h2M92 129h2M92 131h2M150 133h2M200 135h2M94 141h2M94 143h2M134 145h2M188 145h2M186 147h2M96 149h2M208 149h2M126 151h2M182 153h2M120 155h2M182 155h2M192 155h2M100 157h2M116 157h2M184 157h2M102 159h2M112 159h2"/><path stroke="#6c6c6c" d="M96 59h6M94 61h2M102 61h2M156 61h4M94 63h2M104 63h2M156 63h2M162 63h2M212 63h4M106 65h2M156 65h2M166 65h2M214 65h2M220 65h2M108 67h2M216 67h2M110 69h2M92 71h2M112 71h2M160 71h2M176 71h2M92 73h2M114 73h2M92 75h2M116 75h2M228 75h2M92 77h2M118 77h2M232 77h2M120 79h2M196 81h2M174 85h2M130 87h2M216 89h2M144 97h2M192 97h2M150 101h2M202 103h2M158 107h2M208 107h2M160 109h2M162 119h2M214 121h2M92 123h2M92 125h2M158 125h2M92 127h2M156 127h2M154 129h2M152 131h2M198 137h2M94 139h2M142 139h2M234 139h2M218 145h2M96 147h2M128 149h2M184 151h2M202 151h2M98 153h2M122 153h2M196 153h2M100 155h2M184 155h2M190 155h2M102 157h2M104 159h8"/><path stroke="#6e6e6e" d="M96 61h6M158 63h4M94 65h2M158 65h2M164 65h2M216 65h4M94 67h2M158 67h2M168 67h2M224 67h2M172 69h2M222 71h2M234 71h2M162 73h2M164 75h2M166 77h2M92 79h2M168 79h2M92 81h2M122 81h2M170 81h2M92 83h2M172 83h2M200 83h2M92 85h2M92 87h2M210 87h2M92 89h2M132 89h2M180 89h2M92 91h2M92 93h2M138 93h2M186 93h2M92 107h2M92 109h2M92 111h2M92 113h2M162 113h2M92 115h2M92 117h2M162 117h2M216 117h2M92 119h2M92 121h2M212 125h2M210 127h2M208 129h2M94 137h2M144 137h2M196 139h2M228 141h2M136 143h2M96 145h2M212 147h2M186 149h2M98 151h2M184 153h2M118 155h2M186 155h4M114 157h2"/><path stroke="#707070" d="M96 63h2M100 63h4M104 65h2M160 65h4M106 67h2M218 67h6M94 69h2M108 69h2M160 69h2M220 69h2M228 69h2M94 71h2M226 73h2M182 75h2M124 83h2M92 95h2M92 97h2M92 99h2M196 99h2M92 101h2M92 103h2M152 103h2M92 105h2M206 105h2M214 111h2M162 115h2M216 115h2M216 119h2M160 121h2M214 123h2M206 131h2M94 133h2M204 133h2M94 135h2M146 135h2M138 141h2M194 141h2M96 143h2M192 143h2M222 143h2M190 145h2M130 147h2M188 147h2M98 149h2M206 149h2M124 151h2M186 151h2M200 151h2M100 153h2M120 153h2M186 153h2M194 153h2M102 155h2M104 157h4M110 157h4"/><path stroke="#727272" d="M98 63h2M96 65h2M102 65h2M96 67h2M160 67h2M166 67h2M170 69h2M222 69h2M226 69h2M110 71h2M162 71h2M174 71h2M224 71h2M232 71h2M94 73h2M112 73h2M178 73h2M94 75h2M114 75h2M230 75h2M186 77h2M190 79h2M126 85h2M204 85h2M178 87h2M134 91h2M184 91h2M220 91h2M226 93h2M140 95h2M190 95h2M232 95h2M146 99h2M200 101h2M212 109h2M160 111h2M216 113h2M94 131h2M202 135h2M96 141h2M132 145h2M216 145h2M98 147h2M126 149h2M188 149h2M100 151h2M188 153h6M116 155h2M108 157h2"/><path stroke="#747474" d="M98 65h4M104 67h2M162 67h4M96 69h2M162 69h2M168 69h2M224 69h2M226 71h2M164 73h2M228 73h2M166 75h2M94 77h2M116 77h2M234 77h2M94 79h2M118 79h2M194 81h2M176 85h2M128 87h2M214 89h2M154 105h2M216 121h2M158 123h2M94 127h2M94 129h2M150 131h2M148 133h2M200 137h2M96 139h2M140 139h2M232 139h2M190 147h2M210 147h2M204 149h2M122 151h2M188 151h2M198 151h2M102 153h2M118 153h2M104 155h2M114 155h2"/><path stroke="#767676" d="M98 67h6M106 69h2M164 69h4M96 71h2M108 71h2M164 71h2M172 71h2M228 71h4M176 73h2M180 75h2M232 75h2M168 77h2M170 79h2M94 81h2M120 81h2M172 81h2M94 83h2M174 83h2M198 83h2M94 85h2M94 87h2M182 89h2M136 93h2M142 97h2M194 97h2M148 101h2M204 103h2M156 107h2M210 107h2M158 109h2M160 119h2M94 123h2M94 125h2M156 125h2M214 125h2M154 127h2M212 127h2M152 129h2M210 129h2M96 137h2M142 137h2M198 139h2M196 141h2M226 141h2M134 143h2M194 143h2M220 143h2M98 145h2M192 145h2M128 147h2M100 149h2M190 149h2M190 151h8M106 155h8"/><path stroke="#787878" d="M98 69h4M104 69h2M166 71h6M96 73h2M110 73h2M166 73h2M230 73h6M96 75h2M112 75h2M184 77h2M188 79h2M122 83h2M208 87h2M94 89h2M130 89h2M94 91h2M94 93h2M188 93h2M94 95h2M94 97h2M94 99h2M198 99h2M94 101h2M94 103h2M94 107h2M94 109h2M94 111h2M94 113h2M160 113h2M94 115h2M218 115h2M94 117h2M160 117h2M218 117h2M94 119h2M94 121h2M216 123h2M208 131h2M206 133h2M96 135h2M136 141h2M98 143h2M130 145h2M214 145h2M100 147h2M192 147h2M208 147h2M124 149h2M202 149h2M102 151h2M120 151h2M104 153h2M116 153h2"/><path stroke="#7a7a7a" d="M102 69h2M98 71h2M106 71h2M168 73h2M174 73h2M168 75h2M234 75h2M96 77h2M114 77h2M170 77h2M96 79h2M116 79h2M192 81h2M124 85h2M202 85h2M180 87h2M150 103h2M94 105h2M208 105h2M216 111h2M160 115h2M218 119h2M158 121h2M96 133h2M144 135h2M204 135h2M230 139h2M98 141h2M194 145h2M102 149h2M192 149h2M200 149h2M106 153h2M114 153h2"/><path stroke="#7c7c7c" d="M100 71h6M98 73h2M108 73h2M170 73h4M110 75h2M170 75h2M178 75h2M182 77h2M172 79h2M96 81h2M118 81h2M174 81h2M176 83h2M178 85h2M126 87h2M132 91h2M186 91h2M218 91h2M224 93h2M138 95h2M192 95h2M230 95h2M144 99h2M202 101h2M214 109h2M158 111h2M218 113h2M218 121h2M96 129h2M96 131h2M146 133h2M202 137h2M98 139h2M138 139h2M200 139h2M198 141h2M224 141h2M132 143h2M196 143h2M218 143h2M100 145h2M212 145h2M126 147h2M194 147h2M206 147h2M122 149h2M194 149h6M104 151h2M118 151h2M108 153h6"/><path stroke="#7e7e7e" d="M100 73h2M106 73h2M98 75h2M172 75h2M176 75h2M98 77h2M112 77h2M186 79h2M96 83h2M120 83h2M196 83h2M96 85h2M96 87h2M212 89h2M196 97h2M152 105h2M212 107h2M158 119h2M156 123h2M96 127h2M214 127h2M150 129h2M212 129h2M148 131h2M98 137h2M100 143h2M102 147h2M204 147h2M104 149h2M106 151h2M116 151h2"/><path stroke="#818181" d="M102 73h4M100 75h2M108 75h2M174 75h2M172 77h2M180 77h2M98 79h2M114 79h2M174 79h2M190 81h2M206 87h2M96 89h2M128 89h2M184 89h2M96 91h2M96 93h2M134 93h2M190 93h2M140 97h2M146 101h2M206 103h2M154 107h2M156 109h2M220 117h2M96 121h2M96 123h2M96 125h2M154 125h2M216 125h2M152 127h2M210 131h2M208 133h2M98 135h2M140 137h2M234 137h2M134 141h2M128 145h2M196 145h2M210 145h2M124 147h2M196 147h4M202 147h2M120 149h2M108 151h2M114 151h2"/><path stroke="#838383" d="M102 75h2M106 75h2M100 77h2M110 77h2M174 77h6M184 79h2M98 81h2M116 81h2M176 81h2M178 83h2M122 85h2M180 85h2M200 85h2M182 87h2M96 95h2M96 97h2M96 99h2M200 99h2M96 101h2M96 103h2M96 109h2M96 111h2M96 113h2M158 113h2M96 115h2M220 115h2M96 117h2M158 117h2M96 119h2M220 119h2M218 123h2M98 133h2M142 135h2M206 135h2M204 137h2M202 139h2M228 139h2M100 141h2M200 141h2M222 141h2M198 143h2M216 143h2M102 145h2M198 145h2M104 147h2M200 147h2M106 149h2M110 151h4"/><path stroke="#858585" d="M104 75h2M100 79h2M176 79h2M98 83h2M194 83h2M98 85h2M124 87h2M130 91h2M188 91h2M216 91h2M222 93h2M136 95h2M194 95h2M142 99h2M148 103h2M96 105h2M210 105h2M96 107h2M216 109h2M218 111h2M158 115h2M156 121h2M98 131h2M144 133h2M100 139h2M136 139h2M102 143h2M130 143h2M126 145h2M208 145h2M118 149h2"/><path stroke="#878787" d="M102 77h8M112 79h2M178 79h6M178 81h2M188 81h2M118 83h2M98 87h2M204 87h2M186 89h2M210 89h2M228 95h2M204 101h2M156 111h2M220 113h2M220 121h2M154 123h2M216 127h2M98 129h2M214 129h2M146 131h2M212 131h2M100 137h2M132 141h2M220 141h2M200 143h2M214 143h2M104 145h2M200 145h8M106 147h2M122 147h2M108 149h4M116 149h2"/><path stroke="#898989" d="M102 79h2M110 79h2M100 81h2M114 81h2M186 81h2M180 83h2M120 85h2M182 85h2M198 85h2M184 87h2M98 89h2M126 89h2M98 91h2M132 93h2M192 93h2M198 97h2M234 97h2M150 105h2M214 107h2M156 119h2M98 125h2M152 125h2M218 125h2M98 127h2M150 127h2M148 129h2M210 133h2M100 135h2M208 135h2M138 137h2M206 137h2M232 137h2M204 139h2M226 139h2M102 141h2M202 141h2M202 143h2M212 143h2M120 147h2M112 149h4"/><path stroke="#8b8b8b" d="M104 79h2M108 79h2M180 81h6M100 83h2M116 83h2M192 83h2M98 93h2M98 95h2M138 97h2M144 101h2M208 103h2M152 107h2M154 109h2M222 115h2M222 117h2M222 119h2M98 121h2M98 123h2M220 123h2M100 133h2M140 135h2M102 139h2M134 139h2M104 143h2M128 143h2M204 143h2M124 145h2M108 147h2"/><path stroke="#8d8d8d" d="M106 79h2M102 81h2M112 81h2M182 83h2M190 83h2M100 85h2M100 87h2M122 87h2M202 87h2M208 89h2M128 91h2M190 91h2M214 91h2M220 93h2M98 97h2M98 99h2M202 99h2M98 101h2M98 103h2M98 111h2M220 111h2M98 113h2M156 113h2M98 115h2M98 117h2M156 117h2M98 119h2M100 131h2M224 139h2M204 141h2M218 141h2M206 143h6M106 145h2M110 147h2M116 147h4"/><path stroke="#8f8f8f" d="M104 81h2M110 81h2M102 83h2M184 83h2M188 83h2M118 85h2M184 85h2M196 85h2M186 87h2M100 89h2M188 89h2M134 95h2M196 95h2M226 95h2M140 99h2M206 101h2M146 103h2M98 105h2M212 105h2M98 107h2M98 109h2M218 109h2M222 113h2M156 115h2M154 121h2M222 121h2M218 127h2M100 129h2M216 129h2M214 131h2M142 133h2M212 133h2M210 135h2M102 137h2M136 137h2M208 137h2M230 137h2M206 139h2M104 141h2M130 141h2M206 141h2M216 141h2M126 143h2M108 145h2M122 145h2M112 147h4"/><path stroke="#919191" d="M106 81h4M114 83h2M186 83h2M102 85h2M194 85h2M124 89h2M100 91h2M130 93h2M194 93h2M200 97h2M232 97h2M154 111h2M152 123h2M220 125h2M100 127h2M146 129h2M144 131h2M102 135h2M222 139h2M208 141h2M214 141h2M106 143h2M120 145h2"/><path stroke="#939393" d="M104 83h2M112 83h2M116 85h2M186 85h2M102 87h2M120 87h2M200 87h2M206 89h2M192 91h2M100 93h2M100 95h2M136 97h2M210 103h2M148 105h2M216 107h2M224 117h2M154 119h2M222 123h2M100 125h2M150 125h2M148 127h2M138 135h2M234 135h2M228 137h2M104 139h2M132 139h2M208 139h2M128 141h2M210 141h4M124 143h2M110 145h2M118 145h2"/><path stroke="#959595" d="M106 83h6M104 85h2M188 85h6M188 87h2M102 89h2M190 89h2M126 91h2M212 91h2M218 93h2M198 95h2M100 97h2M100 99h2M204 99h2M142 101h2M150 107h2M152 109h2M224 115h2M224 119h2M100 121h2M100 123h2M218 129h2M216 131h2M102 133h2M214 133h2M212 135h2M104 137h2M210 137h2M210 139h2M220 139h2M106 141h2M108 143h2M112 145h6"/><path stroke="#979797" d="M114 85h2M118 87h2M190 87h2M198 87h2M122 89h2M102 91h2M132 95h2M224 95h2M100 101h2M100 103h2M100 105h2M214 105h2M222 111h2M100 113h2M154 113h2M100 115h2M154 115h2M100 117h2M154 117h2M100 119h2M224 121h2M220 127h2M102 131h2M140 133h2M134 137h2M226 137h2M212 139h2M218 139h2M110 143h2M122 143h2"/><path stroke="#999999" d="M106 85h2M112 85h2M104 87h2M192 87h2M196 87h2M192 89h2M204 89h2M194 91h2M102 93h2M128 93h2M196 93h2M202 97h2M230 97h2M138 99h2M208 101h2M144 103h2M100 107h2M100 109h2M220 109h2M100 111h2M224 113h2M152 121h2M222 125h2M102 129h2M142 131h2M104 135h2M214 135h2M232 135h2M212 137h2M106 139h2M130 139h2M214 139h4M108 141h2M126 141h2M120 143h2"/><path stroke="#9b9b9b" d="M108 85h4M116 87h2M194 87h2M104 89h2M124 91h2M210 91h2M216 93h2M102 95h2M134 97h2M152 111h2M226 117h2M150 123h2M224 123h2M102 127h2M146 127h2M144 129h2M220 129h2M218 131h2M104 133h2M216 133h2M136 135h2M214 137h2M224 137h2M112 143h8"/><path stroke="#9d9d9d" d="M106 87h2M120 89h2M194 89h2M202 89h2M104 91h2M200 95h2M102 97h2M206 99h2M140 101h2M212 103h2M146 105h2M218 107h2M226 115h2M152 119h2M226 119h2M102 125h2M148 125h2M222 127h2M138 133h2M216 135h2M230 135h2M106 137h2M132 137h2M216 137h2M220 137h4M108 139h2M128 139h2M110 141h2M124 141h2"/><path stroke="#9f9f9f" d="M108 87h8M106 89h2M196 89h6M196 91h2M208 91h2M198 93h2M130 95h2M222 95h2M102 99h2M102 101h2M148 107h2M150 109h2M224 111h2M102 121h2M226 121h2M102 123h2M224 125h2M104 131h2M218 133h2M106 135h2M218 137h2M112 141h2M122 141h2"/><path stroke="#a1a1a1" d="M118 89h2M122 91h2M198 91h2M104 93h2M126 93h2M214 93h2M204 97h2M228 97h2M136 99h2M210 101h2M102 103h2M142 103h2M102 105h2M216 105h2M102 107h2M102 109h2M222 109h2M102 111h2M102 113h2M152 113h2M226 113h2M102 115h2M152 115h2M102 117h2M152 117h2M102 119h2M150 121h2M104 129h2M222 129h2M140 131h2M220 131h2M134 135h2M218 135h2M228 135h2M108 137h2M110 139h2M114 141h2M120 141h2"/><path stroke="#a3a3a3" d="M108 89h2M116 89h2M106 91h2M206 91h2M200 93h2M104 95h2M202 95h2M132 97h2M234 99h2M228 117h2M226 123h2M104 127h2M224 127h2M142 129h2M106 133h2M220 133h2M234 133h2M220 135h8M130 137h2M126 139h2M116 141h4"/><path stroke="#a5a5a5" d="M110 89h6M120 91h2M200 91h6M124 93h2M212 93h2M128 95h2M220 95h2M104 97h2M208 99h2M214 103h2M144 105h2M220 107h2M150 111h2M228 115h2M228 119h2M148 123h2M104 125h2M146 125h2M226 125h2M144 127h2M106 131h2M222 131h2M136 133h2M232 133h2M108 135h2M112 139h2M124 139h2"/><path stroke="#a7a7a7" d="M108 91h2M106 93h2M202 93h2M206 97h2M226 97h2M104 99h2M104 101h2M138 101h2M146 107h2M148 109h2M150 119h2M228 121h2M104 123h2M224 129h2M138 131h2M222 133h2M230 133h2M132 135h2M110 137h2M128 137h2M114 139h2M122 139h2"/><path stroke="#a9a9a9" d="M110 91h2M118 91h2M204 93h2M210 93h2M106 95h2M204 95h2M218 95h2M134 99h2M212 101h2M104 103h2M218 105h2M224 109h2M226 111h2M150 113h2M228 113h2M150 117h2M104 119h2M104 121h2M228 123h2M226 127h2M106 129h2M224 131h2M108 133h2M224 133h6M116 139h6"/><path stroke="#ababab" d="M112 91h6M108 93h2M122 93h2M206 93h4M126 95h2M106 97h2M130 97h2M210 99h2M232 99h2M140 103h2M104 105h2M104 107h2M104 109h2M104 111h2M104 113h2M104 115h2M150 115h2M104 117h2M230 117h2M230 119h2M148 121h2M228 125h2M106 127h2M140 129h2M226 129h2M226 131h2M134 133h2M110 135h2M112 137h2M126 137h2"/><path stroke="#adadad" d="M206 95h2M216 95h2M208 97h2M224 97h2M106 99h2M216 103h2M222 107h2M230 115h2M230 121h2M146 123h2M106 125h2M144 125h2M142 127h2M228 127h2M108 131h2M228 131h2M232 131h4M130 135h2M114 137h2"/><path stroke="#afafaf" d="M110 93h2M120 93h2M108 95h2M208 95h2M214 95h2M106 101h2M136 101h2M214 101h2M142 105h2M148 111h2M148 119h2M106 123h2M230 123h2M108 129h2M228 129h2M136 131h2M230 131h2M110 133h2M112 135h2M116 137h2M122 137h4"/><path stroke="#b1b1b1" d="M112 93h8M124 95h2M210 95h4M108 97h2M128 97h2M210 97h2M222 97h2M132 99h2M212 99h2M230 99h2M106 103h2M220 105h2M144 107h2M146 109h2M226 109h2M228 111h2M230 113h2M106 121h2M230 125h2M230 127h2M138 129h2M230 129h2M132 133h2M128 135h2M118 137h4"/><path stroke="#b3b3b3" d="M110 95h2M138 103h2M218 103h2M106 105h2M106 107h2M148 113h2M106 117h2M148 117h2M232 117h2M106 119h2M232 119h2M146 121h2M232 121h2M108 127h2M140 127h2M232 129h4M110 131h2M114 135h2M126 135h2"/><path stroke="#b5b5b5" d="M112 95h2M122 95h2M126 97h2M212 97h2M220 97h2M108 99h2M214 99h2M228 99h2M134 101h2M216 101h2M224 107h2M106 109h2M106 111h2M106 113h2M106 115h2M148 115h2M232 115h2M144 123h2M232 123h2M108 125h2M142 125h2M232 125h2M232 127h2M134 131h2M112 133h2M130 133h2M116 135h2"/><path stroke="#b7b7b7" d="M114 95h2M120 95h2M110 97h2M214 97h6M130 99h2M108 101h2M140 105h2M222 105h2M146 111h2M230 111h2M232 113h2M108 123h2M234 127h2M110 129h2M136 129h2M118 135h8"/><path stroke="#b9b9b9" d="M116 95h4M110 99h2M216 99h2M226 99h2M234 101h2M108 103h2M220 103h2M142 107h2M144 109h2M228 109h2M234 117h2M146 119h2M234 119h2M108 121h2M234 121h2M234 123h2M234 125h2M110 127h2M112 131h2M132 131h2M114 133h2M128 133h2"/><path stroke="#bbbbbb" d="M112 97h2M124 97h2M128 99h2M218 99h2M224 99h2M132 101h2M218 101h2M136 103h2M108 105h2M226 107h2M146 113h2M234 115h2M146 117h2M108 119h2M144 121h2M138 127h2M116 133h2"/><path stroke="#bdbdbd" d="M114 97h2M122 97h2M220 99h4M110 101h2M232 101h2M224 105h2M108 107h2M108 109h2M108 111h2M108 113h2M108 115h2M146 115h2M108 117h2M142 123h2M110 125h2M140 125h2M112 129h2M134 129h2M114 131h2M130 131h2M118 133h2M124 133h4"/><path stroke="#bfbfbf" d="M116 97h6M112 99h2M220 101h2M110 103h2M222 103h2M138 105h2M230 109h2M144 111h2M232 111h2M234 113h2M110 123h2M112 127h2M120 133h4"/><path stroke="#c1c1c1" d="M126 99h2M130 101h2M222 101h2M230 101h2M134 103h2M140 107h2M228 107h2M142 109h2M144 119h2M110 121h2M136 127h2M114 129h2M116 131h2M128 131h2"/><path stroke="#c3c3c3" d="M114 99h2M124 99h2M112 101h2M224 101h6M224 103h2M110 105h2M226 105h2M110 107h2M234 111h2M144 113h2M144 117h2M110 119h2M142 121h2M140 123h2M112 125h2M138 125h2M132 129h2M118 131h2M126 131h2"/><path stroke="#c5c5c5" d="M116 99h2M122 99h2M128 101h2M112 103h2M136 105h2M110 109h2M232 109h2M110 111h2M110 113h2M110 115h2M144 115h2M110 117h2M114 127h2M134 127h2M116 129h2M130 129h2M120 131h6"/><path stroke="#c7c7c7" d="M118 99h4M114 101h2M132 103h2M226 103h2M234 103h2M228 105h2M230 107h2M142 111h2M142 119h2M112 123h2"/><path stroke="#c9c9c9" d="M116 101h2M126 101h2M228 103h6M112 105h2M138 107h2M140 109h2M112 121h2M140 121h2M138 123h2M114 125h2M136 125h2M116 127h2M118 129h2M128 129h2"/><path stroke="#cbcbcb" d="M124 101h2M114 103h2M130 103h2M134 105h2M230 105h2M112 107h2M232 107h2M112 109h2M234 109h2M142 113h2M112 117h2M142 117h2M112 119h2M132 127h2M120 129h8"/><path stroke="#cdcdcd" d="M118 101h6M114 105h2M232 105h2M112 111h2M112 113h2M112 115h2M142 115h2M114 123h2M116 125h2M134 125h2M118 127h2M130 127h2"/><path stroke="#cfcfcf" d="M116 103h2M128 103h2M234 105h2M136 107h2M234 107h2M138 109h2M140 111h2M140 119h2M114 121h2M138 121h2M136 123h2M120 127h2M128 127h2"/><path stroke="#d1d1d1" d="M118 103h2M126 103h2M132 105h2M114 107h2M140 113h2M140 117h2M114 119h2M116 123h2M118 125h2M132 125h2M122 127h6"/><path stroke="#d3d3d3" d="M120 103h6M116 105h2M134 107h2M114 109h2M114 111h2M114 113h2M114 115h2M140 115h2M114 117h2"/><path stroke="#d5d5d5" d="M130 105h2M116 107h2M136 109h2M138 111h2M138 119h2M116 121h2M136 121h2M118 123h2M134 123h2M120 125h2M130 125h2"/><path stroke="#d7d7d7" d="M118 105h2M128 105h2M116 109h2M138 113h2M138 117h2M116 119h2M132 123h2M122 125h8"/><path stroke="#d9d9d9" d="M120 105h4M126 105h2M118 107h2M132 107h2M116 111h2M116 113h2M116 115h2M138 115h2M116 117h2M136 119h2M118 121h2M134 121h2M120 123h2"/><path stroke="#dbdbdb" d="M124 105h2M130 107h2M118 109h2M134 109h2M136 111h2M118 119h2M122 123h2M130 123h2"/><path stroke="#dddddd" d="M120 107h2M118 111h2M136 113h2M118 115h2M136 115h2M118 117h2M136 117h2M134 119h2M120 121h2M132 121h2M124 123h6"/><path stroke="#dfdfdf" d="M122 107h8M120 109h2M132 109h2M134 111h2M118 113h2M120 119h2M122 121h2M130 121h2"/><path stroke="#e1e1e1" d="M122 109h2M130 109h2M120 111h2M134 113h2M120 115h2M134 115h2M120 117h2M134 117h2M122 119h2M132 119h2M124 121h6"/><path stroke="#e3e3e3" d="M124 109h6M122 111h2M132 111h2M120 113h2M122 117h2M132 117h2M124 119h2M130 119h2"/><path stroke="#e5e5e5" d="M124 111h2M130 111h2M122 113h2M132 113h2M122 115h2M132 115h2M124 117h2M130 117h2M126 119h4"/><path stroke="#e7e7e7" d="M126 111h4M124 113h8M124 115h2M128 115h4M126 117h4"/><path stroke="#e9e9e9" d="M126 115h2"/></g></g>
<clipPath id="cb2"><rect x="259.60" y="30.00" width="165.40" height="185.60"/></clipPath><g clip-path="url(#cb2)"><g fill="none" stroke-width="2" shape-rendering="crispEdges" filter="url(#vircb2)"><path stroke="#1a1a1a" d="M317 113h4M317 115h4"/><path stroke="#1c1c1c" d="M317 111h4M321 113h4M321 115h4M317 117h4"/><path stroke="#1e1e1e" d="M317 109h4M315 111h2M321 111h4M315 113h2M325 113h2M315 115h2M325 115h2M321 117h4M317 119h4"/><path stroke="#202020" d="M317 107h2M315 109h2M321 109h4M313 111h2M325 111h2M313 113h2M313 115h2M315 117h2M325 117h2M321 119h4M317 121h2"/><path stroke="#222222" d="M319 107h2M311 109h4M311 111h2M311 113h2M327 113h2M311 115h2M327 115h2M311 117h4M315 119h2M325 119h2M319 121h2"/><path stroke="#242424" d="M315 107h2M325 109h2M327 111h2M327 117h2M311 119h4M315 121h2M321 121h4M317 123h2"/><path stroke="#262626" d="M317 105h2M311 107h4M321 107h4M329 113h2M329 115h2M327 119h2M311 121h4M325 121h2M319 123h2"/><path stroke="#282828" d="M311 105h2M315 105h2M319 105h2M325 107h2M327 109h2M309 111h2M329 111h2M309 113h2M309 115h2M329 117h2M315 123h2M321 123h4M317 125h2"/><path stroke="#2a2a2a" d="M313 105h2M309 109h2M331 113h2M331 115h2M309 117h2M329 119h2M327 121h2M311 123h4M325 123h2M319 125h2"/><path stroke="#2c2c2c" d="M317 103h2M321 105h2M309 107h2M331 111h2M331 117h2M309 119h2M315 125h2M321 125h2"/><path stroke="#2e2e2e" d="M311 103h6M309 105h2M323 105h2M327 107h2M329 109h2M307 113h2M331 119h2M309 121h2M329 121h2M311 125h4M323 125h2M317 127h2"/><path stroke="#303030" d="M319 103h2M325 105h2M307 109h2M307 111h2M333 113h2M307 115h2M333 115h2M307 117h2M309 123h2M327 123h2M325 125h2M315 127h2M319 127h2"/><path stroke="#323232" d="M311 101h2M309 103h2M305 107h4M305 109h2M331 109h2M305 111h2M305 113h2M305 115h2M305 117h2M333 117h2M307 119h2M331 121h2M311 127h4M321 127h2"/><path stroke="#343434" d="M313 101h2M317 101h2M321 103h2M305 105h4M425 105h2M329 107h2M425 107h2M333 111h2M305 119h2M333 119h2M307 121h2M329 123h2M309 125h2M323 127h2M317 129h2"/><path stroke="#363636" d="M309 101h2M315 101h2M323 103h2M423 105h2M305 121h2M307 123h2M327 125h2M309 127h2M325 127h2M311 129h6M319 129h2"/><path stroke="#383838" d="M311 99h2M319 101h2M305 103h4M421 103h6M327 105h2M421 105h2M331 107h2M423 107h2M303 111h2M303 113h2M335 113h2M335 115h2M335 117h2M305 123h2M331 123h2"/><path stroke="#3a3a3a" d="M325 103h2M419 103h2M303 107h2M303 109h2M333 109h2M425 109h2M335 111h2M303 115h2M303 117h2M333 121h2M305 125h4M329 125h2M321 129h4M311 131h2M317 131h2"/><path stroke="#3c3c3c" d="M309 99h2M313 99h6M305 101h4M321 101h2M417 103h2M303 105h2M329 105h2M419 105h2M303 119h2M335 119h2M307 127h2M327 127h2M309 129h2M313 131h4M319 131h2"/><path stroke="#3e3e3e" d="M415 101h8M303 103h2M421 107h2M337 113h2M337 115h2M337 117h2M303 121h2M333 123h2M331 125h2M305 127h2M325 129h2"/><path stroke="#404040" d="M311 97h2M305 99h4M319 99h2M303 101h2M323 101h2M423 101h2M415 103h2M417 105h2M333 107h2M335 109h2M423 109h2M425 111h2M335 121h2M303 123h2M305 129h4M309 131h2M321 131h2M311 133h4M317 133h2"/><path stroke="#424242" d="M309 97h2M313 97h2M413 101h2M327 103h2M331 105h2M419 107h2M337 111h2M337 119h2M303 125h2M329 127h2M323 131h2M315 133h2"/><path stroke="#444444" d="M305 97h4M303 99h2M411 99h8M325 101h2M411 101h2M425 101h2M413 103h2M301 109h2M301 111h2M301 113h2M303 127h2M327 129h2M305 131h4M309 133h2M319 133h2M311 135h2"/><path stroke="#464646" d="M311 95h2M315 97h4M321 99h2M409 99h2M329 103h2M301 105h2M415 105h2M301 107h2M421 109h2M339 113h2M425 113h2M301 115h2M339 115h2M301 117h2M339 117h2M337 121h2M335 123h2M333 125h2M331 127h2M325 131h2M313 135h2"/><path stroke="#484848" d="M305 95h2M309 95h2M303 97h2M407 99h2M419 99h2M409 101h2M301 103h2M335 107h2M299 109h2M337 109h2M299 111h2M423 111h2M299 113h2M301 119h2M301 121h2M303 129h2M305 133h4M321 133h2M309 135h2M315 135h4"/><path stroke="#4a4a4a" d="M307 95h2M313 95h2M319 97h2M405 97h8M323 99h2M301 101h2M411 103h2M299 105h2M333 105h2M299 107h2M417 107h2M339 111h2M299 115h2M425 115h2M299 117h2M339 119h2M301 123h2M425 125h2M425 127h2M329 129h2M303 131h2M323 133h2M319 135h2M311 137h2"/><path stroke="#4c4c4c" d="M303 95h2M413 97h2M421 99h2M327 101h2M299 103h2M419 109h2M425 117h2M299 119h2M425 119h2M299 121h2M425 121h2M337 123h2M425 123h2M301 125h2M327 131h2M305 135h4"/><path stroke="#4e4e4e" d="M305 93h2M309 93h4M315 95h2M403 97h2M301 99h2M405 99h2M299 101h2M407 101h2M331 103h2M413 105h2M297 107h2M297 109h2M297 111h2M421 111h2M423 113h2M341 115h2M339 121h2M299 123h2M335 125h2M423 125h2M301 127h2M333 127h2M423 127h2M331 129h2M423 129h4M303 133h2M325 133h2M309 137h2M313 137h2M317 137h2"/><path stroke="#505050" d="M303 93h2M307 93h2M317 95h2M401 95h8M301 97h2M415 97h2M299 99h2M325 99h2M423 99h2M297 103h2M409 103h2M297 105h2M337 107h2M415 107h2M339 109h2M297 113h2M341 113h2M297 115h2M297 117h2M341 117h2M423 123h2M299 125h2M421 129h2M423 131h2M303 135h2M321 135h2M305 137h2M315 137h2"/><path stroke="#525252" d="M305 91h2M313 93h2M399 95h2M299 97h2M321 97h2M401 97h2M403 99h2M297 101h2M329 101h2M335 105h2M341 111h2M423 115h2M297 119h2M341 119h2M297 121h2M423 121h2M299 127h2M421 127h2M301 129h2M329 131h2M419 131h4M425 131h2M323 135h2M307 137h2M319 137h2M311 139h2"/><path stroke="#545454" d="M303 91h2M399 93h2M299 95h4M319 95h2M409 95h2M417 97h2M297 99h2M405 101h2M411 105h2M417 109h2M421 113h2M423 117h2M423 119h2M297 123h2M339 123h2M337 125h2M421 125h2M299 129h2M419 129h2M301 131h2M303 137h2M305 139h2M309 139h2M313 139h2"/><path stroke="#565656" d="M307 91h6M315 93h2M397 93h2M401 93h2M397 95h2M411 95h2M297 97h2M323 97h2M399 97h2M425 99h2M333 103h2M419 111h2M343 115h2M421 123h2M297 125h2M335 127h2M419 127h2M333 129h2M299 131h2M417 131h2M301 133h2M327 133h2M417 133h6M307 139h2M315 139h4"/><path stroke="#585858" d="M305 89h2M299 93h4M395 93h2M403 93h2M297 95h2M419 97h2M327 99h2M401 99h2M407 103h2M339 107h2M413 107h2M343 113h2M421 115h2M343 117h2M341 121h2M421 121h2M419 125h2M297 127h2M417 129h2M331 131h2M415 131h2M415 133h2M423 133h2M325 135h2M321 137h2M311 141h2"/><path stroke="#5a5a5a" d="M303 89h2M299 91h2M393 91h4M297 93h2M317 93h2M393 93h2M405 93h2M395 95h2M331 101h2M337 105h2M341 109h2M421 117h2M343 119h2M421 119h2M417 127h2M297 129h2M299 133h2M413 133h2M425 133h2M301 135h2M413 135h6M303 139h2M305 141h2M309 141h2"/><path stroke="#5c5c5c" d="M307 89h2M297 91h2M301 91h2M313 91h2M391 91h2M397 91h2M321 95h2M413 95h2M325 97h2M397 97h2M403 101h2M409 105h2M415 109h2M343 111h2M419 113h2M419 123h2M339 125h2M337 127h2M415 129h2M297 131h2M413 131h2M329 133h2M299 135h2M411 135h2M419 135h2M323 137h2M319 139h2M307 141h2M313 141h2"/><path stroke="#5e5e5e" d="M303 87h4M299 89h2M309 89h4M399 91h2M391 93h2M407 93h2M421 97h2M329 99h2M399 99h2M295 103h2M335 103h2M295 105h2M295 107h2M295 109h2M295 111h2M417 111h2M295 113h2M295 115h2M341 123h2M417 125h2M335 129h2M297 133h2M411 133h2M327 135h2M421 135h2M301 137h2M303 141h2M315 141h4M311 143h2"/><path stroke="#606060" d="M297 89h2M301 89h2M389 89h6M315 91h2M389 91h2M401 91h2M319 93h2M323 95h2M393 95h2M295 101h2M405 103h2M411 107h2M345 113h2M345 115h2M419 115h2M295 117h2M345 117h2M295 119h2M343 121h2M419 121h2M415 127h2M333 131h2M331 133h2M297 135h2M409 135h2M299 137h2M325 137h2M409 137h8M305 143h2M309 143h2"/><path stroke="#626262" d="M297 87h4M387 89h2M415 95h2M295 97h2M395 97h2M295 99h2M333 101h2M341 107h2M343 109h2M419 117h2M419 119h2M295 121h2M295 123h2M417 123h2M413 129h2M411 131h2M409 133h2M407 135h2M423 135h2M297 137h2M407 137h2M299 139h4M321 139h2M303 143h2M307 143h2M313 143h2"/><path stroke="#646464" d="M303 85h4M301 87h2M307 87h4M387 87h2M313 89h2M385 89h2M395 89h2M317 91h2M387 91h2M389 93h2M409 93h2M295 95h2M327 97h2M401 101h2M339 105h2M407 105h2M413 109h2M345 111h2M417 113h2M345 119h2M295 125h2M339 127h2M329 135h2M405 137h2M417 137h2M323 139h2M405 139h6M319 141h2M305 145h2"/><path stroke="#666666" d="M297 85h4M311 87h2M383 87h4M389 87h2M397 89h2M403 91h2M295 93h2M391 95h2M423 97h2M331 99h2M397 99h2M293 103h2M337 103h2M293 105h2M293 107h2M293 109h2M293 111h2M415 111h2M293 113h2M417 121h2M343 123h2M341 125h2M415 125h2M295 127h2M337 129h2M425 135h2M419 137h2M297 139h2M403 139h2M411 139h2M299 141h4M315 143h2M303 145h2M309 145h4"/><path stroke="#686868" d="M297 83h2M301 85h2M391 87h2M383 89h2M295 91h2M385 91h2M321 93h2M325 95h2M417 95h2M293 99h2M293 101h2M291 103h2M403 103h2M291 105h2M291 107h2M409 107h2M291 109h2M291 111h2M293 115h2M347 115h2M417 115h2M293 117h2M293 119h2M417 119h2M345 121h2M413 127h2M295 129h2M411 129h2M335 131h2M409 131h2M407 133h2M405 135h2M327 137h2M403 137h2M413 139h2M297 141h2M317 143h2M307 145h2"/><path stroke="#6a6a6a" d="M299 83h2M303 83h4M307 85h2M381 85h6M381 87h2M295 89h2M315 89h2M319 91h2M405 91h2M387 93h2M411 93h2M293 95h2M291 97h4M393 97h2M291 99h2M291 101h2M343 107h2M345 109h2M291 113h2M347 113h2M291 115h2M291 117h2M347 117h2M417 117h2M293 121h2M293 123h2M415 123h2M295 131h2M333 133h2M331 135h2M421 137h2M325 139h2M401 139h2M321 141h2M401 141h8M299 143h4M313 145h2M305 147h2"/><path stroke="#6c6c6c" d="M297 81h2M301 83h2M309 85h2M379 85h2M387 85h2M295 87h2M313 87h2M393 87h2M399 89h2M291 93h4M323 93h2M291 95h2M329 97h2M335 101h2M399 101h2M341 105h2M405 105h2M411 109h2M415 113h2M291 119h2M291 121h2M293 125h2M413 125h2M295 133h2M405 133h2M403 135h2M401 137h2M415 139h2M399 141h2M297 143h2M319 143h2M303 147h2M311 147h2"/><path stroke="#6e6e6e" d="M299 81h2M303 81h2M377 83h6M311 85h2M377 85h2M379 87h2M291 89h4M317 89h2M381 89h2M291 91h4M383 91h2M389 95h2M425 97h2M395 99h2M347 111h2M413 111h2M347 119h2M415 121h2M291 123h2M345 123h2M291 125h2M343 125h2M293 127h2M341 127h2M411 127h2M293 129h2M339 129h2M409 129h2M337 131h2M407 131h2M295 135h2M329 137h2M399 139h2M323 141h2M397 141h2M409 141h2M399 143h4M299 145h4M315 145h2M307 147h4"/><path stroke="#707070" d="M297 79h2M305 81h2M307 83h2M375 83h2M383 83h2M295 85h2M389 85h2M291 87h4M395 87h2M413 93h2M327 95h2M419 95h2M333 99h2M339 103h2M401 103h2M291 127h2M291 129h2M293 131h2M295 137h2M423 137h2M417 139h2M411 141h2M397 143h2M403 143h2M297 145h2M317 145h2M305 149h2"/><path stroke="#727272" d="M299 79h2M301 81h2M375 81h4M291 83h2M295 83h2M291 85h4M375 85h2M377 87h2M401 89h2M321 91h2M407 91h2M385 93h2M391 97h2M407 107h2M349 115h2M415 115h2M415 117h2M415 119h2M347 121h2M413 123h2M291 131h2M293 133h2M335 133h2M401 135h2M399 137h2M295 139h2M327 139h2M397 139h2M395 141h2M395 143h2M405 143h2M297 147h6M313 147h2M303 149h2"/><path stroke="#747474" d="M297 77h2M303 79h2M291 81h2M295 81h2M373 81h2M379 81h2M293 83h2M309 83h2M373 83h2M385 83h2M315 87h2M319 89h2M379 89h2M325 93h2M331 97h2M337 101h2M397 101h2M345 107h2M347 109h2M349 113h2M349 117h2M411 125h2M405 131h2M291 133h2M403 133h2M293 135h2M333 135h2M295 141h2M325 141h2M321 143h2M393 143h2M393 145h8M307 149h6"/><path stroke="#767676" d="M297 75h2M299 77h2M291 79h2M301 79h2M305 79h2M371 79h4M293 81h2M371 81h2M311 83h2M313 85h2M391 85h2M397 87h2M381 91h2M387 95h2M393 99h2M343 105h2M403 105h2M409 109h2M411 111h2M413 113h2M349 119h2M413 121h2M345 125h2M343 127h2M409 127h2M407 129h2M291 135h2M291 137h4M331 137h2M425 137h2M419 139h2M413 141h2M407 143h2M319 145h2M391 145h2M401 145h2M315 147h2M297 149h6M303 151h4"/><path stroke="#787878" d="M291 77h2M293 79h4M369 79h2M375 79h2M307 81h2M369 81h2M381 81h2M371 83h2M387 83h2M373 85h2M317 87h2M375 87h2M403 89h2M323 91h2M409 91h2M383 93h2M415 93h2M289 95h2M329 95h2M421 95h2M289 97h2M289 99h2M335 99h2M289 101h2M289 103h2M289 105h2M289 107h2M289 109h2M289 111h2M349 111h2M289 113h2M347 123h2M341 129h2M339 131h2M337 133h2M399 135h2M397 137h2M291 139h4M395 139h2M393 141h2M295 143h2M323 143h2M391 143h2M317 147h2M391 147h4"/><path stroke="#7a7a7a" d="M297 73h2M291 75h2M299 75h2M295 77h2M303 77h2M367 77h6M367 79h2M377 79h2M309 81h2M377 89h2M289 91h2M289 93h2M389 97h2M341 103h2M399 103h2M405 107h2M289 115h2M413 115h2M289 117h2M413 117h2M289 119h2M413 119h2M411 123h2M401 133h2M329 139h2M291 141h4M415 141h2M409 143h2M295 145h2M389 145h2M403 145h2M389 147h2M395 147h2M313 149h2M297 151h4M307 151h4"/><path stroke="#7c7c7c" d="M291 73h2M293 77h2M301 77h2M305 77h2M365 77h2M373 77h2M383 81h2M289 85h2M315 85h2M393 85h2M289 87h2M289 89h2M333 97h2M339 101h2M395 101h2M351 113h2M351 115h2M351 117h2M289 121h2M349 121h2M289 123h2M409 125h2M405 129h2M403 131h2M335 135h2M421 139h2M327 141h2M291 143h4M387 147h2M397 147h2M301 151h2M311 151h2M303 153h4"/><path stroke="#7e7e7e" d="M291 71h2M297 71h2M299 73h2M293 75h4M303 75h2M363 75h8M307 79h2M365 79h2M379 79h2M311 81h2M367 81h2M289 83h2M313 83h2M369 83h2M389 83h2M371 85h2M319 87h2M399 87h2M321 89h2M379 91h2M327 93h2M385 95h2M345 105h2M347 107h2M349 109h2M407 109h2M411 113h2M411 121h2M289 125h2M289 127h2M345 127h2M407 127h2M333 137h2M395 137h2M393 139h2M391 141h2M325 143h2M389 143h2M291 145h2M321 145h2M387 145h2M405 145h2M295 147h2M399 147h2M315 149h2M387 149h6M297 153h4"/><path stroke="#818181" d="M291 69h2M293 73h4M363 73h4M301 75h2M363 77h2M375 77h2M289 79h2M289 81h2M317 85h2M373 87h2M405 89h2M325 91h2M411 91h2M417 93h2M331 95h2M423 95h2M337 99h2M391 99h2M401 105h2M351 111h2M409 111h2M351 119h2M347 125h2M289 129h2M343 129h2M289 131h2M341 131h2M397 135h2M331 139h2M417 141h2M411 143h2M293 145h2M319 147h2M385 147h2M295 149h2M385 149h2M393 149h2M301 153h2M307 153h2M303 155h4"/><path stroke="#838383" d="M291 67h2M297 69h2M299 71h2M361 73h2M367 73h2M425 73h2M305 75h2M361 75h2M371 75h2M289 77h2M309 79h2M385 81h2M395 85h2M375 89h2M381 93h2M387 97h2M343 103h2M397 103h2M411 115h2M411 117h2M411 119h2M349 123h2M409 123h2M289 133h2M339 133h2M399 133h2M423 139h2M323 145h2M291 147h4M401 147h2M317 149h2M383 149h2M395 149h2M313 151h2M383 151h6M309 153h4M297 155h4"/><path stroke="#858585" d="M291 65h2M293 71h4M359 71h6M289 73h2M301 73h4M359 73h2M423 73h2M289 75h2M425 75h2M307 77h2M361 77h2M377 77h2M363 79h2M381 79h2M365 81h2M367 83h2M369 85h2M401 87h2M323 89h2M285 91h2M285 93h2M285 95h2M285 97h2M285 99h2M285 101h2M285 103h2M403 107h2M351 121h2M407 125h2M405 127h2M403 129h2M401 131h2M289 135h2M337 135h2M289 137h2M391 139h2M329 141h2M389 141h2M387 143h2M385 145h2M407 145h2M383 147h2M291 149h4M295 151h2M381 151h2M389 151h2M301 155h2M297 157h2"/><path stroke="#878787" d="M291 63h2M297 67h2M293 69h4M299 69h2M357 69h4M289 71h2M357 71h2M365 71h2M419 71h6M357 73h2M369 73h2M421 73h2M359 75h2M373 75h2M285 79h2M311 79h2M285 81h2M313 81h2M285 83h2M315 83h2M391 83h2M285 85h2M285 87h2M371 87h2M285 89h4M287 91h2M377 91h2M287 93h2M329 93h2M287 95h2M383 95h2M287 97h2M335 97h2M287 99h2M287 101h2M341 101h2M393 101h2M287 103h2M285 105h4M285 107h4M285 109h4M285 111h4M285 113h2M353 113h2M409 113h2M353 115h2M353 117h2M409 121h2M335 137h2M393 137h2M289 139h2M419 141h2M413 143h2M321 147h2M381 149h2M397 149h2M291 151h2M391 151h2M381 153h4M307 155h2M299 157h2M303 157h4"/><path stroke="#898989" d="M291 61h2M293 67h2M355 67h4M289 69h2M355 69h2M361 69h2M417 69h2M417 71h2M305 73h2M285 75h2M423 75h2M285 77h2M309 77h2M387 81h2M287 83h2M287 85h2M319 85h2M287 87h2M321 87h2M407 89h2M413 91h2M425 95h2M389 99h2M347 105h2M399 105h2M349 107h2M351 109h2M405 109h2M407 111h2M287 113h2M285 115h4M285 117h4M285 119h4M285 121h2M349 125h2M347 127h2M345 129h2M343 131h2M395 135h2M333 139h2M425 139h2M289 141h2M327 143h2M325 145h2M403 147h2M319 149h2M293 151h2M315 151h2M379 151h2M291 153h2M295 153h2M379 153h2M385 153h2M309 155h2M297 159h2"/><path stroke="#8b8b8b" d="M291 59h2M293 65h2M297 65h2M289 67h2M295 67h2M353 67h2M359 67h2M413 67h2M285 69h2M353 69h2M363 69h2M415 69h2M419 69h2M285 71h2M301 71h4M355 71h2M367 71h2M425 71h2M285 73h2M371 73h2M419 73h2M357 75h2M375 75h2M359 77h2M379 77h2M287 79h2M361 79h2M383 79h2M287 81h2M363 81h2M317 83h2M365 83h2M397 85h2M373 89h2M327 91h2M379 93h2M419 93h2M333 95h2M339 99h2M353 111h2M409 115h2M353 119h2M409 119h2M287 121h2M285 123h4M351 123h2M407 123h2M285 125h4M341 133h2M397 133h2M331 141h2M387 141h2M289 143h2M385 143h2M383 145h2M409 145h2M381 147h2M379 149h2M317 151h2M393 151h2M293 153h2M313 153h2M377 153h2M387 153h2M291 155h2M295 155h2M311 155h2M379 155h2M301 157h2M299 159h2M303 159h2"/><path stroke="#8d8d8d" d="M291 57h2M297 63h2M351 63h2M285 65h2M289 65h2M295 65h2M351 65h6M285 67h2M299 67h2M351 67h2M411 67h2M415 67h2M413 69h2M421 69h2M415 71h2M355 73h2M287 75h2M307 75h2M287 77h2M311 77h2M425 77h2M393 83h2M367 85h2M403 87h2M325 89h2M331 93h2M385 97h2M345 103h2M395 103h2M401 107h2M409 117h2M405 125h2M285 127h4M403 127h2M285 129h4M401 129h2M285 131h2M399 131h2M339 135h2M389 139h2M415 143h2M289 145h2M323 147h2M399 149h2M377 151h2M293 155h2M377 155h2M381 155h4M291 157h2M307 157h2M305 159h2M297 161h2"/><path stroke="#8f8f8f" d="M291 55h2M285 61h2M289 61h2M285 63h2M289 63h2M293 63h2M349 63h2M353 63h2M349 65h2M357 65h2M407 65h6M361 67h2M409 67h2M417 67h2M301 69h4M351 69h2M365 69h2M411 69h2M287 71h2M305 71h2M353 71h2M287 73h2M417 73h2M421 75h2M283 79h2M313 79h2M283 81h2M315 81h2M389 81h2M283 83h2M283 85h2M283 87h2M323 87h2M369 87h2M283 89h2M283 91h2M375 91h2M283 93h2M283 95h2M381 95h2M283 97h2M337 97h2M283 99h2M283 101h2M391 101h2M355 115h2M353 121h2M287 131h2M285 133h4M285 135h2M337 137h2M391 137h2M421 141h2M329 143h2M289 147h2M405 147h2M395 151h2M375 153h2M389 153h2M375 155h2M295 157h2M309 157h2M375 157h4M301 159h2M299 161h2"/><path stroke="#919191" d="M291 53h2M285 55h2M285 57h2M285 59h2M289 59h2M293 61h2M297 61h2M347 61h6M403 61h2M295 63h2M347 63h2M355 63h2M405 63h6M299 65h2M359 65h2M413 65h2M349 67h2M287 69h2M423 69h2M283 71h2M369 71h2M283 73h2M373 73h2M283 75h2M309 75h2M355 75h2M377 75h2M283 77h2M357 77h2M381 77h2M359 79h2M385 79h2M409 89h2M343 101h2M283 103h2M283 105h2M283 107h2M351 107h2M283 109h2M403 109h2M283 111h2M355 113h2M407 113h2M355 117h2M407 121h2M287 135h2M393 135h2M285 137h2M285 139h2M383 143h2M381 145h2M411 145h2M379 147h2M289 149h2M321 149h2M377 149h2M319 151h2M375 151h2M315 153h2M313 155h2M373 155h2M385 155h2M293 157h2M311 157h2M373 157h2M379 157h2M291 159h2M295 159h2M303 161h2M297 163h2"/><path stroke="#939393" d="M285 51h2M291 51h2M285 53h2M289 57h2M345 57h2M293 59h2M345 59h6M399 59h2M345 61h2M353 61h2M401 61h2M405 61h2M283 63h2M299 63h2M357 63h2M403 63h2M283 65h2M287 65h2M347 65h2M405 65h2M283 67h2M287 67h2M301 67h2M363 67h2M407 67h2M419 67h2M283 69h2M351 71h2M413 71h2M307 73h2M353 73h2M423 77h2M317 81h2M361 81h2M319 83h2M363 83h2M321 85h2M399 85h2M371 89h2M329 91h2M415 91h2M377 93h2M421 93h2M387 99h2M349 105h2M397 105h2M353 109h2M405 111h2M283 113h2M283 115h2M283 117h2M283 119h2M355 119h2M407 119h2M405 123h2M351 125h2M349 127h2M347 129h2M345 131h2M343 133h2M395 133h2M287 137h2M287 139h2M335 139h2M285 141h2M385 141h2M327 145h2M325 147h2M401 149h2M289 151h2M317 153h2M373 153h2M391 153h2M371 157h2M381 157h2M293 159h2M307 159h2M373 159h2M291 161h2M301 161h2M305 161h2M299 163h2"/><path stroke="#959595" d="M285 47h2M285 49h2M291 49h2M289 55h2M343 55h4M283 57h2M343 57h2M347 57h4M397 57h2M283 59h2M297 59h2M343 59h2M351 59h2M397 59h2M401 59h4M283 61h2M287 61h2M295 61h2M399 61h2M407 61h2M287 63h2M345 63h2M401 63h2M411 63h2M361 65h2M415 65h2M303 67h2M305 69h2M349 69h2M367 69h2M409 69h2M415 73h2M311 75h2M419 75h2M395 83h2M365 85h2M335 95h2M383 97h2M341 99h2M393 103h2M355 111h2M407 115h2M407 117h2M283 121h2M283 123h2M353 123h2M283 125h2M403 125h2M399 129h2M397 131h2M387 139h2M287 141h2M333 141h2M285 143h2M417 143h2M285 145h2M407 147h2M397 151h2M289 153h2M371 155h2M387 155h2M371 159h2M375 159h4M295 161h2M291 163h2M297 165h2"/><path stroke="#979797" d="M285 43h2M285 45h2M291 47h2M283 49h2M283 51h2M283 53h2M289 53h2M341 53h6M283 55h2M341 55h2M347 55h2M393 55h4M293 57h2M297 57h2M395 57h2M399 57h2M287 59h2M295 59h2M353 59h2M299 61h2M343 61h2M355 61h2M345 65h2M403 65h2M347 67h2M365 67h2M425 69h2M371 71h2M309 73h2M375 73h2M313 77h2M315 79h2M391 81h2M325 87h2M367 87h2M405 87h2M327 89h2M373 91h2M333 93h2M347 103h2M399 107h2M355 121h2M283 127h2M401 127h2M283 129h2M283 131h2M341 135h2M339 137h2M389 137h2M423 141h2M287 143h2M331 143h2M287 145h2M379 145h2M285 147h2M377 147h2M323 149h2M375 149h2M373 151h2M393 153h2M289 155h2M315 155h2M369 157h2M383 157h2M309 159h2M369 159h2M293 161h2M369 161h4M303 163h4M291 165h2M299 165h2"/><path stroke="#999999" d="M285 39h2M285 41h2M283 43h2M283 45h2M291 45h2M283 47h2M289 49h2M337 49h4M289 51h2M339 51h6M389 51h2M339 53h2M389 53h6M287 55h2M293 55h2M339 55h2M391 55h2M397 55h2M287 57h2M295 57h2M341 57h2M351 57h2M393 57h2M401 57h2M341 59h2M395 59h2M405 59h2M397 61h2M409 61h2M359 63h2M399 63h2M413 63h2M301 65h4M417 65h2M305 67h2M405 67h2M421 67h2M307 71h2M349 71h2M411 71h2M351 73h2M353 75h2M379 75h2M355 77h2M383 77h2M357 79h2M387 79h2M359 81h2M323 85h2M411 89h2M331 91h2M379 95h2M339 97h2M345 101h2M389 101h2M401 109h2M357 113h2M405 113h2M357 115h2M357 117h2M405 121h2M283 133h2M283 135h2M391 135h2M337 139h2M383 141h2M381 143h2M329 145h2M413 145h2M287 147h2M285 149h2M403 149h2M285 151h2M321 151h2M371 153h2M369 155h2M389 155h2M289 157h2M313 157h2M311 159h2M367 159h2M379 159h2M307 161h2M367 161h2M373 161h2M293 163h4M301 163h2M297 167h2"/><path stroke="#9b9b9b" d="M285 33h2M285 35h2M283 37h4M283 39h2M283 41h2M291 43h2M337 45h2M289 47h2M337 47h4M385 47h2M341 49h2M385 49h6M337 51h2M345 51h2M387 51h2M391 51h2M287 53h2M293 53h2M337 53h2M347 53h2M395 53h2M297 55h2M349 55h2M399 55h2M339 57h2M299 59h2M357 61h2M343 63h2M363 65h2M401 65h2M347 69h2M369 69h2M407 69h2M311 73h2M417 75h2M421 77h2M425 79h2M361 83h2M401 85h2M369 89h2M417 91h2M375 93h2M423 93h2M337 95h2M385 99h2M351 105h2M395 105h2M353 107h2M355 109h2M403 111h2M357 119h2M405 119h2M403 123h2M353 125h2M351 127h2M349 129h2M347 131h2M393 133h2M283 137h2M283 139h2M385 139h2M419 143h2M287 149h2M399 151h2M285 153h2M319 153h2M317 155h2M367 157h2M385 157h2M289 159h2M365 161h2M375 161h2M365 163h6M295 165h2M303 165h2M291 167h2M299 167h2M297 169h2"/><path stroke="#9d9d9d" d="M285 29h2M283 31h4M283 33h2M283 35h2M291 41h2M333 43h6M381 43h2M289 45h2M335 45h2M339 45h2M381 45h4M335 47h2M341 47h2M383 47h2M387 47h2M287 49h2M335 49h2M343 49h2M287 51h2M293 51h2M385 51h2M393 51h2M297 53h2M387 53h2M295 55h2M337 55h2M351 55h2M389 55h2M353 57h2M391 57h2M403 57h2M355 59h2M393 59h2M407 59h2M341 61h2M301 63h4M361 63h2M343 65h2M345 67h2M309 71h2M373 71h2M413 73h2M317 79h2M319 81h2M321 83h2M397 83h2M363 85h2M329 89h2M343 99h2M357 111h2M405 115h2M405 117h2M355 123h2M401 125h2M399 127h2M397 129h2M395 131h2M345 133h2M387 137h2M283 141h2M335 141h2M283 143h2M327 147h2M409 147h2M325 149h2M373 149h2M287 151h2M371 151h2M395 153h2M285 155h2M285 157h2M365 159h2M381 159h2M289 161h2M309 161h2M377 161h2M363 163h2M371 163h2M293 165h2M301 165h2M305 165h2M365 165h2M291 169h2"/><path stroke="#9f9f9f" d="M277 29h2M283 29h2M277 31h2M277 33h2M277 35h2M331 35h2M277 37h2M331 37h4M277 39h2M291 39h2M331 39h6M377 39h2M277 41h2M289 41h2M331 41h8M377 41h4M421 41h2M277 43h2M289 43h2M331 43h2M339 43h2M379 43h2M383 43h2M421 43h4M277 45h2M333 45h2M379 45h2M385 45h2M423 45h4M277 47h2M287 47h2M333 47h2M343 47h2M381 47h2M389 47h2M425 47h2M277 49h2M293 49h2M345 49h2M383 49h2M391 49h2M277 51h2M335 51h2M347 51h2M277 53h2M295 53h2M349 53h2M397 53h2M277 55h2M401 55h2M277 57h2M299 57h2M277 59h2M339 59h2M277 61h2M359 61h2M395 61h2M411 61h2M277 63h2M397 63h2M415 63h2M277 65h2M305 65h2M419 65h2M277 67h2M367 67h2M403 67h2M423 67h2M277 69h2M307 69h2M277 71h2M409 71h2M277 73h2M349 73h2M377 73h2M313 75h2M351 75h2M315 77h2M353 77h2M393 81h2M365 87h2M407 87h2M371 91h2M381 97h2M349 103h2M391 103h2M397 107h2M357 121h2M343 135h2M389 135h2M425 141h2M333 143h2M379 143h2M283 145h2M377 145h2M415 145h2M283 147h2M375 147h2M405 149h2M323 151h2M287 153h2M369 153h2M367 155h2M391 155h2M315 157h2M365 157h2M285 159h2M313 159h2M311 161h2M363 161h2M289 163h2M307 163h2M373 163h2M363 165h2M367 165h2M293 167h4M303 167h2M299 169h2M291 171h2M297 171h2"/><path stroke="#a1a1a1" d="M329 31h4M329 33h4M371 33h4M291 35h2M329 35h2M333 35h2M373 35h4M413 35h2M291 37h2M329 37h2M335 37h2M373 37h6M415 37h4M289 39h2M329 39h2M337 39h2M375 39h2M379 39h2M417 39h4M375 41h2M381 41h2M419 41h2M423 41h2M287 43h2M377 43h2M385 43h2M425 43h2M287 45h2M331 45h2M341 45h2M387 45h2M279 47h2M293 47h2M279 49h2M333 49h2M279 51h2M295 51h4M383 51h2M395 51h2M279 53h2M335 53h2M385 53h2M279 55h2M387 55h2M279 57h2M337 57h2M405 57h2M279 59h2M357 59h2M279 61h2M301 61h2M339 61h2M279 63h2M341 63h2M279 65h2M365 65h2M399 65h2M279 67h2M279 69h2M345 69h2M371 69h2M405 69h2M279 71h2M311 71h2M347 71h2M279 73h2M277 75h4M381 75h2M277 77h4M385 77h2M277 79h6M355 79h2M389 79h2M277 81h6M357 81h2M277 83h4M277 85h4M325 85h2M277 87h4M327 87h2M279 89h2M413 89h2M335 93h2M377 95h2M341 97h2M387 101h2M403 113h2M359 115h2M359 117h2M403 121h2M391 133h2M341 137h2M381 141h2M331 145h2M283 149h2M283 151h2M401 151h2M287 155h2M287 157h2M387 157h2M363 159h2M383 159h2M285 161h2M379 161h2M361 163h2M289 165h2M361 165h2M369 165h2M301 167h2M361 167h6M293 169h4M291 173h2"/><path stroke="#a3a3a3" d="M279 29h2M325 29h8M367 29h6M407 29h2M279 31h2M325 31h4M369 31h6M407 31h4M279 33h2M291 33h2M325 33h4M333 33h2M369 33h2M409 33h6M279 35h2M327 35h2M371 35h2M377 35h2M411 35h2M415 35h2M279 37h2M289 37h2M371 37h2M379 37h2M413 37h2M279 39h2M287 39h2M373 39h2M381 39h2M415 39h2M421 39h2M279 41h2M287 41h2M329 41h2M339 41h2M383 41h2M417 41h2M279 43h2M329 43h2M341 43h2M419 43h2M279 45h2M293 45h2M343 45h2M377 45h2M421 45h2M331 47h2M345 47h2M379 47h2M391 47h2M423 47h2M297 49h2M381 49h2M393 49h2M333 51h2M351 53h2M399 53h2M299 55h2M335 55h2M353 55h2M355 57h2M389 57h2M337 59h2M391 59h2M409 59h2M303 61h2M281 63h2M305 63h2M281 65h2M281 67h2M307 67h2M343 67h2M281 69h2M309 69h2M281 71h2M281 73h2M281 75h2M415 75h2M281 77h2M317 77h2M419 77h2M423 79h2M281 83h2M323 83h2M359 83h2M281 85h2M403 85h2M281 87h2M277 89h2M281 89h2M367 89h2M277 91h6M333 91h2M419 91h2M277 93h6M277 95h6M277 97h6M279 99h4M383 99h2M279 101h4M347 101h2M393 105h2M355 107h2M357 109h2M399 109h2M401 111h2M359 113h2M403 119h2M401 123h2M353 127h2M351 129h2M349 131h2M393 131h2M339 139h2M383 139h2M337 141h2M421 143h2M329 147h2M411 147h2M283 153h2M321 153h2M397 153h2M283 155h2M319 155h2M317 157h2M287 159h2M361 161h2M285 163h2M309 163h2M375 163h2M425 163h2M285 165h2M359 165h2M371 165h2M423 165h4M289 167h2M305 167h2M359 167h2M367 167h2M299 171h2M297 173h2M291 175h2"/><path stroke="#a5a5a5" d="M323 29h2M365 29h2M405 29h2M409 29h2M291 31h2M333 31h2M367 31h2M411 31h2M289 33h2M375 33h2M287 35h4M325 35h2M335 35h2M369 35h2M417 35h2M287 37h2M327 37h2M337 37h2M411 37h2M419 37h2M327 39h2M339 39h2M413 39h2M373 41h2M415 41h2M425 41h2M293 43h2M375 43h2M329 45h2M389 45h2M297 47h2M295 49h2M331 49h2M347 49h2M425 49h2M281 51h2M349 51h2M397 51h2M281 53h2M299 53h2M333 53h2M281 55h2M403 55h2M281 57h2M281 59h2M301 59h2M281 61h2M393 61h2M413 61h2M339 63h2M363 63h2M341 65h2M369 67h2M401 67h2M425 67h2M375 71h2M313 73h2M411 73h2M319 79h2M321 81h2M399 83h2M361 85h2M331 89h2M373 93h2M425 93h2M339 95h2M277 99h2M345 99h2M277 101h2M277 103h6M277 105h6M353 105h2M279 107h4M279 109h4M359 111h2M403 115h2M403 117h2M359 119h2M357 123h2M355 125h2M399 125h2M397 127h2M395 129h2M347 133h2M385 137h2M373 147h2M327 149h2M371 149h2M325 151h2M369 151h2M367 153h2M365 155h2M393 155h2M283 157h2M363 157h2M287 161h2M311 163h2M359 163h2M423 163h2M307 165h2M421 165h2M285 167h2M357 167h2M421 167h2M289 169h2M301 169h4M357 169h8M293 171h4M291 177h2"/><path stroke="#a7a7a7" d="M289 29h4M333 29h2M373 29h2M403 29h2M411 29h2M289 31h2M323 31h2M365 31h2M375 31h2M405 31h2M413 31h2M287 33h2M335 33h2M367 33h2M377 33h2M407 33h2M415 33h2M337 35h2M379 35h2M409 35h2M325 37h2M369 37h2M381 37h2M371 39h2M383 39h2M423 39h2M281 41h2M293 41h2M327 41h2M341 41h2M385 41h2M281 43h2M343 43h2M387 43h2M417 43h2M281 45h2M419 45h2M281 47h2M295 47h2M377 47h2M281 49h2M379 49h2M395 49h2M331 51h2M381 51h2M383 53h2M385 55h2M335 57h2M303 59h2M359 59h2M305 61h2M337 61h2M361 61h2M395 63h2M417 63h2M421 65h2M311 69h2M345 71h2M407 71h2M347 73h2M379 73h2M315 75h2M349 75h2M383 75h2M351 77h2M353 79h2M395 81h2M409 87h2M369 91h2M337 93h2M379 97h2M351 103h2M389 103h2M277 107h2M395 107h2M277 109h2M277 111h6M277 113h6M279 115h4M279 117h4M281 119h2M345 135h2M387 135h2M335 143h2M377 143h2M375 145h2M417 145h2M407 149h2M323 153h2M389 157h2M283 159h2M315 159h2M361 159h2M385 159h2M283 161h2M313 161h2M381 161h2M425 161h2M287 163h2M377 163h2M357 165h2M373 165h2M419 165h2M369 167h2M417 167h4M423 167h2M285 169h2M305 169h2M365 169h2M285 171h2M289 171h2M357 171h4M293 173h2M299 173h2M297 175h2"/><path stroke="#a9a9a9" d="M281 29h2M287 29h2M363 29h2M281 31h2M287 31h2M335 31h2M281 33h2M323 33h2M281 35h2M323 35h2M367 35h2M419 35h2M281 37h2M339 37h2M421 37h2M281 39h2M293 39h2M325 39h2M327 43h2M373 43h2M295 45h4M345 45h2M375 45h2M329 47h2M347 47h2M393 47h2M421 47h2M349 49h2M299 51h2M351 51h2M353 53h2M401 53h2M333 55h2M355 55h2M301 57h4M357 57h2M387 57h2M407 57h2M389 59h2M307 65h2M367 65h2M397 65h2M309 67h2M341 67h2M343 69h2M373 69h2M403 69h2M387 77h2M391 79h2M355 81h2M329 87h2M363 87h2M375 95h2M343 97h2M385 101h2M401 113h2M277 115h2M361 115h2M277 117h2M277 119h4M277 121h6M359 121h2M401 121h2M277 123h6M277 125h6M279 127h4M389 133h2M343 137h2M379 141h2M333 145h2M331 147h2M403 151h2M319 157h2M317 159h2M359 161h2M283 163h2M357 163h2M421 163h2M283 165h2M287 165h2M309 165h2M355 167h2M425 167h2M355 169h2M415 169h6M301 171h4M355 171h2M361 171h2M285 173h2M289 173h2M295 173h2M355 173h4M293 175h2M297 177h2M291 179h2"/><path stroke="#ababab" d="M271 29h2M321 29h2M375 29h2M401 29h2M413 29h2M271 31h2M377 31h2M403 31h2M415 31h2M271 33h2M337 33h2M365 33h2M405 33h2M417 33h2M271 35h2M407 35h2M271 37h2M293 37h2M323 37h2M409 37h2M271 39h2M341 39h2M369 39h2M411 39h2M325 41h2M343 41h2M371 41h2M413 41h2M295 43h4M389 43h2M415 43h2M327 45h2M391 45h2M299 49h2M329 49h2M423 49h2M399 51h2M331 53h2M301 55h2M405 55h2M305 59h2M335 59h2M411 59h2M391 61h2M365 63h2M339 65h2M313 71h2M377 71h2M409 73h2M317 75h2M413 75h2M319 77h2M417 77h2M421 79h2M323 81h2M325 83h2M357 83h2M327 85h2M405 85h2M365 89h2M415 89h2M335 91h2M349 101h2M391 105h2M357 107h2M359 109h2M397 109h2M399 111h2M361 113h2M361 117h2M401 119h2M399 123h2M357 125h2M277 127h2M355 127h2M277 129h6M353 129h2M277 131h6M351 131h2M391 131h2M277 133h6M279 135h2M341 139h2M381 139h2M423 143h2M413 147h2M369 149h2M367 151h2M365 153h2M399 153h2M321 155h2M363 155h2M395 155h2M423 161h2M379 163h2M311 165h2M355 165h2M375 165h2M417 165h2M283 167h2M287 167h2M307 167h2M371 167h2M415 167h2M283 169h2M353 169h2M367 169h2M413 169h2M421 169h2M305 171h2M353 171h2M363 171h2M411 171h6M353 173h2M359 173h2M285 175h2M289 175h2M295 175h2M299 175h2M291 181h2"/><path stroke="#adadad" d="M335 29h2M321 31h2M337 31h2M363 31h2M379 33h2M293 35h2M339 35h2M381 35h2M367 37h2M383 37h2M323 39h2M385 39h2M425 39h2M271 41h2M295 41h4M387 41h2M271 43h2M325 43h2M345 43h2M271 45h2M417 45h2M271 47h2M299 47h2M375 47h2M271 49h2M377 49h2M397 49h2M271 51h2M379 51h2M425 51h2M271 53h2M381 53h2M271 55h2M303 55h2M331 55h2M383 55h2M333 57h2M363 61h2M415 61h2M307 63h2M337 63h2M393 63h2M419 63h2M309 65h2M423 65h2M311 67h2M371 67h2M399 67h2M405 71h2M315 73h2M345 73h2M381 73h2M321 79h2M425 81h2M401 83h2M359 85h2M333 89h2M421 91h2M371 93h2M341 95h2M347 99h2M381 99h2M355 105h2M401 115h2M401 117h2M361 119h2M359 123h2M397 125h2M395 127h2M393 129h2M349 133h2M277 135h2M281 135h2M277 137h6M383 137h2M277 139h4M277 141h4M339 141h2M337 143h2M373 145h2M371 147h2M329 149h2M409 149h2M361 157h2M391 157h2M359 159h2M387 159h2M315 161h2M357 161h2M383 161h2M313 163h2M309 167h2M353 167h2M287 169h2M411 169h2M283 171h2M287 171h2M351 171h2M365 171h2M409 171h2M417 171h2M301 173h4M351 173h2M361 173h2M409 173h4M351 175h8M285 177h2M289 177h2M293 177h2M351 177h2M285 179h2M297 179h2M291 183h2"/><path stroke="#afafaf" d="M319 29h2M361 29h2M293 33h2M321 33h2M339 33h2M365 35h2M421 35h2M341 37h2M423 37h2M295 39h4M343 39h2M371 43h2M325 45h2M347 45h2M373 45h2M327 47h2M349 47h2M395 47h2M419 47h2M351 49h2M329 51h2M301 53h2M403 53h2M357 55h2M271 57h2M305 57h2M359 57h2M385 57h2M409 57h2M271 59h2M361 59h2M387 59h2M271 61h2M335 61h2M271 63h2M271 65h2M369 65h2M395 65h2M271 67h2M271 69h2M341 69h2M375 69h2M343 71h2M347 75h2M385 75h2M349 77h2M389 77h2M351 79h2M393 79h2M397 81h2M331 87h2M361 87h2M411 87h2M367 91h2M339 93h2M377 97h2M353 103h2M387 103h2M393 107h2M361 111h2M399 121h2M347 135h2M385 135h2M345 137h2M281 139h2M281 141h2M277 143h6M375 143h2M277 145h4M419 145h2M277 147h2M327 151h2M325 153h2M323 155h2M355 163h2M419 163h2M373 167h2M413 167h2M307 169h2M351 169h2M369 169h2M423 169h2M419 171h2M283 173h2M287 173h2M349 173h2M407 173h2M413 173h2M283 175h2M349 175h2M359 175h2M405 175h4M295 177h2M299 177h2M349 177h2M353 177h4M289 179h2M293 179h2M285 181h2M297 181h2M291 185h2"/><path stroke="#b1b1b1" d="M293 29h2M337 29h2M377 29h2M399 29h2M415 29h2M293 31h2M319 31h2M379 31h2M401 31h2M417 31h2M363 33h2M403 33h2M419 33h2M321 35h2M405 35h2M295 37h4M407 37h2M367 39h2M409 39h2M323 41h2M345 41h2M369 41h2M411 41h2M391 43h2M299 45h2M393 45h2M327 49h2M421 49h2M301 51h2M353 51h2M401 51h2M303 53h2M329 53h2M355 53h2M331 57h2M333 59h2M413 59h2M307 61h2M389 61h2M367 63h2M311 65h2M337 65h2M339 67h2M313 69h2M401 69h2M271 71h2M271 73h2M317 73h2M271 75h2M271 77h2M271 79h2M271 81h2M353 81h2M329 85h2M373 95h2M345 97h2M351 101h2M383 101h2M395 109h2M399 113h2M363 115h2M363 117h2M361 121h2M387 133h2M343 139h2M377 141h2M281 145h2M335 145h2M279 147h4M333 147h2M277 149h4M277 151h4M365 151h2M405 151h2M277 153h2M363 153h2M401 153h2M321 157h2M319 159h2M425 159h2M317 161h2M421 161h2M381 163h2M353 165h2M377 165h2M415 165h2M311 167h2M351 167h2M349 171h2M367 171h2M407 171h2M305 173h2M363 173h2M405 173h2M415 173h2M287 175h2M301 175h4M403 175h2M409 175h2M283 177h2M347 177h2M357 177h2M403 177h4M283 179h2M295 179h2M347 179h8M289 181h2M293 181h2M285 183h2M285 185h2M291 187h2"/><path stroke="#b3b3b3" d="M275 29h2M317 29h2M359 29h2M275 31h2M339 31h2M361 31h2M275 33h2M319 33h2M381 33h2M275 35h2M295 35h4M341 35h2M383 35h2M275 37h2M321 37h2M343 37h2M365 37h2M385 37h2M275 39h2M387 39h2M275 41h2M389 41h2M275 43h2M299 43h2M323 43h2M347 43h2M413 43h2M415 45h2M325 47h2M373 47h2M375 49h2M303 51h2M377 51h2M423 51h2M379 53h2M305 55h2M407 55h2M365 61h2M417 61h2M309 63h2M335 63h2M391 63h2M373 67h2M397 67h2M315 71h2M379 71h2M407 73h2M319 75h2M411 75h2M415 77h2M323 79h2M419 79h2M325 81h2M271 83h2M327 83h2M355 83h2M271 85h2M407 85h2M271 87h2M271 89h2M363 89h2M417 89h2M337 91h2M423 91h2M369 93h2M379 99h2M389 105h2M359 107h2M361 109h2M397 111h2M363 113h2M399 115h2M399 117h2M399 119h2M397 123h2M359 125h2M395 125h2M357 127h2M355 129h2M391 129h2M353 131h2M389 131h2M379 139h2M425 143h2M369 147h2M415 147h2M281 149h2M331 149h2M367 149h2M281 151h2M279 153h2M277 155h4M361 155h2M397 155h2M277 157h4M359 157h2M393 157h2M277 159h2M357 159h2M389 159h2M277 161h2M355 161h2M385 161h2M315 163h2M417 163h2M313 165h2M411 167h2M309 169h2M371 169h2M409 169h2M425 169h2M421 171h2M347 173h2M347 175h2M361 175h2M411 175h2M287 177h2M345 177h2M401 177h2M407 177h2M299 179h2M345 179h2M399 179h4M283 181h2M295 181h2M345 181h8M283 183h2M289 183h2M297 183h2M285 187h2M291 189h2"/><path stroke="#b5b5b5" d="M297 31h2M317 31h2M295 33h4M361 33h2M319 35h2M363 35h2M423 35h2M425 37h2M321 39h2M345 39h2M299 41h2M367 41h2M369 43h2M275 45h2M323 45h2M349 45h2M371 45h2M275 47h2M351 47h2M397 47h2M417 47h2M275 49h2M301 49h2M325 49h2M353 49h2M399 49h2M275 51h2M327 51h2M275 53h2M305 53h2M405 53h2M275 55h2M329 55h2M381 55h2M275 57h2M361 57h2M383 57h2M411 57h2M275 59h2M307 59h2M331 59h2M363 59h2M275 61h2M333 61h2M275 63h2M311 63h2M421 63h2M275 65h2M371 65h2M425 65h2M275 67h2M313 67h2M275 69h2M339 69h2M341 71h2M403 71h2M343 73h2M383 73h2M345 75h2M321 77h2M347 77h2M349 79h2M423 81h2M403 83h2M357 85h2M335 89h2M271 91h2M271 93h2M271 95h2M343 95h2M271 97h2M375 97h2M349 99h2M357 105h2M363 111h2M363 119h2M361 123h2M393 127h2M351 133h2M349 135h2M381 137h2M341 141h2M339 143h2M371 145h2M411 149h2M329 151h2M281 153h2M281 155h2M325 155h2M279 159h2M279 161h2M277 163h2M353 163h2M277 165h2M351 165h2M277 167h2M375 167h2M311 169h2M349 169h2M307 171h2M405 171h2M365 173h2M403 173h2M417 173h2M305 175h2M345 175h2M401 175h2M413 175h2M301 177h4M359 177h2M399 177h2M287 179h2M355 179h2M397 179h2M403 179h2M299 181h2M343 181h2M397 181h4M293 183h2M343 183h8M283 185h2M289 185h2M297 185h2M345 185h2M285 189h2M285 191h2M291 191h2"/><path stroke="#b7b7b7" d="M273 29h2M297 29h2M339 29h2M379 29h2M397 29h2M417 29h2M273 31h2M295 31h2M359 31h2M381 31h2M399 31h2M419 31h2M273 33h2M317 33h2M341 33h2M383 33h2M401 33h2M421 33h2M273 35h2M343 35h2M403 35h2M273 37h2M319 37h2M405 37h2M273 39h2M299 39h2M365 39h2M407 39h2M321 41h2M347 41h2M409 41h2M395 45h2M301 47h2M303 49h2M419 49h2M355 51h2M327 53h2M357 53h2M425 53h2M359 55h2M385 59h2M309 61h2M393 65h2M337 67h2M377 69h2M399 69h2M275 71h2M317 71h2M275 73h2M275 75h2M387 75h2M275 77h2M391 77h2M275 79h2M395 79h2M275 81h2M351 81h2M399 81h2M275 83h2M331 85h2M333 87h2M359 87h2M413 87h2M365 91h2M341 93h2M271 99h2M271 101h2M271 103h2M355 103h2M385 103h2M271 105h2M391 107h2M397 113h2M363 121h2M397 121h2M383 135h2M347 137h2M375 141h2M373 143h2M337 145h2M421 145h2M407 151h2M327 153h2M281 157h2M323 157h2M281 159h2M423 159h2M319 161h2M419 161h2M279 163h2M317 163h2M383 163h2M279 165h2M379 165h2M413 165h2M279 167h2M349 167h2M277 169h2M407 169h2M277 171h2M309 171h2M347 171h2M369 171h2M277 173h2M345 173h2M277 175h2M363 175h2M343 177h2M397 177h2M409 177h2M343 179h2M357 179h2M405 179h2M287 181h2M353 181h2M395 181h2M401 181h2M295 183h2M351 183h2M393 183h6M293 185h2M343 185h2M347 185h2M283 187h2M289 187h2M343 187h2M283 189h2M285 193h2M291 193h2"/><path stroke="#b9b9b9" d="M295 29h2M357 29h2M341 31h2M317 35h2M361 35h2M385 35h2M299 37h2M345 37h2M363 37h2M387 37h2M319 39h2M389 39h2M273 41h2M391 41h2M273 43h2M349 43h2M393 43h2M411 43h2M273 45h2M301 45h2M351 45h2M413 45h2M273 47h2M303 47h2M323 47h2M371 47h2M273 49h2M373 49h2M273 51h2M305 51h2M325 51h2M375 51h2M403 51h2M421 51h2M273 53h2M377 53h2M273 55h2M409 55h2M273 57h2M307 57h2M329 57h2M309 59h2M415 59h2M311 61h2M367 61h2M387 61h2M419 61h2M333 63h2M369 63h2M335 65h2M375 67h2M315 69h2M381 71h2M319 73h2M409 75h2M323 77h2M413 77h2M325 79h2M417 79h2M329 83h2M353 83h2M275 85h2M409 85h2M275 87h2M275 89h2M419 89h2M275 91h2M339 91h2M275 93h2M371 95h2M347 97h2M353 101h2M381 101h2M271 107h2M271 109h2M393 109h2M271 111h2M395 111h2M271 113h2M365 113h2M365 115h2M365 117h2M397 119h2M395 123h2M359 127h2M357 129h2M387 131h2M385 133h2M345 139h2M377 139h2M335 147h2M417 147h2M365 149h2M363 151h2M361 153h2M403 153h2M359 155h2M399 155h2M357 157h2M395 157h2M321 159h2M355 159h2M391 159h2M281 161h2M353 161h2M387 161h2M281 163h2M415 163h2M281 165h2M315 165h2M313 167h2M409 167h2M279 169h2M347 169h2M373 169h2M279 171h2M423 171h2M279 173h2M307 173h2M367 173h2M401 173h2M419 173h2M343 175h2M399 175h2M415 175h2M277 177h2M305 177h2M361 177h2M411 177h2M277 179h2M301 179h4M395 179h2M407 179h2M277 181h2M341 181h2M355 181h2M393 181h2M403 181h2M277 183h2M287 183h2M299 183h2M341 183h2M391 183h2M399 183h2M287 185h2M295 185h2M339 185h4M349 185h2M391 185h6M293 187h2M297 187h2M339 187h4M345 187h2M289 189h2M339 189h2M343 189h2M283 191h2M289 191h2M283 193h2M285 195h2M291 195h2M285 197h2"/><path stroke="#bbbbbb" d="M257 29h2M265 29h2M315 29h2M381 29h2M257 31h2M265 31h2M257 33h2M299 33h2M343 33h2M359 33h2M399 33h2M257 35h2M299 35h2M401 35h2M425 35h2M317 37h2M347 39h2M319 41h2M365 41h2M301 43h2M321 43h2M367 43h2M303 45h2M369 45h2M353 47h2M399 47h2M415 47h2M305 49h2M323 49h2M355 49h2M401 49h2M357 51h2M325 53h2M327 55h2M379 55h2M363 57h2M381 57h2M273 59h2M365 59h2M273 61h2M331 61h2M273 63h2M389 63h2M423 63h2M273 65h2M313 65h2M273 67h2M395 67h2M273 69h2M317 69h2M337 69h2M273 71h2M339 71h2M401 71h2M273 73h2M341 73h2M385 73h2M405 73h2M321 75h2M343 75h2M345 77h2M327 81h2M421 81h2M355 85h2M337 89h2M361 89h2M425 91h2M367 93h2M275 95h2M345 95h2M275 97h2M275 99h2M351 99h2M377 99h2M275 101h2M359 105h2M387 105h2M361 107h2M363 109h2M271 115h2M397 115h2M271 117h2M397 117h2M271 119h2M365 119h2M271 121h2M271 123h2M363 123h2M271 125h2M361 125h2M393 125h2M271 127h2M391 127h2M271 129h2M389 129h2M355 131h2M353 133h2M379 137h2M343 141h2M369 145h2M367 147h2M333 149h2M331 151h2M425 157h2M351 163h2M349 165h2M281 167h2M377 167h2M281 169h2M311 171h2M345 171h2M371 171h2M403 171h2M279 175h2M365 175h2M279 177h2M279 179h2M341 179h2M359 179h2M393 179h2M339 181h2M391 181h2M339 183h2M353 183h2M277 185h2M299 185h2M351 185h2M389 185h2M277 187h2M287 187h2M337 187h2M347 187h2M387 187h8M277 189h2M293 189h2M297 189h2M337 189h2M341 189h2M345 189h2M387 189h2M277 191h2M337 191h6M289 193h2M283 195h2M283 197h2M291 197h2M285 199h2M285 201h2"/><path stroke="#bdbdbd" d="M269 29h2M341 29h2M395 29h2M419 29h2M269 31h2M299 31h2M315 31h2M343 31h2M357 31h2M383 31h2M397 31h2M421 31h2M265 33h2M269 33h2M385 33h2M423 33h2M265 35h2M269 35h2M345 35h2M257 37h2M265 37h2M361 37h2M403 37h2M257 39h2M265 39h2M317 39h2M363 39h2M405 39h2M257 41h2M265 41h2M301 41h2M349 41h2M407 41h2M257 43h2M265 43h2M303 43h2M319 43h2M351 43h2M395 43h2M257 45h2M265 45h2M321 45h2M397 45h2M257 47h2M305 47h2M257 49h2M417 49h2M257 51h2M359 53h2M407 53h2M423 53h2M307 55h2M361 55h2M309 57h2M413 57h2M311 59h2M329 59h2M383 59h2M333 65h2M373 65h2M391 65h2M315 67h2M335 67h2M379 69h2M397 69h2M319 71h2M273 75h2M389 75h2M273 77h2M393 77h2M273 79h2M347 79h2M397 79h2M273 81h2M349 81h2M401 81h2M273 83h2M405 83h2M425 83h2M335 87h2M357 87h2M415 87h2M363 91h2M343 93h2M373 97h2M275 103h2M357 103h2M383 103h2M275 105h2M275 107h2M389 107h2M275 109h2M365 111h2M365 121h2M395 121h2M271 131h2M271 133h2M271 135h2M351 135h2M381 135h2M271 137h2M271 139h2M271 141h2M341 143h2M371 143h2M339 145h2M423 145h2M413 149h2M329 153h2M327 155h2M325 157h2M323 159h2M421 159h2M319 163h2M385 163h2M317 165h2M381 165h2M411 165h2M347 167h2M313 169h2M405 169h2M281 171h2M281 173h2M309 173h2M343 173h2M399 173h2M307 175h2M397 175h2M341 177h2M395 177h2M305 179h2M339 179h2M409 179h2M279 181h2M301 181h4M357 181h2M405 181h2M279 183h2M337 183h2M389 183h2M401 183h2M337 185h2M387 185h2M397 185h2M295 187h2M349 187h2M385 187h2M287 189h2M385 189h2M389 189h4M293 191h2M297 191h2M343 191h2M383 191h6M277 193h2M337 193h4M277 195h2M289 195h2M337 195h2M277 197h2M283 199h2M291 199h2M283 201h2M285 203h2"/><path stroke="#bfbfbf" d="M299 29h2M313 29h2M355 29h2M315 33h2M345 33h2M359 35h2M387 35h2M269 37h2M347 37h2M389 37h2M269 39h2M301 39h4M391 39h2M269 41h2M303 41h2M317 41h2M393 41h2M269 43h2M365 43h2M409 43h2M269 45h2M305 45h2M353 45h2M367 45h2M411 45h2M265 47h2M269 47h2M321 47h2M369 47h2M265 49h2M269 49h2M371 49h2M265 51h2M323 51h2M373 51h2M405 51h2M419 51h2M257 53h2M265 53h2M307 53h2M375 53h2M257 55h2M265 55h2M309 55h2M325 55h2M377 55h2M411 55h2M425 55h2M257 57h2M265 57h2M311 57h2M327 57h2M257 59h2M265 59h2M417 59h2M257 61h2M369 61h2M385 61h2M421 61h2M257 63h2M313 63h2M331 63h2M371 63h2M257 65h2M257 67h2M317 67h2M377 67h2M393 67h2M383 71h2M321 73h2M323 75h2M407 75h2M325 77h2M411 77h2M329 81h2M331 83h2M351 83h2M273 85h2M333 85h2M273 87h2M273 89h2M421 89h2M273 91h2M369 95h2M349 97h2M355 101h2M379 101h2M391 109h2M275 111h2M393 111h2M275 113h2M367 113h2M395 113h2M275 115h2M367 115h2M275 117h2M367 117h2M275 119h2M395 119h2M393 123h2M385 131h2M383 133h2M349 137h2M373 141h2M271 143h2M271 145h2M271 147h2M337 147h2M271 149h2M363 149h2M271 151h2M361 151h2M409 151h2M271 153h2M359 153h2M405 153h2M357 155h2M355 157h2M353 159h2M393 159h2M321 161h2M351 161h2M389 161h2M417 161h2M413 163h2M315 167h2M407 167h2M345 169h2M375 169h2M401 171h2M425 171h2M311 173h2M369 173h2M421 173h2M281 175h2M341 175h2M417 175h2M281 177h2M363 177h2M413 177h2M305 181h2M337 181h2M389 181h2M301 183h4M355 183h2M387 183h2M279 185h2M353 185h2M385 185h2M399 185h2M279 187h2M299 187h2M335 187h2M395 187h2M279 189h2M295 189h2M335 189h2M347 189h2M383 189h2M425 189h2M287 191h2M335 191h2M345 191h2M381 191h2M389 191h2M423 191h4M287 193h2M293 193h2M333 193h4M341 193h4M379 193h8M423 193h2M333 195h4M339 195h2M379 195h4M289 197h2M333 197h6M277 199h2M277 201h2M291 201h2M277 203h2M283 203h2M291 203h2M277 205h2M283 205h4M285 207h2"/><path stroke="#c1c1c1" d="M263 29h2M311 29h2M343 29h2M383 29h2M393 29h2M263 31h2M311 31h4M345 31h2M355 31h2M385 31h2M395 31h2M423 31h2M263 33h2M313 33h2M357 33h2M397 33h2M425 33h2M263 35h2M315 35h2M347 35h2M399 35h2M263 37h2M301 37h4M401 37h2M263 39h2M349 39h2M361 39h2M403 39h2M263 41h2M305 41h2M351 41h2M363 41h2M305 43h2M317 43h2M319 45h2M355 47h2M401 47h2M413 47h2M357 49h2M403 49h2M269 51h2M307 51h2M359 51h2M269 53h2M323 53h2M361 53h2M409 53h2M269 55h2M311 55h2M363 55h2M269 57h2M365 57h2M379 57h2M415 57h2M269 59h2M367 59h2M265 61h2M269 61h2M313 61h2M329 61h2M265 63h2M269 63h2M387 63h2M425 63h2M265 65h2M315 65h2M331 65h2M375 65h2M265 67h2M257 69h2M265 69h2M319 69h2M335 69h2M257 71h2M265 71h2M337 71h2M399 71h2M257 73h2M265 73h2M339 73h2M387 73h2M403 73h2M257 75h2M265 75h2M341 75h2M257 77h2M343 77h2M257 79h2M327 79h2M345 79h2M415 79h2M419 81h2M353 85h2M411 85h2M339 89h2M359 89h2M341 91h2M273 93h2M365 93h2M273 95h2M347 95h2M273 97h2M273 99h2M375 99h2M273 101h2M361 105h2M385 105h2M363 107h2M365 109h2M395 115h2M395 117h2M367 119h2M275 121h2M275 123h2M365 123h2M275 125h2M363 125h2M391 125h2M275 127h2M361 127h2M389 127h2M275 129h2M359 129h2M387 129h2M275 131h2M357 131h2M377 137h2M347 139h2M375 139h2M345 141h2M367 145h2M365 147h2M419 147h2M335 149h2M333 151h2M331 153h2M271 155h2M401 155h2M271 157h2M397 157h2M271 159h2M271 161h2M271 163h2M349 163h2M271 165h2M347 165h2M271 167h2M317 167h2M379 167h2M271 169h2M403 169h2M271 171h2M343 171h2M373 171h2M309 175h2M367 175h2M395 175h2M307 177h2M339 177h2M393 177h2M281 179h2M361 179h2M391 179h2M281 181h2M359 181h2M407 181h2M403 183h2M335 185h2M351 187h2M383 187h2M397 187h2M299 189h2M333 189h2M349 189h2M381 189h2M393 189h2M279 191h2M295 191h2M333 191h2M379 191h2M279 193h2M297 193h2M331 193h2M387 193h2M419 193h4M425 193h2M279 195h2M287 195h2M293 195h2M331 195h2M341 195h2M377 195h2M383 195h2M419 195h4M331 197h2M339 197h2M377 197h4M289 199h2M331 199h8M377 199h2M331 201h4M331 203h2M291 205h2M277 207h2M283 207h2M277 209h2M283 209h4M277 211h2M285 211h2M277 213h2M277 215h2"/><path stroke="#c3c3c3" d="M345 29h2M353 29h2M421 29h2M303 31h2M301 33h4M311 33h2M387 33h2M301 35h4M311 35h4M357 35h2M389 35h2M305 37h2M315 37h2M349 37h2M359 37h2M391 37h2M305 39h2M315 39h2M351 39h2M393 39h2M395 41h2M405 41h2M263 43h2M353 43h2M397 43h2M407 43h2M263 45h2M317 45h2M355 45h2M365 45h2M399 45h2M263 47h2M319 47h2M367 47h2M263 49h2M307 49h2M321 49h2M369 49h2M415 49h2M263 51h2M371 51h2M407 51h2M263 53h2M309 53h4M421 53h2M263 55h2M323 55h2M263 57h2M325 57h2M327 59h2M381 59h2M419 59h2M383 61h2M315 63h2M329 63h2M373 63h2M269 65h2M317 65h2M389 65h2M269 67h2M333 67h2M269 69h2M381 69h2M395 69h2M269 71h2M269 73h2M323 73h2M269 75h2M325 75h2M391 75h2M265 77h2M269 77h2M395 77h2M265 79h2M399 79h2M257 81h2M265 81h2M331 81h2M347 81h2M403 81h2M257 83h2M265 83h2M407 83h2M423 83h2M257 85h2M257 87h2M337 87h2M355 87h2M417 87h2M257 89h2M361 91h2M345 93h2M371 97h2M353 99h2M273 103h2M359 103h2M381 103h2M273 105h2M273 107h2M387 107h2M273 109h2M367 111h2M393 113h2M393 121h2M275 133h2M355 133h2M275 135h2M353 135h2M379 135h2M275 137h2M275 139h2M343 143h2M369 143h2M415 149h2M329 155h2M423 157h2M325 159h2M419 159h2M323 161h2M387 163h2M319 165h2M383 165h2M409 165h2M345 167h2M315 169h2M343 169h2M377 169h2M313 171h2M271 173h2M341 173h2M371 173h2M397 173h2M271 175h2M311 175h2M339 175h2M419 175h2M271 177h2M365 177h2M415 177h2M271 179h2M337 179h2M411 179h2M271 181h2M271 183h2M281 183h2M305 183h2M335 183h2M357 183h2M385 183h2M271 185h2M281 185h2M301 185h4M355 185h2M383 185h2M401 185h2M271 187h2M281 187h2M333 187h2M425 187h2M271 189h2M331 189h2M423 189h2M299 191h2M331 191h2M347 191h2M391 191h2M421 191h2M295 193h2M345 193h2M377 193h2M297 195h2M343 195h2M375 195h2M385 195h2M417 195h2M423 195h2M279 197h2M287 197h2M293 197h2M329 197h2M341 197h2M375 197h2M381 197h2M415 197h6M279 199h2M329 199h2M339 199h2M373 199h4M379 199h2M413 199h4M279 201h2M289 201h2M329 201h2M335 201h4M373 201h4M289 203h2M329 203h2M333 203h2M371 203h2M329 205h4M291 207h2M283 211h2M283 213h4M285 215h2M277 217h2"/><path stroke="#c5c5c5" d="M301 29h6M309 29h2M351 29h2M385 29h2M391 29h2M423 29h2M301 31h2M305 31h2M347 31h2M353 31h2M387 31h2M393 31h2M425 31h2M305 33h2M347 33h2M355 33h2M389 33h2M395 33h2M305 35h2M349 35h2M391 35h2M397 35h2M311 37h4M351 37h2M357 37h2M399 37h2M311 39h2M359 39h2M401 39h2M315 41h2M353 41h2M361 41h2M403 41h2M363 43h2M409 45h2M307 47h2M317 47h2M357 47h2M403 47h2M411 47h2M309 49h4M319 49h2M359 49h2M405 49h2M309 51h4M321 51h2M361 51h2M417 51h2M363 53h2M373 53h2M411 53h2M365 55h2M375 55h2M413 55h2M423 55h2M367 57h2M377 57h2M263 59h2M313 59h2M325 59h2M369 59h2M263 61h2M327 61h2M371 61h2M423 61h2M263 63h2M317 63h2M385 63h2M263 65h2M263 67h2M319 67h2M331 67h2M379 67h2M391 67h2M263 69h2M333 69h2M263 71h2M321 71h2M335 71h2M385 71h2M337 73h2M401 73h2M339 75h2M405 75h2M327 77h2M409 77h2M269 79h2M329 79h2M413 79h2M269 81h2M269 83h2M333 83h2M349 83h2M265 85h2M269 85h2M335 85h2M351 85h2M413 85h2M265 87h2M265 89h2M357 89h2M423 89h2M257 91h2M265 91h2M343 91h2M257 93h2M265 93h2M363 93h2M257 95h2M367 95h2M257 97h2M351 97h2M357 101h2M377 101h2M383 105h2M365 107h2M389 109h2M273 111h2M391 111h2M273 113h2M369 113h2M273 115h2M369 115h2M393 115h2M273 117h2M369 117h2M273 119h2M393 119h2M367 121h2M391 123h2M363 127h2M383 131h2M381 133h2M351 137h2M349 139h2M373 139h2M275 141h2M371 141h2M275 143h2M275 145h2M341 145h2M425 145h2M275 147h2M339 147h2M359 151h2M411 151h2M357 153h2M407 153h2M355 155h2M327 157h2M353 157h2M351 159h2M395 159h2M349 161h2M391 161h2M415 161h2M321 163h2M411 163h2M405 167h2M341 171h2M399 171h2M423 173h2M309 177h2M337 177h2M391 177h2M307 179h2M363 179h2M389 179h2M335 181h2M387 181h2M405 183h2M333 185h2M301 187h4M331 187h2M353 187h2M381 187h2M281 189h2M351 189h2M379 189h2M395 189h2M271 191h2M281 191h2M349 191h2M377 191h2M419 191h2M271 193h2M329 193h2M375 193h2M389 193h2M417 193h2M271 195h2M295 195h2M329 195h2M345 195h2M415 195h2M425 195h2M271 197h2M297 197h2M373 197h2M383 197h2M413 197h2M421 197h2M271 199h2M287 199h2M293 199h2M371 199h2M381 199h2M411 199h2M417 199h2M271 201h2M287 201h2M327 201h2M371 201h2M377 201h2M409 201h6M271 203h2M279 203h2M325 203h4M335 203h2M369 203h2M373 203h4M407 203h6M271 205h2M279 205h2M289 205h2M325 205h4M333 205h2M369 205h6M407 205h2M271 207h2M279 207h2M325 207h8M369 207h2M271 209h2M279 209h2M291 209h2M325 209h2M329 209h2M291 211h2M325 211h2M283 215h2M283 217h4"/><path stroke="#c7c7c7" d="M347 29h4M387 29h4M425 29h2M309 31h2M349 31h4M389 31h4M309 33h2M349 33h6M391 33h4M309 35h2M351 35h6M393 35h4M353 37h4M393 37h6M313 39h2M353 39h2M357 39h2M395 39h6M311 41h4M355 41h2M359 41h2M397 41h2M401 41h2M307 43h2M311 43h2M315 43h2M355 43h4M361 43h2M399 43h2M405 43h2M307 45h6M357 45h2M363 45h2M401 45h2M407 45h2M309 47h4M359 47h2M365 47h2M409 47h2M317 49h2M361 49h2M367 49h2M407 49h2M413 49h2M317 51h4M369 51h2M409 51h2M415 51h2M319 53h4M371 53h2M419 53h2M313 55h2M373 55h2M415 55h2M313 57h2M323 57h2M417 57h2M425 57h2M379 59h2M421 59h2M315 61h4M325 61h2M373 61h2M381 61h2M375 63h2M319 65h2M329 65h2M377 65h2M387 65h2M321 69h2M383 69h2M393 69h2M323 71h2M397 71h2M263 73h2M325 73h2M389 73h2M263 75h2M393 75h2M263 77h2M341 77h2M397 77h2M263 79h2M331 79h2M343 79h2M401 79h2M263 81h2M345 81h2M405 81h2M417 81h2M263 83h2M409 83h2M337 85h2M269 87h2M339 87h2M353 87h2M269 89h2M341 89h2M269 91h2M359 91h2M269 93h2M265 95h2M349 95h2M265 97h2M369 97h2M257 99h2M265 99h2M355 99h2M373 99h2M257 101h2M265 101h2M257 103h2M379 103h2M257 105h2M363 105h2M367 109h2M369 111h2M393 117h2M369 119h2M273 121h2M391 121h2M273 123h2M367 123h2M273 125h2M365 125h2M389 125h2M273 127h2M387 127h2M273 129h2M361 129h2M385 129h2M273 131h2M359 131h2M357 133h2M375 137h2M347 141h2M365 145h2M363 147h2M421 147h2M275 149h2M337 149h2M361 149h2M275 151h2M275 153h2M275 155h2M331 155h2M403 155h2M399 157h2M347 163h2M345 165h2M385 165h2M407 165h2M319 167h2M343 167h2M381 167h2M317 169h2M401 169h2M315 171h2M375 171h2M313 173h2M339 173h2M337 175h2M369 175h2M393 175h2M311 177h2M335 179h2M413 179h2M361 181h2M409 181h2M333 183h2M359 183h2M305 185h2M331 185h2M357 185h2M399 187h2M423 187h2M421 189h2M329 191h2M393 191h2M281 193h2M299 193h2M347 193h2M281 195h2M373 195h2M387 195h2M413 195h2M295 197h2M327 197h2M343 197h2M371 197h2M385 197h2M411 197h2M423 197h2M297 199h2M325 199h4M341 199h2M409 199h2M419 199h2M293 201h2M325 201h2M339 201h2M369 201h2M379 201h2M407 201h2M415 201h2M287 203h2M337 203h2M367 203h2M377 203h2M405 203h2M413 203h2M335 205h2M367 205h2M403 205h4M409 205h2M289 207h2M323 207h2M333 207h2M365 207h4M371 207h2M403 207h6M323 209h2M327 209h2M331 209h2M365 209h6M401 209h4M271 211h2M279 211h2M323 211h2M327 211h6M363 211h4M271 213h2M279 213h2M291 213h2M323 213h4M271 215h2M279 215h2M323 215h4M271 217h2"/><path stroke="#c9c9c9" d="M307 29h2M307 31h2M307 33h2M307 35h2M307 37h4M307 39h4M355 39h2M307 41h4M357 41h2M399 41h2M309 43h2M313 43h2M359 43h2M401 43h4M313 45h4M359 45h4M403 45h4M313 47h4M361 47h4M405 47h4M313 49h2M363 49h4M409 49h4M313 51h2M363 51h6M411 51h4M313 53h2M317 53h2M365 53h6M413 53h6M317 55h6M367 55h6M417 55h6M315 57h6M369 57h4M375 57h2M419 57h2M423 57h2M315 59h4M323 59h2M371 59h2M377 59h2M423 59h2M319 61h2M323 61h2M379 61h2M425 61h2M319 63h2M325 63h4M377 63h2M383 63h2M379 65h2M385 65h2M321 67h2M329 67h2M381 67h2M389 67h2M323 69h2M331 69h2M385 69h2M325 71h2M333 71h2M387 71h2M395 71h2M335 73h2M391 73h2M399 73h2M327 75h2M337 75h2M403 75h2M329 77h2M339 77h2M407 77h2M411 79h2M333 81h2M335 83h2M347 83h2M421 83h2M263 85h2M349 85h2M415 85h2M263 87h2M419 87h2M263 89h2M355 89h2M425 89h2M263 91h2M345 91h2M347 93h2M269 95h2M365 95h2M269 97h2M353 97h2M269 99h2M269 101h2M359 101h2M375 101h2M265 103h2M361 103h2M265 105h2M257 107h2M265 107h2M385 107h2M257 109h2M265 109h2M387 109h2M257 111h2M389 111h2M257 113h2M371 113h2M391 113h2M257 115h2M371 115h2M371 117h2M391 119h2M369 121h2M389 123h2M273 133h2M379 133h2M273 135h2M355 135h2M377 135h2M273 137h2M353 137h2M273 139h2M273 141h2M369 141h2M345 143h2M367 143h2M343 145h2M417 149h2M335 151h2M333 153h2M425 155h2M275 157h2M329 157h2M351 157h2M421 157h2M275 159h2M327 159h2M417 159h2M275 161h2M325 161h2M413 161h2M275 163h2M323 163h2M389 163h2M275 165h2M321 165h2M341 169h2M379 169h2M373 173h2M395 173h2M425 173h2M421 175h2M367 177h2M417 177h2M309 179h4M365 179h2M387 179h2M307 181h2M333 181h2M385 181h2M383 183h2M407 183h2M381 185h2M403 185h2M425 185h2M305 187h2M355 187h2M379 187h2M301 189h4M329 189h2M353 189h2M377 189h2M397 189h2M351 191h2M375 191h2M417 191h2M327 193h2M373 193h2M391 193h2M415 193h2M299 195h2M327 195h2M371 195h2M389 195h2M281 197h2M325 197h2M345 197h2M281 199h2M295 199h2M343 199h2M369 199h2M383 199h2M281 201h2M297 201h2M367 201h2M381 201h2M417 201h2M293 203h2M323 203h2M339 203h2M365 203h2M287 205h2M323 205h2M337 205h2M365 205h2M375 205h2M411 205h2M287 207h2M335 207h2M363 207h2M373 207h2M401 207h2M289 209h2M333 209h2M363 209h2M371 209h2M399 209h2M405 209h2M289 211h2M361 211h2M367 211h4M397 211h8M327 213h6M361 213h6M397 213h4M291 215h2M327 215h2M359 215h6M395 215h2M279 217h2M291 217h2M323 217h4M359 217h4"/><path stroke="#cbcbcb" d="M315 49h2M315 51h2M315 53h2M315 55h2M321 57h2M373 57h2M421 57h2M319 59h4M373 59h4M425 59h2M321 61h2M375 61h4M321 63h4M379 63h4M321 65h8M381 65h4M323 67h6M383 67h6M325 69h2M329 69h2M387 69h6M331 71h2M389 71h6M327 73h2M331 73h4M393 73h2M397 73h2M329 75h4M335 75h2M395 75h2M401 75h2M331 77h2M337 77h2M399 77h2M405 77h2M333 79h2M339 79h4M403 79h2M409 79h2M335 81h2M343 81h2M407 81h2M415 81h2M337 83h2M345 83h2M411 83h2M419 83h2M339 85h2M425 85h2M341 87h2M351 87h2M421 87h2M343 89h2M357 91h2M263 93h2M349 93h2M361 93h2M263 95h2M351 95h2M263 97h2M367 97h2M263 99h2M357 99h2M371 99h2M269 103h2M269 105h2M365 105h2M381 105h2M269 107h2M367 107h2M269 109h2M369 109h2M265 111h2M371 111h2M265 113h2M265 115h2M391 115h2M257 117h2M265 117h2M391 117h2M257 119h2M265 119h2M371 119h2M257 121h2M265 121h2M257 123h2M265 123h2M257 125h2M367 125h2M387 125h2M257 127h2M365 127h2M385 127h2M257 129h2M363 129h2M383 129h2M257 131h2M361 131h2M381 131h2M257 133h2M257 135h2M257 137h2M351 139h2M371 139h2M273 143h2M273 145h2M273 147h2M341 147h2M273 149h2M339 149h2M359 149h2M273 151h2M357 151h2M413 151h2M355 153h2M409 153h2M353 155h2M405 155h2M401 157h2M349 159h2M397 159h2M347 161h2M393 161h2M345 163h2M409 163h2M343 165h2M275 167h2M383 167h2M403 167h2M275 169h2M319 169h2M275 171h2M317 171h2M339 171h2M377 171h2M397 171h2M275 173h2M315 173h2M337 173h2M275 175h2M313 175h2M371 175h2M391 175h2M335 177h2M389 177h2M333 179h2M309 181h2M363 181h2M411 181h2M307 183h2M331 183h2M361 183h2M329 187h2M401 187h2M305 189h2M419 189h2M301 191h4M327 191h2M395 191h2M325 193h2M349 193h2M325 195h2M347 195h2M411 195h2M299 197h2M369 197h2M387 197h2M409 197h2M425 197h2M323 199h2M367 199h2M385 199h2M407 199h2M421 199h2M295 201h2M323 201h2M341 201h2M405 201h2M281 203h2M297 203h2M379 203h2M403 203h2M415 203h2M281 205h2M293 205h2M297 205h2M363 205h2M377 205h2M401 205h2M413 205h2M321 207h2M337 207h2M375 207h2M399 207h2M409 207h2M287 209h2M321 209h2M335 209h2M361 209h2M373 209h2M397 209h2M407 209h2M319 211h4M333 211h2M359 211h2M371 211h2M395 211h2M289 213h2M319 213h4M359 213h2M367 213h2M393 213h4M401 213h2M289 215h2M319 215h4M329 215h4M357 215h2M365 215h2M393 215h2M397 215h4M425 215h2M317 217h6M327 217h2M357 217h2M363 217h2M391 217h6M423 217h4"/><path stroke="#cdcdcd" d="M327 69h2M327 71h4M329 73h2M395 73h2M333 75h2M397 75h4M333 77h4M401 77h4M335 79h4M405 79h4M337 81h6M409 81h6M339 83h2M343 83h2M413 83h2M417 83h2M345 85h4M417 85h2M423 85h2M343 87h2M349 87h2M345 89h2M353 89h2M347 91h2M359 93h2M353 95h2M363 95h2M355 97h2M263 101h2M361 101h2M373 101h2M263 103h2M363 103h2M377 103h2M263 105h2M263 107h2M383 107h2M263 109h2M385 109h2M269 111h2M387 111h2M269 113h2M389 113h2M269 115h2M373 115h2M269 117h2M269 119h2M389 119h2M269 121h2M371 121h2M389 121h2M269 123h2M369 123h2M265 125h2M265 127h2M265 129h2M265 131h2M265 133h2M359 133h2M265 135h2M357 135h2M375 135h2M265 137h2M373 137h2M257 139h2M265 139h2M257 141h2M265 141h2M349 141h2M257 143h2M265 143h2M347 143h2M365 143h2M257 145h2M363 145h2M257 147h2M361 147h2M423 147h2M257 149h2M257 151h2M337 151h2M257 153h2M273 153h2M335 153h2M257 155h2M273 155h2M333 155h2M423 155h2M257 157h2M273 157h2M331 157h2M419 157h2M257 159h2M273 159h2M257 161h2M273 161h2M257 163h2M273 163h2M325 163h2M257 165h2M323 165h2M387 165h2M405 165h2M257 167h2M341 167h2M257 169h2M339 169h2M399 169h2M257 171h2M257 173h2M317 173h2M393 173h2M257 175h2M335 175h2M257 177h2M275 177h2M313 177h2M369 177h2M419 177h2M257 179h2M275 179h2M415 179h2M257 181h2M275 181h2M311 181h2M331 181h2M383 181h2M257 183h2M275 183h2M381 183h2M257 185h2M275 185h2M329 185h2M359 185h2M379 185h2M405 185h2M257 187h2M357 187h2M377 187h2M421 187h2M257 189h2M327 189h2M355 189h2M375 189h2M399 189h2M257 191h2M305 191h2M325 191h2M353 191h2M373 191h2M415 191h2M257 193h2M301 193h4M351 193h2M371 193h2M393 193h2M413 193h2M257 195h2M349 195h2M369 195h2M391 195h2M257 197h2M323 197h2M347 197h2M257 199h2M299 199h2M345 199h2M423 199h2M257 201h2M343 201h2M365 201h2M383 201h2M403 201h2M419 201h2M295 203h2M321 203h2M341 203h2M363 203h2M381 203h2M401 203h2M417 203h2M321 205h2M339 205h2M399 205h2M281 207h2M293 207h2M297 207h2M319 207h2M361 207h2M397 207h2M411 207h2M281 209h2M293 209h2M319 209h2M337 209h2M359 209h2M281 211h2M287 211h2M317 211h2M405 211h2M287 213h2M317 213h2M333 213h2M357 213h2M369 213h2M403 213h2M425 213h2M317 215h2M367 215h2M391 215h2M401 215h2M423 215h2M289 217h2M329 217h4M355 217h2M365 217h2M389 217h2M397 217h2M421 217h2"/><path stroke="#cfcfcf" d="M259 29h2M267 29h2M259 31h2M267 31h2M259 33h2M267 33h2M259 35h2M267 35h2M259 37h2M259 39h2M259 41h2M341 83h2M415 83h2M341 85h4M419 85h4M345 87h4M423 87h4M347 89h6M349 91h8M351 93h2M357 93h2M361 95h2M357 97h2M365 97h2M359 99h2M369 99h2M371 101h2M365 103h2M375 103h2M367 105h2M379 105h2M369 107h2M381 107h2M371 109h2M263 111h2M373 111h2M263 113h2M373 113h2M263 115h2M389 115h2M263 117h2M373 117h2M389 117h2M263 119h2M373 119h2M263 121h2M371 123h2M387 123h2M269 125h2M369 125h2M385 125h2M269 127h2M367 127h2M383 127h2M269 129h2M365 129h2M381 129h2M269 131h2M363 131h2M379 131h2M269 133h2M377 133h2M269 135h2M269 137h2M355 137h2M353 139h2M369 139h2M367 141h2M265 145h2M345 145h2M265 147h2M343 147h2M265 149h2M357 149h2M419 149h2M265 151h2M355 151h2M415 151h2M265 153h2M353 153h2M265 155h2M351 155h2M265 157h2M349 157h2M265 159h2M329 159h2M347 159h2M415 159h2M265 161h2M327 161h2M345 161h2M395 161h2M411 161h2M265 163h2M343 163h2M391 163h2M265 165h2M273 165h2M265 167h2M273 167h2M321 167h2M385 167h2M401 167h2M265 169h2M273 169h2M381 169h2M265 171h2M273 171h2M319 171h2M337 171h2M395 171h2M265 173h2M273 173h2M375 173h2M265 175h2M273 175h2M315 175h2M373 175h2M423 175h2M265 177h2M273 177h2M333 177h2M387 177h2M265 179h2M331 179h2M367 179h2M385 179h2M365 181h2M413 181h2M309 183h4M329 183h2M363 183h2M409 183h2M307 185h2M423 185h2M275 187h2M327 187h2M403 187h2M275 189h2M325 189h2M417 189h2M275 191h2M397 191h2M275 193h2M305 193h2M275 195h2M301 195h4M323 195h2M409 195h2M367 197h2M389 197h2M407 197h2M365 199h2M387 199h2M405 199h2M299 201h2M321 201h2M363 201h2M421 201h2M257 203h2M299 203h2M319 203h2M257 205h2M295 205h2M319 205h2M361 205h2M379 205h2M415 205h2M257 207h2M317 207h2M339 207h2M359 207h2M377 207h2M257 209h2M297 209h2M317 209h2M375 209h2M395 209h2M409 209h2M257 211h2M293 211h2M297 211h2M335 211h2M357 211h2M373 211h2M393 211h2M407 211h2M425 211h2M257 213h2M281 213h2M355 213h2M371 213h2M391 213h2M423 213h2M257 215h2M281 215h2M287 215h2M333 215h2M355 215h2M369 215h2M389 215h2M421 215h2M257 217h2M287 217h2M353 217h2M367 217h2M387 217h2M399 217h2M419 217h2"/><path stroke="#d1d1d1" d="M267 37h2M267 39h2M267 41h2M259 43h2M267 43h2M259 45h2M267 45h2M259 47h2M267 47h2M259 49h2M267 49h2M259 51h2M259 53h2M259 55h2M353 93h4M355 95h6M359 97h6M361 99h8M363 101h4M369 101h2M367 103h2M373 103h2M369 105h2M377 105h2M371 107h2M379 107h2M373 109h2M383 109h2M385 111h2M375 113h2M387 113h2M375 115h2M387 115h2M375 117h2M387 117h2M387 119h2M373 121h2M387 121h2M263 123h2M385 123h2M263 125h2M263 127h2M263 129h2M263 131h2M263 133h2M361 133h2M375 133h2M263 135h2M359 135h2M373 135h2M263 137h2M357 137h2M371 137h2M263 139h2M269 139h2M263 141h2M269 141h2M351 141h2M263 143h2M269 143h2M349 143h2M363 143h2M269 145h2M361 145h2M269 147h2M359 147h2M425 147h2M269 149h2M341 149h2M269 151h2M339 151h2M337 153h2M411 153h2M407 155h2M403 157h2M331 159h2M399 159h2M407 163h2M325 165h2M341 165h2M389 165h2M403 165h2M323 167h2M339 167h2M321 169h2M337 169h2M397 169h2M379 171h2M335 173h2M391 173h2M317 175h2M333 175h2M389 175h2M331 177h2M371 177h2M273 179h2M313 179h2M417 179h2M265 181h2M273 181h2M329 181h2M381 181h2M265 183h2M273 183h2M379 183h2M425 183h2M265 185h2M273 185h2M309 185h4M327 185h2M361 185h2M377 185h2M407 185h2M265 187h2M273 187h2M307 187h2M325 187h2M359 187h2M375 187h2M419 187h2M265 189h2M273 189h2M357 189h2M373 189h2M401 189h2M265 191h2M273 191h2M323 191h2M355 191h2M371 191h2M413 191h2M265 193h2M323 193h2M353 193h2M369 193h2M395 193h2M411 193h2M265 195h2M305 195h2M351 195h2M367 195h2M393 195h2M265 197h2M275 197h2M301 197h4M321 197h2M349 197h2M365 197h2M265 199h2M275 199h2M321 199h2M347 199h2M403 199h2M425 199h2M265 201h2M275 201h2M319 201h2M345 201h2M385 201h2M401 201h2M265 203h2M275 203h2M317 203h2M343 203h2M361 203h2M383 203h2M399 203h2M419 203h2M265 205h2M275 205h2M299 205h2M317 205h2M341 205h2M359 205h2M381 205h2M397 205h2M265 207h2M295 207h2M379 207h2M395 207h2M413 207h2M265 209h2M295 209h2M339 209h2M357 209h2M393 209h2M411 209h2M265 211h2M337 211h2M355 211h2M391 211h2M265 213h2M293 213h2M297 213h2M335 213h2M389 213h2M405 213h2M265 215h2M293 215h2M297 215h2M315 215h2M353 215h2M403 215h2M265 217h2M281 217h2M315 217h2M333 217h2M351 217h2M401 217h2"/><path stroke="#d3d3d3" d="M267 51h2M267 53h2M267 55h2M259 57h2M267 57h2M259 59h2M267 59h2M259 61h2M267 61h2M259 63h2M267 63h2M259 65h2M259 67h2M259 69h2M259 71h2M367 101h2M369 103h4M371 105h6M373 107h6M375 109h8M375 111h4M383 111h2M377 113h2M385 113h2M377 115h2M385 115h2M377 117h2M385 117h2M375 119h2M385 119h2M375 121h2M385 121h2M373 123h2M383 123h2M371 125h2M383 125h2M369 127h2M381 127h2M367 129h2M379 129h2M365 131h2M377 131h2M363 133h2M371 135h2M369 137h2M355 139h2M367 139h2M353 141h2M365 141h2M263 145h2M347 145h2M263 147h2M345 147h2M357 147h2M263 149h2M343 149h2M355 149h2M421 149h2M263 151h2M353 151h2M417 151h2M263 153h2M269 153h2M351 153h2M425 153h2M263 155h2M269 155h2M335 155h2M349 155h2M421 155h2M263 157h2M269 157h2M333 157h2M347 157h2M417 157h2M263 159h2M269 159h2M345 159h2M413 159h2M263 161h2M269 161h2M329 161h2M343 161h2M397 161h2M409 161h2M263 163h2M269 163h2M327 163h2M341 163h2M393 163h2M405 163h2M263 165h2M269 165h2M339 165h2M263 167h2M269 167h2M325 167h2M337 167h2M387 167h2M399 167h2M263 169h2M269 169h2M323 169h2M383 169h2M263 171h2M269 171h2M335 171h2M393 171h2M263 173h2M269 173h2M319 173h2M333 173h2M377 173h2M263 175h2M269 175h2M331 175h2M375 175h2M425 175h2M263 177h2M269 177h2M315 177h4M385 177h2M421 177h2M263 179h2M329 179h2M369 179h2M383 179h2M263 181h2M313 181h2M367 181h2M415 181h2M263 183h2M327 183h2M365 183h2M411 183h2M263 185h2M325 185h2M421 185h2M263 187h2M309 187h4M405 187h2M263 189h2M307 189h2M323 189h2M415 189h2M263 191h2M399 191h2M263 193h2M273 193h2M397 193h2M263 195h2M273 195h2M321 195h2M407 195h2M263 197h2M273 197h2M305 197h2M319 197h2M391 197h2M405 197h2M273 199h2M301 199h4M319 199h2M363 199h2M389 199h2M273 201h2M303 201h2M317 201h2M361 201h2M423 201h2M273 203h2M345 203h2M359 203h2M273 205h2M343 205h2M417 205h2M275 207h2M299 207h2M341 207h2M357 207h2M275 209h2M299 209h2M315 209h2M355 209h2M377 209h2M425 209h2M275 211h2M295 211h2M315 211h2M339 211h2M375 211h2M409 211h2M423 211h2M275 213h2M315 213h2M337 213h2M353 213h2M373 213h2M407 213h2M421 213h2M275 215h2M311 215h4M335 215h2M351 215h2M371 215h2M387 215h2M405 215h2M419 215h2M275 217h2M293 217h2M297 217h2M311 217h4M369 217h2M385 217h2M417 217h2"/><path stroke="#d5d5d5" d="M267 65h2M267 67h2M267 69h2M267 71h2M259 73h2M267 73h2M259 75h2M267 75h2M259 77h2M267 77h2M259 79h2M259 81h2M259 83h2M379 111h4M379 113h6M379 115h6M379 117h6M377 119h8M377 121h8M375 123h4M381 123h2M373 125h2M379 125h4M371 127h2M379 127h2M369 129h2M377 129h2M367 131h2M375 131h2M365 133h2M373 133h2M361 135h2M359 137h2M367 137h2M357 139h2M365 139h2M363 141h2M351 143h2M361 143h2M349 145h2M359 145h2M423 149h2M341 151h2M351 151h2M339 153h2M413 153h2M423 153h2M337 155h2M409 155h2M419 155h2M335 157h2M345 157h2M405 157h2M415 157h2M333 159h2M343 159h2M401 159h2M411 159h2M331 161h2M329 163h2M327 165h2M391 165h2M401 165h2M325 169h2M335 169h2M385 169h2M395 169h2M321 171h4M333 171h2M381 171h2M331 173h2M379 173h2M389 173h2M319 175h2M387 175h2M329 177h2M373 177h2M423 177h2M269 179h2M315 179h4M371 179h2M381 179h2M419 179h2M269 181h2M327 181h2M379 181h2M269 183h2M313 183h2M325 183h2M377 183h2M413 183h2M423 183h2M269 185h2M363 185h2M375 185h2M409 185h2M419 185h2M269 187h2M323 187h2M361 187h2M373 187h2M417 187h2M269 189h2M309 189h4M359 189h2M371 189h2M403 189h2M269 191h2M307 191h2M311 191h2M357 191h2M369 191h2M401 191h2M411 191h2M269 193h2M319 193h4M355 193h2M367 193h2M409 193h2M269 195h2M319 195h2M353 195h2M365 195h2M395 195h2M269 197h2M317 197h2M351 197h2M363 197h2M393 197h2M403 197h2M263 199h2M269 199h2M305 199h2M317 199h2M349 199h2M361 199h2M401 199h2M263 201h2M269 201h2M301 201h2M305 201h2M347 201h2M387 201h2M399 201h2M263 203h2M269 203h2M303 203h2M385 203h2M397 203h2M421 203h2M263 205h2M269 205h2M303 205h2M345 205h2M357 205h2M383 205h2M395 205h2M263 207h2M273 207h2M315 207h2M343 207h2M355 207h2M381 207h2M393 207h2M415 207h2M263 209h2M273 209h2M311 209h2M341 209h2M379 209h2M391 209h2M413 209h2M263 211h2M273 211h2M299 211h2M311 211h4M353 211h2M377 211h2M389 211h2M411 211h2M263 213h2M273 213h2M295 213h2M299 213h2M311 213h4M339 213h2M351 213h2M375 213h2M387 213h2M419 213h2M263 215h2M273 215h2M295 215h2M337 215h2M373 215h2M385 215h2M417 215h2M263 217h2M273 217h2M335 217h2M349 217h2M371 217h2M383 217h2M403 217h2M415 217h2"/><path stroke="#d7d7d7" d="M267 79h2M267 81h2M267 83h2M259 85h2M267 85h2M259 87h2M259 89h2M259 91h2M379 123h2M375 125h4M373 127h6M371 129h6M369 131h6M367 133h6M363 135h8M361 137h6M359 139h6M355 141h8M353 143h2M357 143h4M351 145h2M357 145h2M347 147h10M345 149h2M351 149h4M425 149h2M343 151h4M419 151h2M425 151h2M341 153h2M349 153h2M415 153h2M421 153h2M339 155h2M345 155h4M411 155h2M417 155h2M337 157h2M343 157h2M407 157h2M413 157h2M335 159h2M403 159h2M409 159h2M333 161h2M339 161h4M399 161h2M407 161h2M331 163h2M337 163h4M395 163h2M403 163h2M329 165h4M337 165h2M393 165h2M399 165h2M327 167h2M335 167h2M389 167h2M397 167h2M331 169h4M387 169h2M393 169h2M325 171h2M331 171h2M383 171h2M391 171h2M321 173h4M381 173h2M387 173h2M329 175h2M377 175h2M385 175h2M319 177h2M375 177h2M383 177h2M425 177h2M319 179h2M325 179h4M373 179h2M379 179h2M421 179h2M315 181h4M325 181h2M369 181h2M377 181h2M417 181h2M425 181h2M317 183h2M323 183h2M367 183h2M375 183h2M421 183h2M313 185h2M317 185h2M323 185h2M365 185h2M373 185h2M411 185h2M363 187h2M371 187h2M407 187h2M415 187h2M319 189h4M361 189h2M369 189h2M405 189h2M413 189h2M309 191h2M317 191h6M359 191h2M367 191h2M409 191h2M307 193h6M317 193h2M357 193h2M365 193h2M399 193h2M407 193h2M307 195h2M311 195h2M317 195h2M355 195h2M363 195h2M397 195h2M405 195h2M311 197h2M353 197h2M361 197h2M311 199h2M351 199h2M359 199h2M391 199h2M399 199h2M311 201h2M315 201h2M349 201h2M359 201h2M389 201h2M397 201h2M425 201h2M301 203h2M305 203h2M311 203h2M315 203h2M347 203h2M357 203h2M387 203h2M395 203h2M423 203h2M301 205h2M305 205h2M311 205h6M355 205h2M385 205h2M393 205h2M419 205h2M269 207h2M303 207h4M311 207h4M345 207h2M353 207h2M383 207h2M391 207h2M417 207h2M425 207h2M269 209h2M303 209h4M313 209h2M343 209h2M353 209h2M381 209h2M389 209h2M415 209h2M423 209h2M269 211h2M303 211h4M341 211h2M351 211h2M379 211h2M387 211h2M421 211h2M269 213h2M305 213h2M349 213h2M377 213h2M385 213h2M409 213h2M269 215h2M299 215h2M305 215h2M309 215h2M339 215h2M349 215h2M375 215h2M383 215h2M407 215h2M415 215h2M269 217h2M295 217h2M299 217h2M305 217h2M309 217h2M337 217h2M347 217h2M373 217h2M381 217h2M405 217h2M413 217h2"/><path stroke="#d9d9d9" d="M267 87h2M267 89h2M267 91h2M259 93h2M267 93h2M259 95h2M259 97h2M259 99h2M259 101h2M355 143h2M353 145h4M347 149h4M347 151h4M421 151h4M343 153h6M417 153h4M341 155h4M413 155h4M339 157h4M409 157h4M337 159h6M405 159h4M335 161h4M401 161h6M333 163h4M397 163h6M333 165h4M395 165h4M329 167h6M391 167h6M327 169h4M389 169h4M327 171h4M385 171h6M325 173h6M383 173h4M321 175h8M379 175h6M321 177h8M377 177h6M323 179h2M375 179h4M423 179h4M319 181h2M323 181h2M371 181h6M419 181h6M315 183h2M319 183h2M369 183h6M415 183h6M315 185h2M319 185h4M367 185h6M413 185h6M313 187h2M317 187h6M365 187h6M409 187h6M313 189h2M317 189h2M363 189h6M407 189h6M313 191h2M361 191h6M403 191h6M359 193h6M401 193h6M309 195h2M357 195h6M399 195h6M307 197h4M313 197h4M355 197h6M395 197h8M309 199h2M313 199h4M353 199h6M393 199h6M313 201h2M351 201h8M391 201h6M313 203h2M349 203h8M389 203h6M425 203h2M347 205h8M387 205h6M421 205h6M301 207h2M309 207h2M347 207h6M385 207h6M419 207h6M301 209h2M309 209h2M345 209h8M383 209h6M417 209h6M309 211h2M343 211h8M381 211h6M413 211h8M303 213h2M309 213h2M341 213h8M379 213h6M411 213h8M303 215h2M341 215h8M377 215h6M409 215h6M303 217h2M339 217h2M343 217h4M375 217h6M407 217h6"/><path stroke="#dbdbdb" d="M267 95h2M267 97h2M267 99h2M267 101h2M259 103h2M259 105h2M259 107h2M259 109h2M321 179h2M321 181h2M321 183h2M315 187h2M315 189h2M315 191h2M313 193h4M313 195h4M307 199h2M307 201h4M307 203h4M307 205h4M307 207h2M307 209h2M301 211h2M307 211h2M301 213h2M307 213h2M301 215h2M307 215h2M307 217h2M341 217h2"/><path stroke="#dddddd" d="M267 103h2M267 105h2M267 107h2M267 109h2M259 111h2M259 113h2M259 115h2M259 117h2M259 119h2M259 121h2M259 123h2M301 217h2"/><path stroke="#dfdfdf" d="M267 111h2M267 113h2M267 115h2M267 117h2M267 119h2M267 121h2M267 123h2M259 125h2M267 125h2M259 127h2M259 129h2M259 131h2M259 133h2M259 135h2M259 137h2M259 139h2M259 141h2M259 143h2M259 145h2"/><path stroke="#e1e1e1" d="M261 29h2M261 31h2M261 33h2M261 35h2M261 37h2M261 39h2M261 41h2M261 43h2M267 127h2M267 129h2M267 131h2M267 133h2M267 135h2M267 137h2M267 139h2M267 141h2M259 147h2M259 149h2M259 151h2M259 153h2M259 155h2M259 157h2M259 159h2M259 161h2M259 163h2M259 165h2M259 167h2M259 169h2M259 171h2M259 173h2M259 175h2M259 177h2M259 179h2M259 181h2M259 183h2M259 185h2M259 187h2M259 189h2M259 191h2M259 193h2M259 195h2M259 197h2M259 199h2M259 201h2M259 203h2M259 205h2M259 207h2M259 209h2M259 211h2M259 213h2M259 215h2M259 217h2"/><path stroke="#e3e3e3" d="M261 45h2M261 47h2M261 49h2M261 51h2M261 53h2M261 55h2M261 57h2M261 59h2M267 143h2M267 145h2M267 147h2M267 149h2M267 151h2M267 153h2M267 155h2M267 157h2M267 159h2M267 161h2M267 163h2M267 165h2"/><path stroke="#e5e5e5" d="M261 61h2M261 63h2M261 65h2M261 67h2M261 69h2M261 71h2M261 73h2M261 75h2M267 167h2M267 169h2M267 171h2M267 173h2M267 175h2M267 177h2M267 179h2M267 181h2M267 183h2M267 185h2M267 187h2M267 189h2M267 191h2M267 193h2M267 195h2M267 197h2M267 199h2M267 201h2M267 203h2M267 205h2"/><path stroke="#e7e7e7" d="M261 77h2M261 79h2M261 81h2M261 83h2M261 85h2M267 207h2M267 209h2M267 211h2M267 213h2M267 215h2M267 217h2"/><path stroke="#e9e9e9" d="M261 87h2M261 89h2M261 91h2M261 93h2"/><path stroke="#ebebeb" d="M261 95h2M261 97h2M261 99h2M261 101h2"/><path stroke="#ededed" d="M261 103h2M261 105h2M261 107h2M261 109h2M261 111h2"/><path stroke="#efefef" d="M261 113h2M261 115h2M261 117h2M261 119h2M261 121h2M261 123h2M261 125h2"/><path stroke="#f1f1f1" d="M261 127h2M261 129h2M261 131h2M261 133h2M261 135h2M261 137h2M261 139h2M261 141h2M261 143h2M261 145h2M261 147h2M261 149h2"/><path stroke="#f3f3f3" d="M261 151h2M261 153h2M261 155h2M261 157h2M261 159h2M261 161h2M261 163h2M261 165h2M261 167h2M261 169h2M261 171h2M261 173h2M261 175h2M261 177h2M261 179h2M261 181h2M261 183h2M261 185h2M261 187h2M261 189h2M261 191h2M261 193h2M261 195h2M261 197h2M261 199h2M261 201h2M261 203h2M261 205h2M261 207h2M261 209h2M261 211h2M261 213h2M261 215h2M261 217h2"/></g></g>
<path d="M66.9 123.3H232.9" stroke="#1f77b4" stroke-width="3.2"/>
<path d="M259.6 123.6H425" stroke="#ff7f0e" stroke-width="3.2"/>
<path d="M67.60 215.60v7.90" stroke="#000" stroke-width="1.80"/>
<text x="67.60" y="245.00" font-size="17.60" text-anchor="middle" >0</text>
<path d="M260.20 215.60v7.90" stroke="#000" stroke-width="1.80"/>
<text x="260.20" y="245.00" font-size="17.60" text-anchor="middle" >0</text>
<path d="M132.40 215.60v7.90" stroke="#000" stroke-width="1.80"/>
<text x="132.40" y="245.00" font-size="17.60" text-anchor="middle" >300</text>
<path d="M325.00 215.60v7.90" stroke="#000" stroke-width="1.80"/>
<text x="325.00" y="245.00" font-size="17.60" text-anchor="middle" >300</text>
<path d="M197.20 215.60v7.90" stroke="#000" stroke-width="1.80"/>
<text x="197.20" y="245.00" font-size="17.60" text-anchor="middle" >600</text>
<path d="M389.80 215.60v7.90" stroke="#000" stroke-width="1.80"/>
<text x="389.80" y="245.00" font-size="17.60" text-anchor="middle" >600</text>
<path d="M66.95 207.79h-7.90" stroke="#000" stroke-width="1.80"/>
<text x="57.20" y="214.49" font-size="17.60" text-anchor="end" >530</text>
<path d="M259.60 207.79h-7.90" stroke="#000" stroke-width="1.80"/>
<path d="M66.95 133.95h-7.90" stroke="#000" stroke-width="1.80"/>
<text x="57.20" y="140.65" font-size="17.60" text-anchor="end" >534</text>
<path d="M259.60 133.95h-7.90" stroke="#000" stroke-width="1.80"/>
<path d="M66.95 60.11h-7.90" stroke="#000" stroke-width="1.80"/>
<text x="57.20" y="66.81" font-size="17.60" text-anchor="end" >538</text>
<path d="M259.60 60.11h-7.90" stroke="#000" stroke-width="1.80"/>
<rect x="66.95" y="30.00" width="165.95" height="185.60" fill="none" stroke="#000" stroke-width="1.80"/>
<rect x="259.60" y="30.00" width="165.40" height="185.60" fill="none" stroke="#000" stroke-width="1.80"/>
<text x="149.70" y="16.30" font-size="22.00" text-anchor="middle" >Qubit 1</text>
<text x="342.50" y="16.30" font-size="22.00" text-anchor="middle" >Qubit 2</text>
<text x="51.50" y="22.20" font-size="22.60" text-anchor="start" >(a)</text>
<text x="244.20" y="22.20" font-size="22.60" text-anchor="start" >(b)</text>
<text x="15.60" y="281.70" font-size="22.60" text-anchor="start" >(c)</text>
<text x="150.00" y="267.20" font-size="22.00" text-anchor="middle" >Duration [ns]</text>
<text x="342.50" y="267.20" font-size="22.00" text-anchor="middle" >Duration [ns]</text>
<text transform="translate(17.0,123.5) rotate(-90)" font-size="22.00" text-anchor="middle">Frequency [MHz]</text>
<defs><linearGradient id="cb" x1="0" y1="1" x2="0" y2="0">
<stop offset="0.0000" stop-color="#440154"/>
<stop offset="0.0312" stop-color="#470d60"/>
<stop offset="0.0625" stop-color="#48186a"/>
<stop offset="0.0938" stop-color="#482374"/>
<stop offset="0.1250" stop-color="#472d7b"/>
<stop offset="0.1562" stop-color="#453781"/>
<stop offset="0.1875" stop-color="#424086"/>
<stop offset="0.2188" stop-color="#3e4989"/>
<stop offset="0.2500" stop-color="#3b528b"/>
<stop offset="0.2812" stop-color="#375b8d"/>
<stop offset="0.3125" stop-color="#33638d"/>
<stop offset="0.3438" stop-color="#2f6b8e"/>
<stop offset="0.3750" stop-color="#2c728e"/>
<stop offset="0.4062" stop-color="#297a8e"/>
<stop offset="0.4375" stop-color="#26828e"/>
<stop offset="0.4688" stop-color="#23898e"/>
<stop offset="0.5000" stop-color="#21918c"/>
<stop offset="0.5312" stop-color="#1f988b"/>
<stop offset="0.5625" stop-color="#1fa088"/>
<stop offset="0.5938" stop-color="#22a785"/>
<stop offset="0.6250" stop-color="#28ae80"/>
<stop offset="0.6562" stop-color="#32b67a"/>
<stop offset="0.6875" stop-color="#3fbc73"/>
<stop offset="0.7188" stop-color="#4ec36b"/>
<stop offset="0.7500" stop-color="#5ec962"/>
<stop offset="0.7812" stop-color="#70cf57"/>
<stop offset="0.8125" stop-color="#84d44b"/>
<stop offset="0.8438" stop-color="#98d83e"/>
<stop offset="0.8750" stop-color="#addc30"/>
<stop offset="0.9062" stop-color="#c2df23"/>
<stop offset="0.9375" stop-color="#d8e219"/>
<stop offset="0.9688" stop-color="#ece51b"/>
<stop offset="1.0000" stop-color="#fde725"/>
</linearGradient></defs>
<rect x="447.90" y="30.00" width="11.40" height="185.60" fill="url(#cb)"/>
<path d="M459.30 40.00h7.90" stroke="#000" stroke-width="1.80"/>
<text x="469.60" y="46.80" font-size="17.60" text-anchor="start" >1.0</text>
<path d="M459.30 118.00h7.90" stroke="#000" stroke-width="1.80"/>
<text x="469.60" y="124.80" font-size="17.60" text-anchor="start" >0.5</text>
<path d="M459.30 196.00h7.90" stroke="#000" stroke-width="1.80"/>
<text x="469.60" y="202.80" font-size="17.60" text-anchor="start" >0.0</text>
<rect x="447.90" y="30.00" width="11.40" height="185.60" fill="none" stroke="#000" stroke-width="1.80"/>
<text transform="translate(514.90,124.00) rotate(-90)" font-size="22.00" text-anchor="middle"><tspan font-style="italic">P</tspan><tspan dy="4.2" font-size="15.40">e</tspan></text>
<g fill="#bababa"><circle cx="66.2" cy="345.4" r="3.9"/><circle cx="66.2" cy="300.0" r="3.9"/><circle cx="68.9" cy="358.7" r="3.9"/><circle cx="68.9" cy="298.2" r="3.9"/><circle cx="71.7" cy="349.9" r="3.9"/><circle cx="71.7" cy="301.1" r="3.9"/><circle cx="74.4" cy="352.6" r="3.9"/><circle cx="74.4" cy="300.4" r="3.9"/><circle cx="77.2" cy="352.0" r="3.9"/><circle cx="77.2" cy="301.7" r="3.9"/><circle cx="79.9" cy="350.9" r="3.9"/><circle cx="79.9" cy="300.6" r="3.9"/><circle cx="82.6" cy="355.7" r="3.9"/><circle cx="82.6" cy="297.2" r="3.9"/><circle cx="85.4" cy="350.0" r="3.9"/><circle cx="85.4" cy="301.7" r="3.9"/><circle cx="88.1" cy="351.3" r="3.9"/><circle cx="88.1" cy="301.5" r="3.9"/><circle cx="90.8" cy="338.4" r="3.9"/><circle cx="90.8" cy="299.1" r="3.9"/><circle cx="93.6" cy="346.7" r="3.9"/><circle cx="93.6" cy="300.4" r="3.9"/><circle cx="96.3" cy="347.6" r="3.9"/><circle cx="96.3" cy="297.9" r="3.9"/><circle cx="99.1" cy="346.5" r="3.9"/><circle cx="99.1" cy="310.7" r="3.9"/><circle cx="101.8" cy="346.7" r="3.9"/><circle cx="101.8" cy="302.3" r="3.9"/><circle cx="104.5" cy="346.8" r="3.9"/><circle cx="104.5" cy="307.6" r="3.9"/><circle cx="107.3" cy="343.9" r="3.9"/><circle cx="107.3" cy="306.6" r="3.9"/><circle cx="110.0" cy="340.2" r="3.9"/><circle cx="110.0" cy="305.5" r="3.9"/><circle cx="112.7" cy="341.2" r="3.9"/><circle cx="112.7" cy="305.9" r="3.9"/><circle cx="115.5" cy="336.5" r="3.9"/><circle cx="115.5" cy="307.2" r="3.9"/><circle cx="118.2" cy="338.6" r="3.9"/><circle cx="118.2" cy="311.3" r="3.9"/><circle cx="121.0" cy="336.7" r="3.9"/><circle cx="121.0" cy="308.0" r="3.9"/><circle cx="123.7" cy="330.9" r="3.9"/><circle cx="123.7" cy="315.3" r="3.9"/><circle cx="126.4" cy="332.5" r="3.9"/><circle cx="126.4" cy="316.2" r="3.9"/><circle cx="129.2" cy="334.1" r="3.9"/><circle cx="129.2" cy="314.6" r="3.9"/><circle cx="131.9" cy="331.8" r="3.9"/><circle cx="131.9" cy="320.3" r="3.9"/><circle cx="134.7" cy="328.3" r="3.9"/><circle cx="134.7" cy="313.1" r="3.9"/><circle cx="137.4" cy="322.8" r="3.9"/><circle cx="137.4" cy="318.2" r="3.9"/><circle cx="140.1" cy="327.7" r="3.9"/><circle cx="140.1" cy="316.0" r="3.9"/><circle cx="142.9" cy="326.2" r="3.9"/><circle cx="142.9" cy="324.4" r="3.9"/><circle cx="145.6" cy="321.1" r="3.9"/><circle cx="145.6" cy="327.0" r="3.9"/><circle cx="148.3" cy="325.1" r="3.9"/><circle cx="148.3" cy="326.7" r="3.9"/><circle cx="151.1" cy="322.0" r="3.9"/><circle cx="151.1" cy="326.4" r="3.9"/><circle cx="153.8" cy="317.1" r="3.9"/><circle cx="153.8" cy="332.0" r="3.9"/><circle cx="156.6" cy="316.6" r="3.9"/><circle cx="156.6" cy="330.3" r="3.9"/><circle cx="159.3" cy="316.6" r="3.9"/><circle cx="159.3" cy="333.0" r="3.9"/><circle cx="162.0" cy="313.5" r="3.9"/><circle cx="162.0" cy="329.2" r="3.9"/><circle cx="164.8" cy="322.3" r="3.9"/><circle cx="164.8" cy="337.8" r="3.9"/><circle cx="167.5" cy="309.8" r="3.9"/><circle cx="167.5" cy="333.7" r="3.9"/><circle cx="170.2" cy="314.3" r="3.9"/><circle cx="170.2" cy="340.3" r="3.9"/><circle cx="173.0" cy="315.1" r="3.9"/><circle cx="173.0" cy="342.5" r="3.9"/><circle cx="175.7" cy="308.3" r="3.9"/><circle cx="175.7" cy="342.9" r="3.9"/><circle cx="178.5" cy="305.9" r="3.9"/><circle cx="178.5" cy="345.6" r="3.9"/><circle cx="181.2" cy="308.2" r="3.9"/><circle cx="181.2" cy="342.5" r="3.9"/><circle cx="183.9" cy="308.9" r="3.9"/><circle cx="183.9" cy="340.7" r="3.9"/><circle cx="186.7" cy="304.8" r="3.9"/><circle cx="186.7" cy="344.4" r="3.9"/><circle cx="189.4" cy="304.1" r="3.9"/><circle cx="189.4" cy="343.9" r="3.9"/><circle cx="192.1" cy="299.0" r="3.9"/><circle cx="192.1" cy="341.6" r="3.9"/><circle cx="194.9" cy="300.1" r="3.9"/><circle cx="194.9" cy="346.7" r="3.9"/><circle cx="197.6" cy="301.0" r="3.9"/><circle cx="197.6" cy="347.6" r="3.9"/><circle cx="200.4" cy="297.7" r="3.9"/><circle cx="200.4" cy="349.8" r="3.9"/><circle cx="203.1" cy="300.9" r="3.9"/><circle cx="203.1" cy="354.5" r="3.9"/><circle cx="205.8" cy="302.5" r="3.9"/><circle cx="205.8" cy="347.5" r="3.9"/><circle cx="208.6" cy="297.7" r="3.9"/><circle cx="208.6" cy="355.9" r="3.9"/><circle cx="211.3" cy="297.4" r="3.9"/><circle cx="211.3" cy="348.7" r="3.9"/><circle cx="214.1" cy="299.4" r="3.9"/><circle cx="214.1" cy="351.0" r="3.9"/><circle cx="216.8" cy="300.9" r="3.9"/><circle cx="216.8" cy="347.6" r="3.9"/><circle cx="219.5" cy="297.9" r="3.9"/><circle cx="219.5" cy="351.5" r="3.9"/><circle cx="222.3" cy="305.7" r="3.9"/><circle cx="222.3" cy="353.9" r="3.9"/><circle cx="225.0" cy="296.6" r="3.9"/><circle cx="225.0" cy="350.1" r="3.9"/><circle cx="227.7" cy="297.3" r="3.9"/><circle cx="227.7" cy="352.9" r="3.9"/><circle cx="230.5" cy="303.7" r="3.9"/><circle cx="230.5" cy="351.5" r="3.9"/><circle cx="233.2" cy="299.0" r="3.9"/><circle cx="233.2" cy="350.5" r="3.9"/><circle cx="236.0" cy="302.4" r="3.9"/><circle cx="236.0" cy="350.6" r="3.9"/><circle cx="238.7" cy="297.8" r="3.9"/><circle cx="238.7" cy="350.4" r="3.9"/><circle cx="241.4" cy="306.5" r="3.9"/><circle cx="241.4" cy="351.9" r="3.9"/><circle cx="244.2" cy="303.8" r="3.9"/><circle cx="244.2" cy="349.2" r="3.9"/><circle cx="246.9" cy="299.8" r="3.9"/><circle cx="246.9" cy="354.7" r="3.9"/><circle cx="249.6" cy="299.2" r="3.9"/><circle cx="249.6" cy="347.7" r="3.9"/><circle cx="252.4" cy="309.7" r="3.9"/><circle cx="252.4" cy="350.2" r="3.9"/><circle cx="255.1" cy="305.7" r="3.9"/><circle cx="255.1" cy="342.0" r="3.9"/><circle cx="257.9" cy="304.3" r="3.9"/><circle cx="257.9" cy="340.5" r="3.9"/><circle cx="260.6" cy="308.0" r="3.9"/><circle cx="260.6" cy="349.7" r="3.9"/><circle cx="263.3" cy="302.7" r="3.9"/><circle cx="263.3" cy="342.0" r="3.9"/><circle cx="266.1" cy="311.9" r="3.9"/><circle cx="266.1" cy="341.8" r="3.9"/><circle cx="268.8" cy="308.5" r="3.9"/><circle cx="268.8" cy="343.5" r="3.9"/><circle cx="271.6" cy="313.8" r="3.9"/><circle cx="271.6" cy="337.3" r="3.9"/><circle cx="274.3" cy="308.0" r="3.9"/><circle cx="274.3" cy="339.2" r="3.9"/><circle cx="277.0" cy="313.4" r="3.9"/><circle cx="277.0" cy="342.1" r="3.9"/><circle cx="279.8" cy="315.7" r="3.9"/><circle cx="279.8" cy="336.0" r="3.9"/><circle cx="282.5" cy="321.0" r="3.9"/><circle cx="282.5" cy="334.2" r="3.9"/><circle cx="285.2" cy="312.5" r="3.9"/><circle cx="285.2" cy="332.1" r="3.9"/><circle cx="288.0" cy="316.6" r="3.9"/><circle cx="288.0" cy="334.9" r="3.9"/><circle cx="290.7" cy="318.1" r="3.9"/><circle cx="290.7" cy="327.6" r="3.9"/><circle cx="293.5" cy="318.4" r="3.9"/><circle cx="293.5" cy="325.8" r="3.9"/><circle cx="296.2" cy="322.1" r="3.9"/><circle cx="296.2" cy="330.3" r="3.9"/><circle cx="298.9" cy="326.5" r="3.9"/><circle cx="298.9" cy="327.3" r="3.9"/><circle cx="301.7" cy="328.4" r="3.9"/><circle cx="301.7" cy="324.0" r="3.9"/><circle cx="304.4" cy="329.8" r="3.9"/><circle cx="304.4" cy="324.1" r="3.9"/><circle cx="307.1" cy="325.0" r="3.9"/><circle cx="307.1" cy="315.3" r="3.9"/><circle cx="309.9" cy="334.6" r="3.9"/><circle cx="309.9" cy="318.7" r="3.9"/><circle cx="312.6" cy="333.6" r="3.9"/><circle cx="312.6" cy="321.2" r="3.9"/><circle cx="315.4" cy="334.2" r="3.9"/><circle cx="315.4" cy="319.1" r="3.9"/><circle cx="318.1" cy="333.9" r="3.9"/><circle cx="318.1" cy="315.4" r="3.9"/><circle cx="320.8" cy="334.3" r="3.9"/><circle cx="320.8" cy="306.6" r="3.9"/><circle cx="323.6" cy="340.9" r="3.9"/><circle cx="323.6" cy="313.1" r="3.9"/><circle cx="326.3" cy="343.5" r="3.9"/><circle cx="326.3" cy="310.9" r="3.9"/><circle cx="329.0" cy="339.8" r="3.9"/><circle cx="329.0" cy="308.4" r="3.9"/><circle cx="331.8" cy="337.4" r="3.9"/><circle cx="331.8" cy="309.0" r="3.9"/><circle cx="334.5" cy="339.9" r="3.9"/><circle cx="334.5" cy="300.5" r="3.9"/><circle cx="337.3" cy="342.5" r="3.9"/><circle cx="337.3" cy="308.3" r="3.9"/><circle cx="340.0" cy="345.1" r="3.9"/><circle cx="340.0" cy="303.3" r="3.9"/><circle cx="342.7" cy="344.3" r="3.9"/><circle cx="342.7" cy="304.1" r="3.9"/><circle cx="345.5" cy="346.8" r="3.9"/><circle cx="345.5" cy="301.8" r="3.9"/><circle cx="348.2" cy="344.5" r="3.9"/><circle cx="348.2" cy="306.6" r="3.9"/><circle cx="351.0" cy="350.0" r="3.9"/><circle cx="351.0" cy="296.5" r="3.9"/><circle cx="353.7" cy="348.0" r="3.9"/><circle cx="353.7" cy="301.8" r="3.9"/><circle cx="356.4" cy="349.3" r="3.9"/><circle cx="356.4" cy="300.7" r="3.9"/><circle cx="359.2" cy="348.0" r="3.9"/><circle cx="359.2" cy="303.2" r="3.9"/><circle cx="361.9" cy="349.4" r="3.9"/><circle cx="361.9" cy="302.1" r="3.9"/><circle cx="364.6" cy="343.0" r="3.9"/><circle cx="364.6" cy="297.6" r="3.9"/><circle cx="367.4" cy="346.4" r="3.9"/><circle cx="367.4" cy="295.9" r="3.9"/><circle cx="370.1" cy="346.7" r="3.9"/><circle cx="370.1" cy="296.4" r="3.9"/><circle cx="372.9" cy="357.1" r="3.9"/><circle cx="372.9" cy="294.8" r="3.9"/><circle cx="375.6" cy="352.3" r="3.9"/><circle cx="375.6" cy="296.3" r="3.9"/><circle cx="378.3" cy="353.1" r="3.9"/><circle cx="378.3" cy="298.4" r="3.9"/><circle cx="381.1" cy="349.7" r="3.9"/><circle cx="381.1" cy="295.9" r="3.9"/><circle cx="383.8" cy="357.7" r="3.9"/><circle cx="383.8" cy="296.9" r="3.9"/><circle cx="386.5" cy="347.4" r="3.9"/><circle cx="386.5" cy="299.3" r="3.9"/><circle cx="389.3" cy="347.4" r="3.9"/><circle cx="389.3" cy="297.0" r="3.9"/><circle cx="392.0" cy="353.9" r="3.9"/><circle cx="392.0" cy="295.6" r="3.9"/><circle cx="394.8" cy="352.5" r="3.9"/><circle cx="394.8" cy="299.4" r="3.9"/><circle cx="397.5" cy="351.4" r="3.9"/><circle cx="397.5" cy="301.8" r="3.9"/><circle cx="400.2" cy="348.4" r="3.9"/><circle cx="400.2" cy="299.0" r="3.9"/><circle cx="403.0" cy="346.0" r="3.9"/><circle cx="403.0" cy="296.0" r="3.9"/><circle cx="405.7" cy="341.1" r="3.9"/><circle cx="405.7" cy="303.4" r="3.9"/><circle cx="408.4" cy="346.8" r="3.9"/><circle cx="408.4" cy="303.9" r="3.9"/><circle cx="411.2" cy="343.1" r="3.9"/><circle cx="411.2" cy="304.9" r="3.9"/><circle cx="413.9" cy="343.9" r="3.9"/><circle cx="413.9" cy="301.6" r="3.9"/><circle cx="416.7" cy="338.2" r="3.9"/><circle cx="416.7" cy="312.3" r="3.9"/><circle cx="419.4" cy="340.1" r="3.9"/><circle cx="419.4" cy="306.4" r="3.9"/><circle cx="422.1" cy="337.2" r="3.9"/><circle cx="422.1" cy="304.9" r="3.9"/><circle cx="424.9" cy="343.1" r="3.9"/><circle cx="424.9" cy="312.4" r="3.9"/><circle cx="427.6" cy="339.3" r="3.9"/><circle cx="427.6" cy="306.3" r="3.9"/><circle cx="430.4" cy="339.9" r="3.9"/><circle cx="430.4" cy="310.6" r="3.9"/><circle cx="433.1" cy="331.8" r="3.9"/><circle cx="433.1" cy="315.3" r="3.9"/><circle cx="435.8" cy="333.0" r="3.9"/><circle cx="435.8" cy="314.3" r="3.9"/><circle cx="438.6" cy="334.4" r="3.9"/><circle cx="438.6" cy="321.2" r="3.9"/><circle cx="441.3" cy="333.4" r="3.9"/><circle cx="441.3" cy="319.5" r="3.9"/><circle cx="444.0" cy="329.3" r="3.9"/><circle cx="444.0" cy="313.3" r="3.9"/><circle cx="446.8" cy="331.3" r="3.9"/><circle cx="446.8" cy="323.4" r="3.9"/><circle cx="449.5" cy="330.5" r="3.9"/><circle cx="449.5" cy="316.1" r="3.9"/><circle cx="452.3" cy="325.0" r="3.9"/><circle cx="452.3" cy="323.7" r="3.9"/><circle cx="455.0" cy="317.7" r="3.9"/><circle cx="455.0" cy="321.7" r="3.9"/><circle cx="457.7" cy="324.2" r="3.9"/><circle cx="457.7" cy="326.2" r="3.9"/><circle cx="460.5" cy="323.6" r="3.9"/><circle cx="460.5" cy="334.9" r="3.9"/><circle cx="463.2" cy="323.9" r="3.9"/><circle cx="463.2" cy="331.1" r="3.9"/><circle cx="465.9" cy="323.0" r="3.9"/><circle cx="465.9" cy="330.1" r="3.9"/><circle cx="468.7" cy="316.2" r="3.9"/><circle cx="468.7" cy="335.8" r="3.9"/><circle cx="471.4" cy="313.8" r="3.9"/><circle cx="471.4" cy="337.8" r="3.9"/><circle cx="474.2" cy="314.9" r="3.9"/><circle cx="474.2" cy="333.7" r="3.9"/><circle cx="476.9" cy="312.6" r="3.9"/><circle cx="476.9" cy="338.3" r="3.9"/><circle cx="479.6" cy="312.0" r="3.9"/><circle cx="479.6" cy="342.9" r="3.9"/><circle cx="482.4" cy="310.6" r="3.9"/><circle cx="482.4" cy="340.9" r="3.9"/><circle cx="485.1" cy="314.2" r="3.9"/><circle cx="485.1" cy="337.3" r="3.9"/></g>
<polyline points="66.2,351.3 68.9,351.3 71.7,351.1 74.4,350.9 77.2,350.7 79.9,350.3 82.6,349.9 85.4,349.3 88.1,348.8 90.8,348.1 93.6,347.4 96.3,346.6 99.1,345.7 101.8,344.8 104.5,343.8 107.3,342.7 110.0,341.6 112.7,340.5 115.5,339.3 118.2,338.0 121.0,336.7 123.7,335.4 126.4,334.1 129.2,332.7 131.9,331.3 134.7,329.8 137.4,328.4 140.1,326.9 142.9,325.5 145.6,324.0 148.3,322.6 151.1,321.1 153.8,319.7 156.6,318.3 159.3,316.9 162.0,315.5 164.8,314.1 167.5,312.8 170.2,311.5 173.0,310.3 175.7,309.1 178.5,308.0 181.2,306.9 183.9,305.8 186.7,304.8 189.4,303.9 192.1,303.1 194.9,302.3 197.6,301.6 200.4,300.9 203.1,300.3 205.8,299.8 208.6,299.4 211.3,299.1 214.1,298.8 216.8,298.6 219.5,298.5 222.3,298.5 225.0,298.6 227.7,298.7 230.5,298.9 233.2,299.2 236.0,299.6 238.7,300.0 241.4,300.6 244.2,301.2 246.9,301.8 249.6,302.6 252.4,303.4 255.1,304.3 257.9,305.2 260.6,306.2 263.3,307.3 266.1,308.4 268.8,309.6 271.6,310.8 274.3,312.0 277.0,313.3 279.8,314.7 282.5,316.0 285.2,317.4 288.0,318.8 290.7,320.3 293.5,321.7 296.2,323.1 298.9,324.6 301.7,326.1 304.4,327.5 307.1,329.0 309.9,330.4 312.6,331.8 315.4,333.2 318.1,334.6 320.8,335.9 323.6,337.2 326.3,338.5 329.0,339.7 331.8,340.9 334.5,342.1 337.3,343.2 340.0,344.2 342.7,345.1 345.5,346.1 348.2,346.9 351.0,347.7 353.7,348.4 356.4,349.0 359.2,349.6 361.9,350.0 364.6,350.5 367.4,350.8 370.1,351.0 372.9,351.2 375.6,351.3 378.3,351.3 381.1,351.2 383.8,351.1 386.5,350.8 389.3,350.5 392.0,350.1 394.8,349.7 397.5,349.1 400.2,348.5 403.0,347.8 405.7,347.1 408.4,346.2 411.2,345.3 413.9,344.4 416.7,343.4 419.4,342.3 422.1,341.2 424.9,340.0 427.6,338.8 430.4,337.5 433.1,336.2 435.8,334.9 438.6,333.5 441.3,332.1 444.0,330.7 446.8,329.3 449.5,327.8 452.3,326.4 455.0,324.9 457.7,323.4 460.5,322.0 463.2,320.5 465.9,319.1 468.7,317.7 471.4,316.3 474.2,314.9 476.9,313.6 479.6,312.3 482.4,311.0 485.1,309.8" fill="none" stroke="#1f77b4" stroke-width="3.4" stroke-linejoin="round" stroke-linecap="square"/>
<polyline points="66.2,298.5 68.9,298.5 71.7,298.7 74.4,298.9 77.2,299.1 79.9,299.5 82.6,299.9 85.4,300.5 88.1,301.0 90.8,301.7 93.6,302.4 96.3,303.2 99.1,304.1 101.8,305.0 104.5,306.0 107.3,307.1 110.0,308.2 112.7,309.3 115.5,310.5 118.2,311.8 121.0,313.1 123.7,314.4 126.4,315.7 129.2,317.1 131.9,318.5 134.7,320.0 137.4,321.4 140.1,322.9 142.9,324.3 145.6,325.8 148.3,327.2 151.1,328.7 153.8,330.1 156.6,331.5 159.3,332.9 162.0,334.3 164.8,335.7 167.5,337.0 170.2,338.3 173.0,339.5 175.7,340.7 178.5,341.8 181.2,342.9 183.9,344.0 186.7,345.0 189.4,345.9 192.1,346.7 194.9,347.5 197.6,348.2 200.4,348.9 203.1,349.5 205.8,350.0 208.6,350.4 211.3,350.7 214.1,351.0 216.8,351.2 219.5,351.3 222.3,351.3 225.0,351.2 227.7,351.1 230.5,350.9 233.2,350.6 236.0,350.2 238.7,349.8 241.4,349.2 244.2,348.6 246.9,348.0 249.6,347.2 252.4,346.4 255.1,345.5 257.9,344.6 260.6,343.6 263.3,342.5 266.1,341.4 268.8,340.2 271.6,339.0 274.3,337.8 277.0,336.5 279.8,335.1 282.5,333.8 285.2,332.4 288.0,331.0 290.7,329.5 293.5,328.1 296.2,326.7 298.9,325.2 301.7,323.7 304.4,322.3 307.1,320.8 309.9,319.4 312.6,318.0 315.4,316.6 318.1,315.2 320.8,313.9 323.6,312.6 326.3,311.3 329.0,310.1 331.8,308.9 334.5,307.7 337.3,306.6 340.0,305.6 342.7,304.7 345.5,303.7 348.2,302.9 351.0,302.1 353.7,301.4 356.4,300.8 359.2,300.2 361.9,299.8 364.6,299.3 367.4,299.0 370.1,298.8 372.9,298.6 375.6,298.5 378.3,298.5 381.1,298.6 383.8,298.7 386.5,299.0 389.3,299.3 392.0,299.7 394.8,300.1 397.5,300.7 400.2,301.3 403.0,302.0 405.7,302.7 408.4,303.6 411.2,304.5 413.9,305.4 416.7,306.4 419.4,307.5 422.1,308.6 424.9,309.8 427.6,311.0 430.4,312.3 433.1,313.6 435.8,314.9 438.6,316.3 441.3,317.7 444.0,319.1 446.8,320.5 449.5,322.0 452.3,323.4 455.0,324.9 457.7,326.4 460.5,327.8 463.2,329.3 465.9,330.7 468.7,332.1 471.4,333.5 474.2,334.9 476.9,336.2 479.6,337.5 482.4,338.8 485.1,340.0" fill="none" stroke="#ff7f0e" stroke-width="3.4" stroke-linejoin="round" stroke-linecap="square"/>
<path d="M66.20 358.00v7.90" stroke="#000" stroke-width="1.80"/>
<text x="66.20" y="387.60" font-size="17.60" text-anchor="middle" >0</text>
<path d="M175.72 358.00v7.90" stroke="#000" stroke-width="1.80"/>
<text x="175.72" y="387.60" font-size="17.60" text-anchor="middle" >200</text>
<path d="M285.24 358.00v7.90" stroke="#000" stroke-width="1.80"/>
<text x="285.24" y="387.60" font-size="17.60" text-anchor="middle" >400</text>
<path d="M394.76 358.00v7.90" stroke="#000" stroke-width="1.80"/>
<text x="394.76" y="387.60" font-size="17.60" text-anchor="middle" >600</text>
<path d="M504.28 358.00v7.90" stroke="#000" stroke-width="1.80"/>
<text x="504.28" y="387.60" font-size="17.60" text-anchor="middle" >800</text>
<path d="M45.50 351.30h-7.90" stroke="#000" stroke-width="1.80"/>
<text x="35.80" y="358.10" font-size="17.60" text-anchor="end" >0</text>
<path d="M45.50 298.50h-7.90" stroke="#000" stroke-width="1.80"/>
<text x="35.80" y="305.30" font-size="17.60" text-anchor="end" >1</text>
<rect x="45.50" y="288.20" width="458.90" height="69.80" fill="none" stroke="#000" stroke-width="1.80"/>
<text x="275.00" y="409.20" font-size="22.00" text-anchor="middle" >Duration [ns]</text>
<text transform="translate(16.20,325.00) rotate(-90)" font-size="22.00" text-anchor="middle"><tspan font-style="italic">P</tspan><tspan dy="4.2" font-size="15.40">e</tspan></text>
</svg>
</body></html>
